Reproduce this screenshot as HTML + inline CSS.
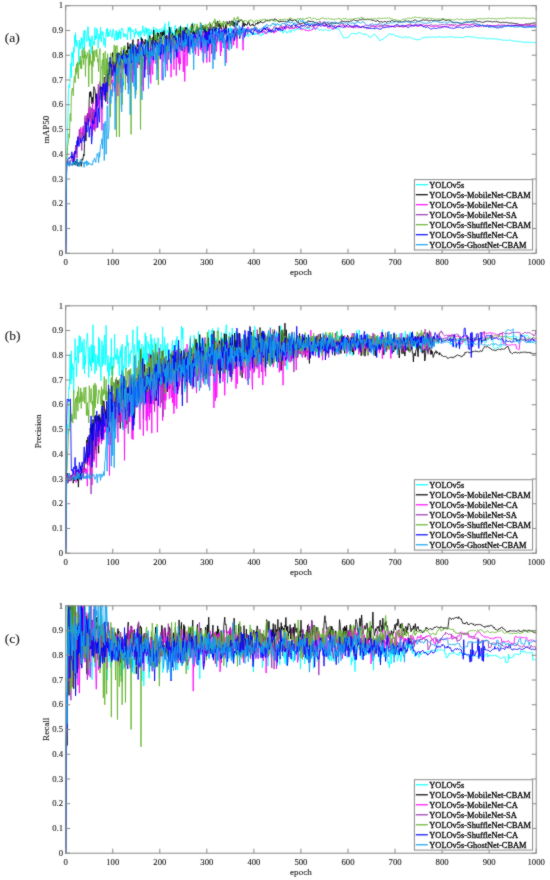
<!DOCTYPE html><html><head><meta charset="utf-8"><style>html,body{margin:0;padding:0;background:#fff;}svg{display:block;}text{font-family:'Liberation Serif','Times New Roman',serif;fill:#1a1a1a;stroke:#1a1a1a;stroke-width:0.12px;}text.lg{stroke-width:0.28px;fill:#000;stroke:#000}</style></head><body>
<svg width="550" height="880" viewBox="0 0 550 880">
<rect width="550" height="880" fill="#fff"/>
<defs><filter id="bl" filterUnits="userSpaceOnUse" x="0" y="0" width="550" height="880" color-interpolation-filters="sRGB"><feConvolveMatrix order="3" kernelMatrix="1 2 1 2 20 2 1 2 1" divisor="32" edgeMode="duplicate"/></filter></defs><g filter="url(#bl)"><rect width="550" height="880" fill="#fff"/>
<g transform="translate(65.70 253.30) scale(0.47050 -0.24760)" fill="none" stroke-width="0.85" stroke-linejoin="round" vector-effect="non-scaling-stroke">
<path vector-effect="non-scaling-stroke" stroke="#00FFFF" d="M0 0 1 298 2 385 3 441 4 496 5 571 6 653 7 681 8 669 9 687 10 741 11 769 12 709 13 813 14 789 15 810 16 756 17 831 18 811 19 881 20 848 21 891 22 833 23 862 24 853 25 850 26 833 27 828 28 759 29 861 30 827 31 850 32 826 33 872 34 844 35 868 36 806 37 848 38 880 39 900 40 827 41 900 42 898 43 883 44 870 45 854 46 881 47 916 48 913 49 859 50 875 51 835 52 865 53 842 54 806 55 876 56 879 57 875 58 840 59 852 60 858 61 841 62 912 63 862 64 880 65 867 66 909 67 905 68 886 69 828 70 857 71 886 72 864 73 866 74 914 75 855 76 854 77 897 78 882 79 895 80 887 81 840 82 869 83 865 84 831 85 872 86 894 87 906 88 876 89 910 90 875 91 894 92 876 93 878 94 892 95 904 96 893 97 883 98 872 99 871 100 898 101 906 102 891 103 877 104 859 105 875 106 881 107 900 108 862 109 896 110 885 111 861 112 892 113 868 114 903 115 883 116 895 117 865 118 906 119 910 120 905 121 906 122 895 123 874 124 888 125 883 126 873 127 876 128 886 129 879 130 878 131 862 132 893 133 912 134 895 135 899 136 914 137 912 138 864 139 908 140 900 141 901 142 894 143 900 144 899 145 890 146 869 147 891 148 884 149 908 150 892 151 896 152 884 153 885 154 894 155 875 156 897 157 889 158 880 159 862 160 899 161 884 162 888 163 892 164 919 165 898 166 892 167 877 168 906 169 910 170 912 171 885 172 909 173 894 174 905 175 843 176 877 177 908 178 873 179 891 180 893 181 883 182 903 183 895 184 887 185 887 186 892 187 915 188 904 189 892 190 863 191 877 192 909 193 898 194 894 195 904 196 859 197 888 198 891 199 905 200 890 201 889 202 876 203 905 204 909 205 894 206 900 207 860 208 890 209 915 210 902 211 928 212 893 213 875 214 897 215 901 216 900 217 892 218 887 219 936 220 903 221 874 222 886 223 906 224 887 225 914 226 877 227 896 228 893 229 871 230 888 231 879 232 911 233 921 234 887 235 883 236 875 237 884 238 858 239 879 240 912 241 897 242 910 243 895 244 921 245 858 246 896 247 914 248 901 249 864 250 900 251 900 252 905 253 891 254 908 255 912 256 894 257 901 258 874 259 927 260 896 261 894 262 877 263 894 264 899 265 910 266 895 267 872 268 883 269 888 270 931 271 885 272 895 273 884 274 886 275 898 276 901 277 892 278 884 279 915 280 890 281 894 282 898 283 894 284 864 285 896 286 888 287 887 288 891 289 908 290 889 291 882 292 905 293 911 294 892 295 900 296 893 297 905 298 857 299 904 300 890 301 913 302 911 303 856 304 871 305 900 306 900 307 881 308 900 309 906 310 900 311 896 312 913 313 893 314 910 315 906 316 894 317 896 318 890 319 905 320 877 321 888 322 888 323 900 324 910 325 888 326 906 327 875 328 901 329 898 330 903 331 867 332 901 333 899 334 903 335 899 336 903 337 892 338 907 339 888 340 886 341 896 342 911 343 908 344 901 345 889 346 893 347 896 348 904 349 911 350 894 351 912 352 903 353 894 354 908 355 893 356 898 357 899 358 905 359 909 360 894 361 909 362 911 363 902 364 894 365 888 366 891 367 888 368 885 369 893 370 896 371 892 372 897 373 904 374 894 375 889 376 896 377 898 378 898 379 902 380 893 381 884 382 881 383 884 384 881 385 880 386 877 387 877 388 874 389 879 390 884 391 883 392 882 393 880 394 884 395 884 396 891 397 886 398 887 399 888 400 886 401 888 402 882 403 891 404 885 405 889 406 884 407 889 408 887 409 888 410 888 411 892 412 890 413 879 414 877 415 879 416 879 417 883 418 887 419 887 420 882 421 888 422 892 423 890 424 897 425 895 426 890 427 889 428 893 429 889 430 896 431 892 432 895 433 896 434 895 435 898 436 892 437 896 438 895 439 893 440 895 441 898 442 900 443 905 444 907 445 909 446 906 447 905 448 905 449 904 450 903 451 904 452 905 453 904 454 902 455 899 456 896 457 899 458 899 459 901 460 897 461 892 462 889 463 894 464 898 465 899 466 897 467 897 468 896 469 896 470 890 471 889 472 890 473 895 474 897 475 901 476 901 477 901 478 891 479 894 480 897 481 902 482 902 483 903 484 902 485 899 486 899 487 899 488 904 489 904 490 903 491 905 492 906 493 905 494 909 495 905 496 905 497 908 498 905 499 907 500 911 501 912 502 908 503 906 504 909 505 909 506 909 507 910 508 911 509 909 510 908 511 908 512 907 513 906 514 908 515 906 516 910 517 913 518 908 519 907 520 908 521 906 522 904 523 903 524 905 525 904 526 907 527 907 528 906 529 909 530 909 531 909 532 908 533 910 534 911 535 910 536 906 537 906 538 904 539 901 540 900 541 901 542 903 543 903 544 904 545 901 546 901 547 901 548 902 549 902 550 903 551 902 552 903 553 903 554 901 555 902 556 901 557 899 558 901 559 900 560 899 561 899 562 900 563 902 564 902 565 903 566 905 567 906 568 907 569 906 570 907 571 907 572 909 573 907 574 906 575 908 576 907 577 907 578 907 579 906 580 908 581 903 582 900 583 897 584 894 585 890 586 886 587 884 588 879 589 877 590 872 591 869 592 870 593 869 594 871 595 872 596 872 597 871 598 871 599 872 600 872 601 872 602 874 603 879 604 881 605 884 606 886 607 888 608 887 609 887 610 888 611 888 612 888 613 888 614 888 615 887 616 885 617 884 618 885 619 887 620 890 621 890 622 892 623 893 624 892 625 891 626 891 627 889 628 888 629 888 630 886 631 885 632 886 633 885 634 885 635 885 636 886 637 885 638 885 639 884 640 882 641 882 642 880 643 878 644 877 645 873 646 872 647 872 648 873 649 876 650 876 651 877 652 879 653 881 654 883 655 883 656 885 657 885 658 882 659 880 660 877 661 875 662 875 663 871 664 867 665 866 666 863 667 862 668 858 669 860 670 861 671 862 672 864 673 864 674 864 675 867 676 868 677 870 678 871 679 873 680 873 681 873 682 876 683 877 684 880 685 880 686 883 687 884 688 886 689 888 690 887 691 884 692 882 693 884 694 884 695 883 696 882 697 883 698 882 699 880 700 881 701 881 702 878 703 877 704 877 705 877 706 876 707 875 708 874 709 874 710 873 711 873 712 874 713 873 714 873 715 871 716 871 717 872 718 872 719 873 720 873 721 873 722 874 723 873 724 874 725 874 726 872 727 873 728 874 729 873 730 873 731 872 732 871 733 871 734 870 735 870 736 868 737 868 738 867 739 866 740 864 741 865 742 866 743 864 744 864 745 863 746 863 747 862 748 862 749 862 750 863 751 863 752 865 753 863 754 865 755 866 756 867 757 869 758 870 759 871 760 870 761 871 762 871 763 871 764 873 765 873 766 873 767 873 768 872 769 873 770 874 771 874 772 872 773 873 774 873 775 872 776 873 777 873 778 873 779 875 780 874 781 873 782 872 783 873 784 873 785 873 786 873 787 873 788 873 789 873 790 873 791 875 792 874 793 874 794 875 795 875 796 874 797 874 798 873 799 873 800 872 801 873 802 873 803 873 804 873 805 873 806 873 807 873 808 872 809 873 810 873 811 873 812 875 813 874 814 875 815 874 816 874 817 874 818 875 819 875 820 875 821 874 822 874 823 873 824 873 825 872 826 872 827 872 828 872 829 872 830 872 831 873 832 872 833 872 834 872 835 872 836 872 837 872 838 872 839 872 840 871 841 871 842 871 843 871 844 871 845 871 846 872 847 873 848 874 849 874 850 875 851 875 852 875 853 875 854 875 855 875 856 875 857 874 858 875 859 876 860 875 861 873 862 873 863 873 864 873 865 873 866 873 867 874 868 874 869 873 870 873 871 872 872 872 873 871 874 870 875 870 876 870 877 870 878 870 879 869 880 869 881 869 882 869 883 869 884 870 885 870 886 870 887 870 888 870 889 870 890 869 891 869 892 868 893 868 894 866 895 866 896 867 897 866 898 867 899 867 900 866 901 867 902 867 903 866 904 867 905 866 906 866 907 866 908 866 909 867 910 867 911 866 912 866 913 866 914 865 915 865 916 866 917 866 918 865 919 865 920 865 921 864 922 863 923 863 924 863 925 863 926 862 927 862 928 862 929 861 930 861 931 860 932 860 933 862 934 862 935 861 936 861 937 860 938 860 939 860 940 861 941 860 942 860 943 861 944 862 945 861 946 861 947 861 948 859 949 859 950 858 951 858 952 857 953 857 954 857 955 857 956 857 957 856 958 856 959 857 960 855 961 855 962 856 963 855 964 855 965 855 966 855 967 855 968 854 969 854 970 854 971 853 972 852 973 852 974 852 975 852 976 852 977 852 978 853 979 854 980 854 981 853 982 852 983 852 984 852 985 852 986 852 987 851 988 852 989 852 990 852 991 851 992 851 993 851 994 850 995 851 996 851 997 851 998 851 999 851 1000 852"/>
<path vector-effect="non-scaling-stroke" stroke="#000000" d="M0 0 1 186 2 368 3 364 4 363 5 359 6 356 7 355 8 355 9 366 10 363 11 363 12 359 13 356 14 355 15 357 16 366 17 365 18 362 19 363 20 356 21 372 22 359 23 365 24 381 25 352 26 354 27 359 28 367 29 355 30 364 31 367 32 370 33 351 34 371 35 382 36 376 37 384 38 400 39 393 40 443 41 485 42 498 43 454 44 501 45 529 46 541 47 566 48 553 49 543 50 621 51 651 52 632 53 654 54 647 55 616 56 603 57 630 58 604 59 638 60 673 61 665 62 664 63 644 64 597 65 645 66 620 67 595 68 622 69 603 70 656 71 664 72 669 73 669 74 648 75 627 76 672 77 638 78 672 79 683 80 681 81 670 82 712 83 690 84 679 85 664 86 684 87 714 88 743 89 727 90 740 91 680 92 771 93 760 94 774 95 761 96 733 97 710 98 753 99 776 100 811 101 745 102 738 103 772 104 732 105 773 106 740 107 735 108 807 109 780 110 785 111 786 112 778 113 788 114 808 115 760 116 769 117 780 118 817 119 793 120 804 121 783 122 787 123 828 124 754 125 827 126 797 127 813 128 815 129 798 130 821 131 797 132 851 133 826 134 834 135 814 136 827 137 846 138 752 139 839 140 765 141 807 142 849 143 863 144 832 145 834 146 799 147 820 148 822 149 831 150 823 151 817 152 844 153 835 154 865 155 838 156 762 157 835 158 810 159 847 160 831 161 871 162 847 163 866 164 848 165 840 166 844 167 852 168 842 169 864 170 851 171 842 172 855 173 859 174 835 175 839 176 844 177 859 178 872 179 879 180 865 181 853 182 841 183 850 184 857 185 872 186 827 187 902 188 861 189 877 190 830 191 880 192 855 193 865 194 854 195 891 196 886 197 889 198 876 199 881 200 861 201 853 202 893 203 852 204 872 205 894 206 879 207 893 208 883 209 900 210 881 211 873 212 845 213 876 214 856 215 881 216 850 217 857 218 874 219 864 220 888 221 914 222 893 223 893 224 879 225 878 226 864 227 888 228 860 229 875 230 876 231 847 232 847 233 814 234 901 235 892 236 907 237 898 238 894 239 897 240 859 241 902 242 896 243 827 244 916 245 880 246 879 247 870 248 896 249 890 250 904 251 902 252 902 253 863 254 913 255 896 256 884 257 912 258 899 259 861 260 883 261 895 262 891 263 821 264 896 265 897 266 894 267 891 268 924 269 927 270 906 271 898 272 884 273 895 274 891 275 885 276 902 277 887 278 908 279 913 280 916 281 881 282 885 283 905 284 908 285 911 286 904 287 916 288 906 289 906 290 902 291 916 292 922 293 914 294 895 295 890 296 917 297 891 298 897 299 882 300 898 301 877 302 914 303 907 304 863 305 905 306 884 307 925 308 927 309 901 310 906 311 909 312 914 313 910 314 913 315 915 316 898 317 897 318 924 319 932 320 926 321 905 322 932 323 938 324 916 325 916 326 929 327 922 328 907 329 922 330 920 331 904 332 919 333 925 334 925 335 924 336 911 337 904 338 903 339 907 340 924 341 888 342 917 343 936 344 933 345 926 346 930 347 928 348 938 349 938 350 919 351 920 352 923 353 939 354 938 355 920 356 939 357 930 358 914 359 933 360 926 361 927 362 924 363 928 364 920 365 921 366 940 367 941 368 933 369 939 370 938 371 940 372 941 373 943 374 942 375 938 376 938 377 916 378 936 379 928 380 917 381 928 382 922 383 926 384 923 385 920 386 923 387 932 388 929 389 936 390 930 391 921 392 919 393 918 394 923 395 924 396 922 397 921 398 927 399 921 400 918 401 918 402 919 403 923 404 928 405 926 406 928 407 925 408 934 409 933 410 928 411 932 412 932 413 935 414 938 415 932 416 934 417 933 418 931 419 931 420 931 421 932 422 935 423 935 424 936 425 940 426 938 427 939 428 939 429 942 430 938 431 939 432 942 433 942 434 943 435 942 436 943 437 942 438 944 439 943 440 941 441 940 442 939 443 946 444 947 445 946 446 945 447 946 448 944 449 942 450 940 451 939 452 938 453 935 454 936 455 933 456 935 457 939 458 937 459 935 460 938 461 937 462 937 463 937 464 936 465 934 466 937 467 937 468 936 469 935 470 933 471 935 472 936 473 941 474 938 475 943 476 943 477 946 478 941 479 941 480 942 481 938 482 939 483 941 484 939 485 941 486 942 487 944 488 943 489 939 490 938 491 939 492 933 493 935 494 935 495 935 496 928 497 927 498 927 499 927 500 929 501 928 502 927 503 930 504 932 505 932 506 931 507 927 508 929 509 929 510 933 511 932 512 933 513 932 514 933 515 939 516 939 517 936 518 937 519 938 520 934 521 937 522 935 523 937 524 937 525 936 526 937 527 936 528 933 529 932 530 932 531 930 532 931 533 929 534 931 535 931 536 931 537 926 538 928 539 924 540 924 541 922 542 926 543 926 544 928 545 929 546 929 547 931 548 928 549 931 550 932 551 933 552 929 553 926 554 924 555 924 556 926 557 926 558 927 559 927 560 926 561 926 562 926 563 928 564 929 565 930 566 933 567 930 568 928 569 930 570 931 571 930 572 928 573 928 574 929 575 931 576 930 577 931 578 929 579 926 580 930 581 929 582 931 583 933 584 933 585 935 586 939 587 938 588 938 589 936 590 936 591 937 592 937 593 936 594 935 595 935 596 937 597 936 598 936 599 935 600 936 601 936 602 936 603 938 604 936 605 938 606 939 607 937 608 938 609 940 610 942 611 942 612 944 613 942 614 942 615 940 616 940 617 940 618 939 619 940 620 939 621 939 622 940 623 942 624 942 625 944 626 942 627 943 628 944 629 944 630 947 631 946 632 947 633 945 634 943 635 943 636 945 637 945 638 944 639 944 640 946 641 946 642 946 643 945 644 944 645 945 646 943 647 944 648 944 649 943 650 942 651 942 652 941 653 940 654 942 655 941 656 939 657 938 658 938 659 937 660 937 661 938 662 939 663 941 664 938 665 937 666 937 667 934 668 933 669 935 670 935 671 935 672 936 673 933 674 932 675 933 676 935 677 937 678 936 679 937 680 935 681 935 682 932 683 933 684 936 685 936 686 936 687 937 688 938 689 936 690 937 691 937 692 939 693 940 694 940 695 940 696 937 697 937 698 937 699 937 700 936 701 937 702 938 703 937 704 937 705 935 706 936 707 936 708 933 709 934 710 934 711 936 712 936 713 934 714 933 715 935 716 935 717 934 718 935 719 937 720 938 721 938 722 939 723 938 724 937 725 937 726 936 727 938 728 940 729 937 730 937 731 935 732 936 733 935 734 936 735 938 736 937 737 937 738 939 739 940 740 941 741 942 742 941 743 943 744 941 745 940 746 937 747 936 748 937 749 937 750 937 751 936 752 936 753 938 754 939 755 939 756 940 757 942 758 942 759 942 760 943 761 942 762 942 763 941 764 941 765 942 766 942 767 942 768 942 769 943 770 940 771 939 772 939 773 939 774 939 775 940 776 941 777 942 778 941 779 940 780 939 781 940 782 940 783 940 784 941 785 941 786 940 787 940 788 939 789 937 790 938 791 940 792 941 793 940 794 939 795 940 796 940 797 941 798 942 799 942 800 944 801 943 802 945 803 945 804 944 805 944 806 942 807 940 808 941 809 940 810 940 811 942 812 942 813 942 814 942 815 942 816 941 817 941 818 940 819 938 820 936 821 934 822 934 823 931 824 932 825 932 826 931 827 932 828 933 829 933 830 932 831 932 832 931 833 932 834 931 835 931 836 931 837 930 838 929 839 929 840 929 841 929 842 930 843 928 844 929 845 930 846 931 847 931 848 932 849 933 850 932 851 934 852 935 853 934 854 933 855 934 856 935 857 933 858 933 859 935 860 935 861 937 862 937 863 936 864 936 865 937 866 937 867 938 868 938 869 938 870 939 871 939 872 938 873 938 874 937 875 934 876 935 877 935 878 936 879 936 880 936 881 934 882 935 883 935 884 933 885 933 886 934 887 932 888 933 889 935 890 935 891 936 892 936 893 935 894 936 895 938 896 938 897 937 898 937 899 937 900 937 901 936 902 936 903 936 904 937 905 935 906 935 907 934 908 934 909 935 910 936 911 936 912 936 913 935 914 935 915 936 916 937 917 934 918 934 919 935 920 934 921 934 922 933 923 932 924 931 925 932 926 932 927 932 928 933 929 933 930 933 931 932 932 933 933 932 934 932 935 932 936 933 937 933 938 933 939 932 940 931 941 930 942 930 943 930 944 931 945 930 946 930 947 930 948 930 949 929 950 929 951 929 952 929 953 929 954 928 955 929 956 927 957 928 958 928 959 928 960 927 961 926 962 925 963 925 964 924 965 924 966 924 967 924 968 922 969 922 970 923 971 923 972 923 973 923 974 923 975 924 976 925 977 926 978 927 979 926 980 926 981 926 982 926 983 927 984 926 985 926 986 926 987 927 988 927 989 927 990 929 991 929 992 930 993 929 994 930 995 929 996 930 997 930 998 931 999 931 1000 931"/>
<path vector-effect="non-scaling-stroke" stroke="#FF00FF" d="M0 0 1 175 2 370 3 364 4 364 5 360 6 360 7 362 8 361 9 361 10 370 11 374 12 374 13 372 14 372 15 373 16 389 17 388 18 406 19 389 20 411 21 409 22 401 23 435 24 434 25 454 26 470 27 470 28 458 29 475 30 502 31 483 32 509 33 501 34 496 35 475 36 477 37 505 38 466 39 482 40 508 41 528 42 523 43 547 44 523 45 552 46 562 47 557 48 535 49 584 50 555 51 567 52 540 53 505 54 558 55 537 56 476 57 609 58 552 59 499 60 581 61 580 62 503 63 601 64 563 65 505 66 586 67 627 68 601 69 645 70 595 71 586 72 632 73 636 74 635 75 632 76 628 77 497 78 638 79 636 80 670 81 642 82 632 83 671 84 683 85 680 86 721 87 673 88 704 89 603 90 695 91 677 92 682 93 682 94 675 95 659 96 685 97 696 98 685 99 700 100 652 101 741 102 737 103 730 104 654 105 721 106 710 107 610 108 699 109 716 110 748 111 635 112 769 113 757 114 790 115 742 116 670 117 727 118 648 119 741 120 764 121 743 122 759 123 780 124 743 125 765 126 772 127 766 128 771 129 769 130 757 131 781 132 752 133 774 134 661 135 731 136 772 137 769 138 771 139 706 140 722 141 763 142 690 143 734 144 753 145 790 146 718 147 814 148 775 149 819 150 776 151 809 152 748 153 752 154 817 155 858 156 808 157 788 158 792 159 814 160 746 161 756 162 772 163 744 164 754 165 656 166 759 167 802 168 803 169 819 170 742 171 818 172 783 173 808 174 746 175 755 176 818 177 796 178 720 179 810 180 692 181 686 182 805 183 792 184 740 185 722 186 832 187 768 188 814 189 817 190 839 191 855 192 843 193 797 194 811 195 742 196 829 197 836 198 826 199 818 200 813 201 882 202 848 203 826 204 815 205 700 206 823 207 772 208 838 209 832 210 862 211 812 212 771 213 852 214 872 215 775 216 738 217 853 218 856 219 817 220 808 221 808 222 818 223 813 224 711 225 807 226 838 227 840 228 854 229 843 230 742 231 864 232 828 233 837 234 844 235 718 236 810 237 819 238 789 239 814 240 767 241 859 242 740 243 789 244 765 245 836 246 819 247 859 248 857 249 815 250 733 251 837 252 865 253 694 254 792 255 807 256 843 257 862 258 757 259 840 260 880 261 858 262 849 263 837 264 860 265 870 266 859 267 841 268 881 269 871 270 865 271 878 272 865 273 843 274 844 275 825 276 803 277 830 278 871 279 841 280 833 281 861 282 797 283 883 284 864 285 845 286 838 287 821 288 863 289 826 290 812 291 867 292 840 293 769 294 852 295 875 296 808 297 849 298 887 299 883 300 770 301 869 302 900 303 840 304 834 305 860 306 772 307 905 308 888 309 865 310 883 311 815 312 876 313 852 314 788 315 784 316 800 317 862 318 885 319 874 320 815 321 843 322 849 323 855 324 886 325 879 326 885 327 889 328 845 329 797 330 895 331 815 332 908 333 885 334 877 335 882 336 875 337 860 338 860 339 846 340 862 341 769 342 860 343 845 344 826 345 862 346 871 347 861 348 870 349 881 350 875 351 888 352 888 353 832 354 867 355 888 356 903 357 841 358 909 359 886 360 904 361 916 362 903 363 896 364 828 365 898 366 905 367 898 368 888 369 884 370 880 371 893 372 898 373 890 374 892 375 886 376 865 377 820 378 889 379 893 380 887 381 896 382 879 383 894 384 906 385 906 386 908 387 914 388 913 389 909 390 906 391 899 392 903 393 893 394 898 395 903 396 906 397 905 398 901 399 903 400 908 401 909 402 912 403 904 404 904 405 906 406 897 407 895 408 889 409 884 410 889 411 895 412 897 413 896 414 893 415 894 416 892 417 897 418 892 419 891 420 899 421 895 422 898 423 897 424 886 425 889 426 891 427 887 428 891 429 897 430 897 431 900 432 897 433 903 434 903 435 904 436 899 437 898 438 903 439 905 440 902 441 895 442 889 443 893 444 891 445 892 446 900 447 896 448 895 449 900 450 901 451 906 452 910 453 907 454 906 455 909 456 909 457 908 458 912 459 913 460 905 461 913 462 917 463 913 464 916 465 913 466 904 467 905 468 908 469 913 470 909 471 912 472 911 473 912 474 911 475 911 476 906 477 909 478 908 479 910 480 908 481 910 482 913 483 912 484 909 485 908 486 909 487 912 488 913 489 913 490 915 491 909 492 908 493 911 494 912 495 913 496 915 497 910 498 912 499 912 500 903 501 907 502 904 503 904 504 906 505 905 506 905 507 905 508 903 509 903 510 898 511 902 512 900 513 898 514 900 515 901 516 898 517 897 518 902 519 902 520 900 521 900 522 902 523 902 524 904 525 904 526 910 527 916 528 915 529 910 530 905 531 903 532 908 533 909 534 912 535 915 536 916 537 917 538 923 539 920 540 921 541 924 542 927 543 927 544 925 545 928 546 930 547 923 548 917 549 917 550 921 551 917 552 918 553 919 554 921 555 918 556 915 557 910 558 910 559 910 560 909 561 910 562 911 563 913 564 911 565 910 566 911 567 908 568 904 569 906 570 906 571 911 572 911 573 909 574 912 575 914 576 914 577 917 578 918 579 919 580 918 581 914 582 915 583 916 584 918 585 918 586 920 587 921 588 922 589 923 590 923 591 920 592 915 593 914 594 913 595 914 596 913 597 916 598 917 599 916 600 915 601 914 602 915 603 916 604 920 605 915 606 915 607 915 608 912 609 912 610 912 611 914 612 913 613 913 614 917 615 916 616 918 617 918 618 921 619 916 620 914 621 911 622 911 623 912 624 914 625 915 626 913 627 913 628 914 629 913 630 915 631 915 632 918 633 917 634 919 635 919 636 921 637 922 638 921 639 920 640 922 641 920 642 922 643 922 644 919 645 921 646 921 647 920 648 921 649 918 650 918 651 920 652 919 653 921 654 919 655 917 656 919 657 914 658 916 659 919 660 918 661 921 662 921 663 924 664 924 665 924 666 920 667 920 668 917 669 918 670 916 671 915 672 917 673 915 674 915 675 916 676 918 677 920 678 919 679 919 680 918 681 919 682 919 683 918 684 918 685 918 686 917 687 916 688 917 689 917 690 916 691 917 692 916 693 915 694 916 695 916 696 914 697 915 698 915 699 915 700 916 701 918 702 919 703 920 704 919 705 918 706 918 707 918 708 916 709 915 710 916 711 917 712 915 713 916 714 917 715 915 716 914 717 914 718 913 719 916 720 915 721 915 722 915 723 917 724 917 725 920 726 919 727 919 728 919 729 920 730 921 731 921 732 921 733 920 734 920 735 919 736 920 737 920 738 918 739 917 740 917 741 918 742 919 743 918 744 921 745 919 746 918 747 917 748 916 749 916 750 917 751 917 752 919 753 920 754 919 755 921 756 922 757 922 758 922 759 922 760 922 761 923 762 921 763 921 764 919 765 920 766 919 767 920 768 921 769 920 770 919 771 920 772 920 773 919 774 918 775 918 776 916 777 916 778 916 779 916 780 915 781 916 782 916 783 916 784 917 785 918 786 916 787 916 788 917 789 919 790 918 791 917 792 917 793 917 794 916 795 916 796 916 797 915 798 915 799 915 800 914 801 917 802 914 803 914 804 915 805 916 806 917 807 916 808 914 809 914 810 913 811 914 812 914 813 915 814 916 815 919 816 919 817 920 818 920 819 920 820 921 821 921 822 919 823 919 824 920 825 921 826 919 827 919 828 918 829 916 830 916 831 915 832 919 833 918 834 918 835 919 836 921 837 921 838 921 839 923 840 924 841 924 842 924 843 922 844 922 845 922 846 923 847 924 848 924 849 926 850 926 851 924 852 923 853 924 854 923 855 923 856 922 857 922 858 922 859 923 860 924 861 925 862 925 863 924 864 923 865 925 866 926 867 924 868 922 869 919 870 919 871 917 872 917 873 917 874 917 875 918 876 918 877 917 878 917 879 915 880 915 881 918 882 919 883 919 884 920 885 922 886 923 887 919 888 919 889 919 890 919 891 918 892 919 893 920 894 922 895 922 896 923 897 922 898 921 899 921 900 919 901 916 902 918 903 918 904 918 905 917 906 917 907 918 908 917 909 918 910 917 911 920 912 918 913 921 914 919 915 920 916 920 917 922 918 922 919 923 920 923 921 922 922 921 923 922 924 921 925 920 926 922 927 923 928 921 929 921 930 921 931 923 932 922 933 921 934 921 935 919 936 920 937 920 938 920 939 921 940 922 941 922 942 920 943 920 944 921 945 920 946 921 947 921 948 922 949 921 950 920 951 920 952 920 953 921 954 920 955 921 956 922 957 922 958 922 959 923 960 922 961 922 962 924 963 923 964 925 965 923 966 922 967 923 968 923 969 922 970 922 971 923 972 922 973 923 974 923 975 923 976 923 977 922 978 924 979 924 980 923 981 922 982 923 983 923 984 922 985 921 986 922 987 922 988 922 989 922 990 920 991 920 992 921 993 920 994 921 995 919 996 919 997 919 998 918 999 919 1000 919"/>
<path vector-effect="non-scaling-stroke" stroke="#9A30B0" d="M0 0 1 177 2 360 3 367 4 363 5 360 6 362 7 375 8 369 9 365 10 370 11 375 12 378 13 392 14 380 15 365 16 399 17 398 18 403 19 373 20 393 21 437 22 401 23 413 24 384 25 441 26 457 27 440 28 470 29 500 30 460 31 454 32 482 33 488 34 415 35 473 36 478 37 514 38 476 39 514 40 521 41 556 42 480 43 507 44 515 45 557 46 517 47 524 48 544 49 559 50 563 51 532 52 593 53 543 54 575 55 587 56 524 57 571 58 533 59 581 60 564 61 565 62 492 63 582 64 625 65 602 66 586 67 613 68 610 69 683 70 680 71 623 72 634 73 694 74 671 75 629 76 664 77 582 78 686 79 684 80 654 81 660 82 619 83 707 84 693 85 636 86 722 87 638 88 673 89 608 90 707 91 690 92 698 93 714 94 719 95 707 96 696 97 705 98 735 99 760 100 764 101 716 102 753 103 752 104 775 105 735 106 732 107 714 108 744 109 800 110 800 111 732 112 751 113 770 114 783 115 739 116 764 117 766 118 747 119 776 120 757 121 763 122 747 123 773 124 781 125 764 126 754 127 769 128 779 129 760 130 774 131 722 132 688 133 783 134 794 135 775 136 781 137 793 138 775 139 759 140 764 141 743 142 782 143 791 144 810 145 834 146 813 147 782 148 779 149 796 150 772 151 782 152 769 153 802 154 808 155 796 156 807 157 783 158 805 159 784 160 787 161 806 162 828 163 823 164 829 165 857 166 800 167 815 168 777 169 801 170 839 171 798 172 809 173 814 174 824 175 721 176 833 177 838 178 808 179 725 180 822 181 828 182 828 183 792 184 802 185 817 186 831 187 828 188 849 189 814 190 803 191 803 192 765 193 814 194 801 195 860 196 801 197 824 198 865 199 826 200 838 201 849 202 819 203 834 204 826 205 829 206 859 207 803 208 840 209 842 210 824 211 845 212 844 213 856 214 809 215 850 216 861 217 850 218 846 219 782 220 886 221 891 222 886 223 824 224 872 225 826 226 831 227 854 228 875 229 825 230 840 231 841 232 853 233 848 234 866 235 859 236 842 237 806 238 840 239 862 240 844 241 868 242 884 243 829 244 823 245 856 246 868 247 879 248 871 249 890 250 897 251 861 252 880 253 813 254 887 255 879 256 906 257 838 258 884 259 858 260 808 261 851 262 895 263 874 264 869 265 891 266 845 267 854 268 883 269 861 270 862 271 850 272 846 273 859 274 872 275 818 276 884 277 889 278 890 279 867 280 865 281 843 282 864 283 896 284 875 285 873 286 890 287 864 288 864 289 857 290 870 291 898 292 874 293 899 294 890 295 877 296 893 297 863 298 877 299 824 300 881 301 832 302 887 303 853 304 858 305 883 306 912 307 914 308 866 309 860 310 806 311 870 312 826 313 902 314 878 315 887 316 847 317 807 318 850 319 842 320 864 321 850 322 882 323 859 324 864 325 872 326 881 327 881 328 901 329 873 330 861 331 867 332 875 333 887 334 883 335 882 336 864 337 890 338 881 339 886 340 887 341 910 342 878 343 845 344 880 345 867 346 823 347 876 348 883 349 871 350 887 351 847 352 894 353 890 354 876 355 896 356 895 357 898 358 904 359 879 360 888 361 893 362 875 363 905 364 866 365 909 366 897 367 892 368 889 369 883 370 894 371 894 372 890 373 886 374 895 375 893 376 893 377 897 378 899 379 901 380 902 381 903 382 899 383 899 384 896 385 897 386 895 387 893 388 893 389 897 390 898 391 898 392 896 393 899 394 908 395 907 396 908 397 903 398 901 399 900 400 907 401 910 402 912 403 910 404 910 405 912 406 911 407 905 408 904 409 904 410 897 411 890 412 891 413 892 414 893 415 895 416 898 417 904 418 899 419 901 420 907 421 912 422 907 423 908 424 909 425 906 426 901 427 900 428 906 429 904 430 904 431 903 432 908 433 908 434 900 435 892 436 893 437 893 438 893 439 900 440 906 441 907 442 910 443 916 444 915 445 912 446 906 447 909 448 914 449 910 450 908 451 905 452 908 453 907 454 912 455 907 456 917 457 922 458 919 459 915 460 910 461 911 462 911 463 910 464 909 465 909 466 908 467 907 468 911 469 916 470 915 471 916 472 914 473 916 474 909 475 910 476 912 477 912 478 911 479 912 480 912 481 918 482 913 483 907 484 909 485 910 486 910 487 909 488 913 489 919 490 918 491 922 492 923 493 925 494 925 495 924 496 928 497 924 498 924 499 926 500 923 501 920 502 917 503 921 504 921 505 919 506 917 507 918 508 918 509 918 510 915 511 914 512 912 513 914 514 914 515 910 516 912 517 911 518 919 519 918 520 919 521 918 522 916 523 916 524 917 525 918 526 924 527 925 528 927 529 921 530 926 531 919 532 920 533 923 534 922 535 919 536 926 537 928 538 928 539 932 540 938 541 934 542 934 543 927 544 923 545 923 546 927 547 928 548 935 549 936 550 929 551 926 552 929 553 931 554 929 555 931 556 932 557 933 558 927 559 927 560 922 561 918 562 921 563 921 564 921 565 923 566 921 567 919 568 918 569 918 570 917 571 916 572 921 573 919 574 919 575 917 576 915 577 916 578 916 579 917 580 916 581 919 582 923 583 923 584 925 585 929 586 928 587 926 588 927 589 929 590 925 591 920 592 918 593 922 594 922 595 923 596 920 597 919 598 915 599 913 600 915 601 915 602 915 603 915 604 914 605 915 606 913 607 914 608 914 609 917 610 912 611 913 612 911 613 912 614 911 615 910 616 911 617 913 618 914 619 917 620 917 621 919 622 917 623 916 624 917 625 914 626 912 627 913 628 911 629 914 630 916 631 914 632 915 633 914 634 914 635 914 636 913 637 913 638 911 639 908 640 908 641 909 642 908 643 909 644 908 645 911 646 910 647 912 648 914 649 918 650 916 651 916 652 919 653 916 654 915 655 913 656 913 657 914 658 914 659 915 660 916 661 914 662 914 663 914 664 916 665 917 666 916 667 915 668 916 669 919 670 919 671 919 672 917 673 922 674 922 675 920 676 920 677 923 678 924 679 924 680 924 681 920 682 919 683 919 684 920 685 920 686 920 687 921 688 919 689 917 690 916 691 918 692 918 693 919 694 918 695 917 696 917 697 916 698 914 699 914 700 914 701 913 702 916 703 917 704 916 705 916 706 917 707 916 708 917 709 916 710 915 711 917 712 915 713 914 714 916 715 916 716 916 717 917 718 916 719 916 720 916 721 917 722 916 723 917 724 920 725 922 726 923 727 923 728 921 729 925 730 923 731 925 732 926 733 927 734 926 735 922 736 919 737 918 738 917 739 919 740 921 741 922 742 925 743 926 744 925 745 925 746 924 747 923 748 925 749 926 750 925 751 926 752 925 753 926 754 924 755 924 756 924 757 921 758 918 759 916 760 915 761 915 762 917 763 918 764 917 765 918 766 921 767 921 768 921 769 920 770 919 771 921 772 919 773 920 774 921 775 920 776 924 777 924 778 921 779 922 780 920 781 921 782 920 783 920 784 921 785 921 786 922 787 921 788 921 789 920 790 919 791 919 792 921 793 922 794 922 795 923 796 921 797 922 798 923 799 926 800 926 801 923 802 924 803 925 804 924 805 923 806 924 807 923 808 925 809 925 810 926 811 923 812 923 813 923 814 924 815 923 816 924 817 922 818 924 819 923 820 924 821 923 822 923 823 923 824 923 825 923 826 921 827 923 828 924 829 924 830 923 831 922 832 920 833 920 834 919 835 920 836 921 837 922 838 922 839 921 840 921 841 922 842 921 843 923 844 924 845 923 846 923 847 923 848 924 849 922 850 923 851 922 852 924 853 924 854 922 855 924 856 922 857 921 858 920 859 921 860 921 861 922 862 923 863 924 864 925 865 926 866 928 867 926 868 927 869 927 870 927 871 926 872 926 873 927 874 924 875 924 876 924 877 924 878 923 879 923 880 922 881 921 882 919 883 918 884 919 885 920 886 919 887 918 888 917 889 918 890 918 891 919 892 918 893 918 894 918 895 919 896 919 897 920 898 918 899 918 900 919 901 918 902 919 903 917 904 916 905 916 906 916 907 918 908 919 909 919 910 918 911 918 912 917 913 917 914 917 915 917 916 917 917 917 918 918 919 920 920 920 921 918 922 917 923 916 924 916 925 918 926 919 927 919 928 920 929 921 930 921 931 920 932 921 933 921 934 919 935 919 936 919 937 920 938 920 939 919 940 920 941 920 942 920 943 920 944 919 945 918 946 918 947 918 948 919 949 918 950 918 951 920 952 921 953 920 954 919 955 920 956 921 957 920 958 920 959 919 960 919 961 919 962 920 963 921 964 921 965 919 966 920 967 919 968 919 969 920 970 920 971 920 972 920 973 919 974 920 975 919 976 920 977 920 978 920 979 920 980 920 981 920 982 922 983 921 984 921 985 920 986 921 987 921 988 921 989 921 990 921 991 920 992 919 993 921 994 922 995 924 996 925 997 925 998 924 999 924 1000 923"/>
<path vector-effect="non-scaling-stroke" stroke="#62B22C" d="M0 0 1 195 2 379 3 390 4 431 5 442 6 454 7 483 8 467 9 548 10 565 11 533 12 647 13 656 14 667 15 660 16 636 17 685 18 706 19 717 20 689 21 748 22 722 23 765 24 733 25 772 26 718 27 704 28 768 29 764 30 778 31 797 32 746 33 779 34 745 35 821 36 789 37 800 38 762 39 831 40 791 41 817 42 714 43 802 44 785 45 793 46 811 47 806 48 790 49 673 50 822 51 759 52 804 53 777 54 767 55 776 56 684 57 838 58 754 59 816 60 776 61 775 62 821 63 814 64 809 65 793 66 824 67 798 68 772 69 784 70 734 71 800 72 809 73 827 74 620 75 739 76 755 77 757 78 782 79 690 80 809 81 754 82 719 83 786 84 816 85 612 86 700 87 787 88 615 89 806 90 764 91 711 92 677 93 760 94 762 95 550 96 808 97 734 98 772 99 791 100 778 101 795 102 811 103 842 104 831 105 734 106 837 107 664 108 470 109 840 110 797 111 692 112 813 113 779 114 470 115 737 116 811 117 798 118 830 119 833 120 600 121 797 122 772 123 784 124 837 125 782 126 839 127 660 128 778 129 761 130 810 131 788 132 809 133 786 134 802 135 823 136 768 137 784 138 776 139 480 140 809 141 804 142 796 143 814 144 803 145 806 146 790 147 797 148 825 149 640 150 781 151 826 152 826 153 791 154 815 155 819 156 840 157 842 158 789 159 500 160 778 161 825 162 676 163 807 164 743 165 786 166 772 167 805 168 815 169 843 170 821 171 792 172 826 173 809 174 818 175 751 176 839 177 830 178 853 179 867 180 864 181 853 182 831 183 870 184 857 185 806 186 849 187 793 188 853 189 881 190 874 191 844 192 887 193 853 194 783 195 860 196 846 197 680 198 867 199 877 200 887 201 878 202 808 203 871 204 875 205 858 206 845 207 857 208 872 209 878 210 860 211 865 212 865 213 841 214 859 215 809 216 842 217 851 218 873 219 864 220 851 221 835 222 888 223 887 224 868 225 784 226 882 227 850 228 879 229 858 230 881 231 867 232 843 233 883 234 878 235 884 236 885 237 901 238 882 239 893 240 891 241 902 242 913 243 879 244 887 245 893 246 897 247 874 248 852 249 912 250 911 251 898 252 882 253 883 254 891 255 900 256 902 257 877 258 900 259 844 260 892 261 906 262 898 263 858 264 900 265 915 266 918 267 919 268 916 269 885 270 905 271 907 272 914 273 919 274 927 275 905 276 890 277 897 278 906 279 927 280 906 281 910 282 913 283 888 284 862 285 894 286 933 287 925 288 901 289 902 290 908 291 907 292 911 293 922 294 909 295 918 296 920 297 926 298 925 299 908 300 920 301 896 302 925 303 925 304 926 305 920 306 934 307 927 308 925 309 915 310 922 311 904 312 929 313 929 314 937 315 938 316 928 317 947 318 937 319 938 320 909 321 919 322 928 323 931 324 935 325 936 326 935 327 941 328 934 329 924 330 930 331 912 332 931 333 925 334 918 335 939 336 927 337 925 338 934 339 936 340 929 341 921 342 916 343 922 344 922 345 926 346 926 347 926 348 919 349 916 350 926 351 924 352 928 353 933 354 923 355 923 356 941 357 944 358 952 359 944 360 938 361 938 362 946 363 949 364 947 365 946 366 956 367 952 368 947 369 940 370 943 371 944 372 946 373 940 374 940 375 941 376 930 377 932 378 932 379 936 380 940 381 942 382 939 383 939 384 939 385 938 386 935 387 935 388 931 389 940 390 942 391 939 392 943 393 942 394 943 395 942 396 938 397 938 398 938 399 932 400 934 401 934 402 932 403 940 404 939 405 940 406 942 407 942 408 938 409 938 410 938 411 938 412 938 413 944 414 944 415 943 416 942 417 941 418 940 419 945 420 945 421 943 422 944 423 947 424 946 425 943 426 940 427 943 428 944 429 943 430 942 431 939 432 940 433 936 434 940 435 942 436 943 437 943 438 945 439 945 440 945 441 943 442 943 443 939 444 937 445 936 446 938 447 938 448 943 449 941 450 936 451 936 452 941 453 943 454 942 455 942 456 946 457 941 458 943 459 945 460 944 461 942 462 946 463 944 464 946 465 946 466 945 467 944 468 943 469 945 470 947 471 944 472 943 473 945 474 947 475 947 476 951 477 951 478 950 479 950 480 949 481 948 482 945 483 944 484 943 485 945 486 944 487 942 488 944 489 942 490 943 491 941 492 946 493 948 494 948 495 946 496 948 497 945 498 946 499 948 500 948 501 944 502 947 503 945 504 949 505 948 506 946 507 944 508 945 509 947 510 949 511 947 512 951 513 949 514 948 515 950 516 952 517 951 518 952 519 954 520 952 521 948 522 946 523 945 524 946 525 948 526 949 527 949 528 950 529 949 530 949 531 948 532 945 533 945 534 942 535 945 536 943 537 946 538 945 539 945 540 944 541 945 542 949 543 950 544 949 545 950 546 951 547 951 548 951 549 948 550 946 551 947 552 948 553 948 554 947 555 946 556 946 557 948 558 949 559 949 560 947 561 947 562 947 563 945 564 946 565 947 566 948 567 945 568 945 569 944 570 946 571 945 572 945 573 946 574 946 575 947 576 945 577 946 578 946 579 948 580 949 581 950 582 946 583 945 584 945 585 945 586 945 587 946 588 947 589 947 590 948 591 948 592 947 593 946 594 949 595 950 596 946 597 946 598 944 599 944 600 945 601 945 602 946 603 945 604 946 605 946 606 946 607 945 608 946 609 945 610 947 611 946 612 946 613 948 614 948 615 948 616 950 617 948 618 948 619 948 620 948 621 949 622 951 623 949 624 948 625 949 626 951 627 952 628 953 629 953 630 953 631 951 632 950 633 951 634 949 635 947 636 944 637 944 638 943 639 943 640 944 641 944 642 943 643 945 644 946 645 945 646 945 647 945 648 946 649 947 650 947 651 946 652 946 653 946 654 947 655 948 656 948 657 948 658 948 659 948 660 947 661 946 662 946 663 948 664 949 665 950 666 949 667 950 668 949 669 948 670 949 671 948 672 948 673 949 674 950 675 949 676 947 677 948 678 950 679 949 680 950 681 949 682 949 683 950 684 951 685 950 686 949 687 951 688 950 689 949 690 948 691 949 692 948 693 947 694 947 695 947 696 946 697 944 698 944 699 944 700 944 701 943 702 944 703 941 704 940 705 942 706 942 707 941 708 942 709 939 710 940 711 940 712 939 713 941 714 943 715 943 716 944 717 945 718 946 719 947 720 946 721 945 722 945 723 947 724 948 725 949 726 948 727 950 728 951 729 950 730 949 731 949 732 949 733 949 734 948 735 948 736 951 737 951 738 952 739 951 740 953 741 953 742 954 743 955 744 954 745 953 746 952 747 953 748 952 749 951 750 952 751 951 752 951 753 952 754 953 755 952 756 951 757 949 758 949 759 949 760 949 761 950 762 951 763 951 764 950 765 950 766 947 767 948 768 950 769 950 770 949 771 948 772 950 773 950 774 950 775 949 776 949 777 949 778 949 779 949 780 948 781 947 782 947 783 945 784 946 785 947 786 946 787 946 788 946 789 946 790 946 791 946 792 947 793 945 794 946 795 946 796 946 797 946 798 946 799 946 800 948 801 948 802 946 803 947 804 945 805 946 806 944 807 945 808 945 809 945 810 944 811 943 812 944 813 945 814 944 815 944 816 945 817 945 818 944 819 943 820 943 821 943 822 944 823 944 824 943 825 942 826 943 827 943 828 944 829 945 830 945 831 946 832 947 833 947 834 946 835 944 836 943 837 943 838 944 839 945 840 946 841 946 842 945 843 944 844 945 845 943 846 944 847 943 848 943 849 944 850 944 851 944 852 944 853 943 854 943 855 943 856 944 857 944 858 944 859 945 860 946 861 946 862 944 863 944 864 945 865 946 866 945 867 945 868 945 869 944 870 945 871 945 872 947 873 946 874 946 875 947 876 946 877 948 878 946 879 948 880 947 881 947 882 947 883 947 884 947 885 947 886 947 887 948 888 947 889 947 890 947 891 948 892 948 893 948 894 948 895 948 896 949 897 948 898 949 899 950 900 949 901 949 902 948 903 948 904 947 905 947 906 947 907 949 908 949 909 947 910 948 911 948 912 947 913 947 914 947 915 947 916 947 917 947 918 947 919 947 920 948 921 948 922 948 923 948 924 949 925 948 926 947 927 947 928 948 929 948 930 948 931 948 932 947 933 948 934 949 935 950 936 950 937 951 938 950 939 951 940 951 941 951 942 951 943 950 944 950 945 950 946 949 947 950 948 950 949 951 950 951 951 950 952 950 953 950 954 950 955 950 956 950 957 950 958 950 959 950 960 950 961 950 962 950 963 949 964 950 965 951 966 950 967 950 968 950 969 949 970 949 971 950 972 950 973 951 974 951 975 950 976 950 977 950 978 949 979 949 980 949 981 949 982 949 983 949 984 949 985 948 986 949 987 949 988 948 989 949 990 950 991 950 992 950 993 949 994 950 995 949 996 948 997 947 998 947 999 947 1000 947"/>
<path vector-effect="non-scaling-stroke" stroke="#0000FF" d="M0 0 1 181 2 365 3 368 4 375 5 382 6 385 7 386 8 381 9 385 10 391 11 390 12 385 13 410 14 397 15 385 16 391 17 360 18 380 19 412 20 408 21 403 22 419 23 424 24 455 25 434 26 471 27 440 28 431 29 436 30 454 31 464 32 445 33 451 34 455 35 454 36 468 37 472 38 474 39 449 40 451 41 478 42 490 43 531 44 513 45 489 46 492 47 496 48 544 49 516 50 469 51 507 52 505 53 515 54 502 55 441 56 463 57 540 58 523 59 532 60 524 61 555 62 549 63 570 64 553 65 600 66 643 67 556 68 508 69 558 70 587 71 544 72 529 73 628 74 674 75 653 76 643 77 590 78 669 79 659 80 686 81 671 82 640 83 640 84 685 85 613 86 685 87 692 88 651 89 694 90 725 91 724 92 722 93 729 94 792 95 778 96 753 97 763 98 731 99 718 100 739 101 737 102 751 103 760 104 757 105 667 106 766 107 766 108 765 109 779 110 804 111 809 112 773 113 772 114 773 115 760 116 769 117 780 118 799 119 789 120 795 121 783 122 804 123 821 124 778 125 772 126 766 127 725 128 805 129 800 130 717 131 791 132 800 133 792 134 805 135 812 136 821 137 811 138 795 139 768 140 827 141 807 142 810 143 835 144 827 145 723 146 802 147 840 148 834 149 820 150 794 151 813 152 826 153 771 154 809 155 802 156 841 157 824 158 805 159 838 160 849 161 856 162 833 163 833 164 808 165 796 166 827 167 822 168 710 169 802 170 839 171 835 172 840 173 839 174 801 175 852 176 813 177 786 178 768 179 806 180 786 181 845 182 846 183 856 184 862 185 832 186 780 187 819 188 849 189 833 190 841 191 861 192 854 193 852 194 844 195 850 196 842 197 834 198 799 199 854 200 851 201 784 202 872 203 803 204 845 205 834 206 844 207 836 208 830 209 807 210 828 211 865 212 795 213 876 214 857 215 839 216 847 217 852 218 854 219 835 220 891 221 878 222 844 223 821 224 769 225 829 226 862 227 848 228 868 229 879 230 873 231 872 232 879 233 861 234 860 235 872 236 793 237 845 238 851 239 853 240 869 241 836 242 877 243 888 244 864 245 839 246 838 247 818 248 819 249 898 250 882 251 838 252 901 253 857 254 885 255 848 256 888 257 846 258 838 259 865 260 878 261 859 262 812 263 866 264 882 265 866 266 832 267 883 268 882 269 826 270 892 271 872 272 875 273 839 274 887 275 874 276 880 277 868 278 867 279 853 280 870 281 869 282 905 283 890 284 876 285 882 286 874 287 864 288 831 289 881 290 876 291 864 292 867 293 871 294 850 295 880 296 866 297 900 298 874 299 858 300 894 301 882 302 818 303 836 304 895 305 844 306 906 307 870 308 848 309 892 310 887 311 884 312 907 313 886 314 858 315 849 316 872 317 840 318 910 319 911 320 902 321 897 322 874 323 873 324 894 325 893 326 911 327 861 328 868 329 863 330 877 331 857 332 900 333 898 334 850 335 896 336 903 337 907 338 889 339 896 340 894 341 903 342 853 343 855 344 880 345 861 346 908 347 891 348 889 349 871 350 873 351 859 352 878 353 870 354 884 355 889 356 900 357 898 358 883 359 859 360 876 361 883 362 886 363 895 364 896 365 894 366 900 367 887 368 889 369 886 370 867 371 885 372 902 373 908 374 899 375 916 376 920 377 896 378 889 379 885 380 872 381 885 382 898 383 906 384 906 385 905 386 893 387 906 388 900 389 901 390 898 391 895 392 896 393 895 394 889 395 894 396 892 397 889 398 882 399 891 400 897 401 898 402 903 403 907 404 900 405 896 406 894 407 894 408 894 409 901 410 897 411 898 412 900 413 892 414 895 415 897 416 894 417 901 418 898 419 902 420 909 421 909 422 905 423 908 424 902 425 910 426 908 427 912 428 912 429 915 430 907 431 896 432 900 433 896 434 897 435 896 436 902 437 898 438 897 439 897 440 895 441 896 442 899 443 896 444 896 445 901 446 907 447 909 448 908 449 910 450 908 451 901 452 900 453 908 454 906 455 907 456 900 457 905 458 903 459 902 460 901 461 898 462 903 463 906 464 907 465 913 466 910 467 919 468 919 469 919 470 923 471 924 472 923 473 922 474 921 475 922 476 919 477 919 478 915 479 917 480 922 481 920 482 922 483 923 484 924 485 923 486 922 487 919 488 918 489 922 490 923 491 920 492 915 493 916 494 916 495 915 496 912 497 914 498 913 499 915 500 921 501 920 502 919 503 918 504 917 505 919 506 920 507 920 508 924 509 924 510 923 511 924 512 920 513 926 514 923 515 925 516 923 517 919 518 922 519 919 520 919 521 924 522 925 523 926 524 923 525 921 526 916 527 919 528 919 529 922 530 921 531 923 532 922 533 922 534 925 535 926 536 928 537 923 538 923 539 923 540 919 541 918 542 917 543 917 544 919 545 920 546 923 547 921 548 920 549 920 550 918 551 917 552 924 553 923 554 923 555 922 556 918 557 919 558 915 559 917 560 914 561 920 562 918 563 917 564 917 565 919 566 919 567 915 568 914 569 914 570 913 571 914 572 915 573 912 574 909 575 911 576 914 577 914 578 916 579 915 580 917 581 914 582 917 583 916 584 915 585 915 586 914 587 914 588 915 589 913 590 911 591 913 592 912 593 916 594 916 595 917 596 919 597 919 598 922 599 923 600 925 601 924 602 923 603 921 604 919 605 917 606 918 607 917 608 918 609 918 610 916 611 915 612 914 613 919 614 923 615 919 616 918 617 919 618 917 619 921 620 920 621 917 622 915 623 914 624 913 625 914 626 913 627 913 628 911 629 915 630 917 631 915 632 914 633 915 634 912 635 910 636 910 637 913 638 911 639 911 640 911 641 910 642 913 643 909 644 910 645 908 646 908 647 908 648 909 649 909 650 906 651 908 652 908 653 909 654 907 655 907 656 906 657 909 658 908 659 910 660 909 661 909 662 910 663 908 664 907 665 907 666 906 667 906 668 904 669 907 670 905 671 907 672 908 673 909 674 912 675 911 676 913 677 914 678 911 679 912 680 912 681 912 682 913 683 915 684 913 685 913 686 914 687 913 688 914 689 914 690 914 691 916 692 918 693 915 694 916 695 916 696 914 697 917 698 919 699 920 700 920 701 922 702 922 703 924 704 925 705 925 706 924 707 920 708 918 709 919 710 918 711 918 712 917 713 918 714 921 715 921 716 921 717 918 718 919 719 920 720 920 721 921 722 919 723 920 724 918 725 915 726 913 727 913 728 911 729 912 730 913 731 915 732 918 733 919 734 918 735 919 736 919 737 920 738 922 739 921 740 920 741 921 742 919 743 920 744 921 745 920 746 919 747 921 748 919 749 919 750 920 751 920 752 919 753 922 754 923 755 923 756 920 757 919 758 919 759 917 760 915 761 915 762 915 763 915 764 914 765 912 766 913 767 913 768 914 769 915 770 912 771 912 772 911 773 910 774 908 775 906 776 905 777 906 778 906 779 907 780 909 781 909 782 909 783 910 784 909 785 908 786 908 787 908 788 908 789 909 790 910 791 910 792 910 793 911 794 910 795 911 796 910 797 911 798 912 799 913 800 912 801 913 802 913 803 915 804 914 805 916 806 915 807 914 808 914 809 916 810 917 811 915 812 913 813 911 814 912 815 911 816 911 817 910 818 910 819 910 820 909 821 911 822 910 823 910 824 908 825 908 826 909 827 910 828 910 829 911 830 912 831 910 832 913 833 913 834 913 835 913 836 914 837 914 838 912 839 912 840 913 841 911 842 909 843 910 844 910 845 910 846 909 847 912 848 914 849 915 850 915 851 915 852 914 853 913 854 913 855 914 856 914 857 912 858 914 859 914 860 914 861 914 862 915 863 916 864 914 865 914 866 915 867 916 868 917 869 920 870 920 871 920 872 920 873 919 874 918 875 917 876 917 877 918 878 918 879 920 880 918 881 919 882 920 883 920 884 919 885 919 886 921 887 920 888 919 889 918 890 918 891 917 892 917 893 918 894 917 895 916 896 917 897 917 898 917 899 917 900 917 901 919 902 918 903 919 904 919 905 920 906 918 907 916 908 916 909 917 910 916 911 914 912 914 913 913 914 912 915 911 916 910 917 911 918 911 919 911 920 910 921 911 922 911 923 913 924 914 925 914 926 913 927 912 928 913 929 913 930 914 931 915 932 916 933 917 934 919 935 918 936 919 937 919 938 919 939 919 940 920 941 919 942 919 943 919 944 919 945 918 946 918 947 918 948 918 949 919 950 918 951 919 952 918 953 918 954 919 955 919 956 919 957 920 958 920 959 920 960 919 961 918 962 918 963 918 964 918 965 918 966 918 967 917 968 918 969 918 970 918 971 917 972 915 973 914 974 914 975 913 976 913 977 913 978 914 979 914 980 914 981 914 982 915 983 917 984 916 985 916 986 916 987 916 988 915 989 915 990 915 991 916 992 918 993 918 994 918 995 917 996 916 997 916 998 917 999 917 1000 916"/>
<path vector-effect="non-scaling-stroke" stroke="#10A0F0" d="M0 0 1 194 2 368 3 355 4 356 5 365 6 361 7 368 8 351 9 372 10 375 11 355 12 359 13 357 14 359 15 368 16 360 17 356 18 366 19 373 20 363 21 365 22 355 23 369 24 381 25 372 26 366 27 351 28 360 29 350 30 368 31 379 32 378 33 370 34 370 35 362 36 367 37 368 38 367 39 347 40 365 41 370 42 362 43 369 44 374 45 353 46 371 47 365 48 358 49 367 50 361 51 363 52 359 53 361 54 357 55 361 56 358 57 356 58 374 59 370 60 373 61 384 62 378 63 376 64 367 65 387 66 392 67 403 68 394 69 391 70 366 71 408 72 388 73 407 74 436 75 440 76 444 77 463 78 422 79 460 80 508 81 524 82 375 83 525 84 533 85 507 86 400 87 476 88 596 89 595 90 462 91 485 92 500 93 628 94 625 95 657 96 605 97 661 98 635 99 634 100 690 101 686 102 678 103 690 104 728 105 500 106 691 107 724 108 746 109 723 110 719 111 748 112 684 113 788 114 772 115 801 116 737 117 735 118 600 119 571 120 707 121 653 122 693 123 678 124 802 125 770 126 789 127 780 128 764 129 768 130 787 131 771 132 765 133 643 134 745 135 825 136 813 137 560 138 780 139 834 140 847 141 779 142 801 143 797 144 736 145 674 146 844 147 661 148 625 149 797 150 660 151 790 152 807 153 770 154 808 155 775 156 769 157 826 158 853 159 802 160 814 161 816 162 620 163 751 164 816 165 828 166 847 167 832 168 802 169 817 170 818 171 831 172 861 173 807 174 819 175 765 176 665 177 813 178 771 179 819 180 760 181 813 182 798 183 822 184 795 185 812 186 796 187 845 188 841 189 832 190 779 191 801 192 825 193 847 194 700 195 841 196 811 197 797 198 851 199 836 200 811 201 830 202 866 203 856 204 845 205 841 206 760 207 698 208 712 209 774 210 788 211 866 212 712 213 814 214 764 215 815 216 840 217 864 218 814 219 844 220 852 221 807 222 787 223 800 224 811 225 765 226 869 227 858 228 836 229 823 230 839 231 784 232 797 233 858 234 857 235 825 236 849 237 843 238 829 239 812 240 856 241 854 242 874 243 840 244 850 245 840 246 819 247 822 248 833 249 860 250 832 251 852 252 838 253 857 254 886 255 825 256 864 257 842 258 867 259 877 260 904 261 886 262 902 263 893 264 803 265 873 266 879 267 886 268 861 269 886 270 809 271 858 272 741 273 871 274 848 275 833 276 845 277 841 278 866 279 855 280 833 281 904 282 842 283 824 284 872 285 865 286 875 287 903 288 929 289 891 290 855 291 868 292 775 293 857 294 871 295 860 296 838 297 862 298 835 299 788 300 861 301 857 302 858 303 850 304 847 305 882 306 863 307 867 308 895 309 899 310 847 311 871 312 839 313 745 314 863 315 895 316 860 317 782 318 862 319 858 320 859 321 862 322 879 323 887 324 885 325 885 326 855 327 853 328 887 329 864 330 894 331 884 332 854 333 886 334 894 335 829 336 871 337 864 338 823 339 757 340 851 341 884 342 877 343 885 344 896 345 893 346 883 347 819 348 874 349 883 350 880 351 892 352 825 353 907 354 883 355 889 356 867 357 883 358 878 359 879 360 917 361 925 362 940 363 913 364 907 365 880 366 902 367 905 368 882 369 920 370 876 371 912 372 879 373 898 374 899 375 897 376 893 377 903 378 859 379 910 380 904 381 906 382 907 383 901 384 900 385 901 386 897 387 882 388 907 389 902 390 900 391 898 392 899 393 904 394 907 395 895 396 905 397 907 398 906 399 906 400 910 401 913 402 905 403 915 404 913 405 908 406 904 407 901 408 904 409 895 410 892 411 899 412 907 413 903 414 905 415 907 416 907 417 906 418 911 419 910 420 912 421 916 422 912 423 910 424 920 425 916 426 921 427 925 428 925 429 923 430 922 431 919 432 920 433 919 434 918 435 917 436 921 437 921 438 921 439 929 440 928 441 930 442 926 443 922 444 925 445 928 446 917 447 921 448 925 449 925 450 928 451 924 452 926 453 922 454 922 455 922 456 923 457 919 458 922 459 924 460 929 461 927 462 929 463 927 464 930 465 928 466 924 467 923 468 930 469 935 470 935 471 936 472 937 473 932 474 939 475 935 476 932 477 932 478 929 479 931 480 934 481 933 482 934 483 932 484 927 485 924 486 931 487 931 488 926 489 923 490 922 491 925 492 927 493 932 494 939 495 940 496 941 497 945 498 942 499 941 500 935 501 938 502 935 503 936 504 943 505 938 506 936 507 933 508 930 509 932 510 928 511 929 512 930 513 934 514 928 515 925 516 929 517 924 518 925 519 929 520 925 521 923 522 927 523 924 524 927 525 931 526 931 527 931 528 931 529 929 530 932 531 934 532 934 533 934 534 930 535 928 536 923 537 922 538 925 539 926 540 925 541 925 542 924 543 928 544 925 545 929 546 930 547 927 548 929 549 931 550 930 551 935 552 933 553 932 554 932 555 934 556 933 557 935 558 934 559 935 560 934 561 934 562 932 563 932 564 928 565 925 566 925 567 928 568 925 569 927 570 933 571 934 572 935 573 935 574 930 575 929 576 930 577 927 578 928 579 927 580 929 581 929 582 930 583 931 584 931 585 934 586 932 587 930 588 930 589 931 590 928 591 930 592 930 593 931 594 930 595 930 596 930 597 930 598 928 599 929 600 931 601 931 602 932 603 930 604 931 605 930 606 930 607 928 608 929 609 931 610 931 611 928 612 931 613 930 614 926 615 930 616 929 617 930 618 931 619 934 620 937 621 934 622 935 623 932 624 932 625 932 626 931 627 929 628 930 629 932 630 933 631 937 632 936 633 934 634 934 635 930 636 929 637 927 638 925 639 923 640 921 641 922 642 919 643 918 644 918 645 918 646 921 647 922 648 926 649 927 650 925 651 925 652 928 653 926 654 924 655 921 656 921 657 923 658 926 659 925 660 923 661 924 662 924 663 925 664 926 665 928 666 927 667 927 668 927 669 927 670 928 671 925 672 922 673 919 674 919 675 921 676 922 677 925 678 926 679 925 680 925 681 926 682 927 683 929 684 927 685 926 686 927 687 929 688 928 689 930 690 933 691 932 692 931 693 931 694 929 695 931 696 932 697 934 698 933 699 933 700 933 701 935 702 934 703 936 704 936 705 935 706 933 707 932 708 932 709 933 710 932 711 931 712 933 713 933 714 932 715 933 716 934 717 933 718 933 719 936 720 935 721 932 722 933 723 935 724 937 725 938 726 935 727 933 728 934 729 934 730 934 731 932 732 931 733 930 734 932 735 935 736 932 737 932 738 931 739 932 740 933 741 933 742 933 743 932 744 931 745 931 746 932 747 935 748 936 749 936 750 938 751 938 752 938 753 938 754 936 755 934 756 933 757 932 758 933 759 931 760 931 761 928 762 930 763 929 764 928 765 929 766 929 767 928 768 931 769 930 770 930 771 930 772 931 773 932 774 931 775 930 776 932 777 932 778 934 779 934 780 936 781 936 782 936 783 938 784 938 785 938 786 938 787 939 788 938 789 938 790 938 791 937 792 936 793 932 794 931 795 933 796 933 797 932 798 932 799 933 800 933 801 933 802 933 803 935 804 935 805 935 806 933 807 931 808 931 809 930 810 929 811 929 812 930 813 934 814 933 815 933 816 935 817 934 818 935 819 933 820 934 821 933 822 934 823 935 824 934 825 932 826 931 827 931 828 931 829 932 830 931 831 933 832 933 833 933 834 932 835 931 836 928 837 927 838 927 839 929 840 930 841 928 842 929 843 928 844 930 845 933 846 933 847 932 848 934 849 934 850 934 851 934 852 933 853 934 854 935 855 935 856 934 857 934 858 934 859 935 860 935 861 933 862 933 863 933 864 933 865 934 866 936 867 933 868 932 869 932 870 930 871 927 872 927 873 926 874 926 875 926 876 925 877 925 878 925 879 926 880 923 881 924 882 922 883 920 884 920 885 921 886 921 887 921 888 921 889 920 890 920 891 922 892 919 893 919 894 918 895 917 896 917 897 917 898 914 899 912 900 912 901 912 902 914 903 913 904 915 905 914 906 913 907 914 908 914 909 914 910 912 911 912 912 912 913 913 914 913 915 915 916 915 917 915 918 916 919 917 920 918 921 917 922 917 923 916 924 916 925 917 926 916 927 917 928 916 929 917 930 917 931 918 932 919 933 919 934 918 935 918 936 917 937 917 938 916 939 917 940 917 941 917 942 918 943 918 944 917 945 917 946 917 947 916 948 917 949 916 950 916 951 915 952 916 953 915 954 914 955 914 956 914 957 914 958 914 959 913 960 914 961 913 962 915 963 915 964 916 965 915 966 916 967 916 968 915 969 914 970 914 971 913 972 914 973 913 974 914 975 914 976 912 977 914 978 915 979 914 980 914 981 913 982 914 983 913 984 912 985 913 986 914 987 914 988 913 989 912 990 913 991 912 992 912 993 912 994 913 995 913 996 912 997 912 998 912 999 913 1000 914"/>
</g>
<rect x="65.70" y="5.70" width="470.50" height="247.60" fill="none" stroke="#8a8a8a" stroke-width="1.0"/>
<path d="M65.70 253.30v-4.50M65.70 5.70v4.50M65.70 253.30h4.50M536.20 253.30h-4.50M112.75 253.30v-4.50M112.75 5.70v4.50M65.70 228.54h4.50M536.20 228.54h-4.50M159.80 253.30v-4.50M159.80 5.70v4.50M65.70 203.78h4.50M536.20 203.78h-4.50M206.85 253.30v-4.50M206.85 5.70v4.50M65.70 179.02h4.50M536.20 179.02h-4.50M253.90 253.30v-4.50M253.90 5.70v4.50M65.70 154.26h4.50M536.20 154.26h-4.50M300.95 253.30v-4.50M300.95 5.70v4.50M65.70 129.50h4.50M536.20 129.50h-4.50M348.00 253.30v-4.50M348.00 5.70v4.50M65.70 104.74h4.50M536.20 104.74h-4.50M395.05 253.30v-4.50M395.05 5.70v4.50M65.70 79.98h4.50M536.20 79.98h-4.50M442.10 253.30v-4.50M442.10 5.70v4.50M65.70 55.22h4.50M536.20 55.22h-4.50M489.15 253.30v-4.50M489.15 5.70v4.50M65.70 30.46h4.50M536.20 30.46h-4.50M536.20 253.30v-4.50M536.20 5.70v4.50M65.70 5.70h4.50M536.20 5.70h-4.50" stroke="#8a8a8a" stroke-width="1.0" fill="none"/>
<text x="65.70" y="264.60" font-size="8.7" text-anchor="middle">0</text>
<text x="63.10" y="256.00" font-size="8.7" text-anchor="end">0</text>
<text x="112.75" y="264.60" font-size="8.7" text-anchor="middle">100</text>
<text x="63.10" y="231.24" font-size="8.7" text-anchor="end">0.1</text>
<text x="159.80" y="264.60" font-size="8.7" text-anchor="middle">200</text>
<text x="63.10" y="206.48" font-size="8.7" text-anchor="end">0.2</text>
<text x="206.85" y="264.60" font-size="8.7" text-anchor="middle">300</text>
<text x="63.10" y="181.72" font-size="8.7" text-anchor="end">0.3</text>
<text x="253.90" y="264.60" font-size="8.7" text-anchor="middle">400</text>
<text x="63.10" y="156.96" font-size="8.7" text-anchor="end">0.4</text>
<text x="300.95" y="264.60" font-size="8.7" text-anchor="middle">500</text>
<text x="63.10" y="132.20" font-size="8.7" text-anchor="end">0.5</text>
<text x="348.00" y="264.60" font-size="8.7" text-anchor="middle">600</text>
<text x="63.10" y="107.44" font-size="8.7" text-anchor="end">0.6</text>
<text x="395.05" y="264.60" font-size="8.7" text-anchor="middle">700</text>
<text x="63.10" y="82.68" font-size="8.7" text-anchor="end">0.7</text>
<text x="442.10" y="264.60" font-size="8.7" text-anchor="middle">800</text>
<text x="63.10" y="57.92" font-size="8.7" text-anchor="end">0.8</text>
<text x="489.15" y="264.60" font-size="8.7" text-anchor="middle">900</text>
<text x="63.10" y="33.16" font-size="8.7" text-anchor="end">0.9</text>
<text x="536.20" y="264.60" font-size="8.7" text-anchor="middle">1000</text>
<text x="63.10" y="8.40" font-size="8.7" text-anchor="end">1</text>
<text x="300.95" y="274.80" font-size="9.1" text-anchor="middle">epoch</text>
<text transform="translate(49.20 129.60) rotate(-90)" font-size="9.1" text-anchor="middle">mAP50</text>
<text x="4.80" y="42.30" font-size="13.5">(a)</text>
<rect x="414.40" y="179.60" width="118.20" height="70.40" fill="#fff" stroke="#8a8a8a" stroke-width="1.0"/>
<path d="M415.80 184.70h12.00" stroke="#00FFFF" stroke-width="1.2"/>
<text class="lg" x="429.30" y="187.60" font-size="8.4">YOLOv5s</text>
<path d="M415.80 194.70h12.00" stroke="#000000" stroke-width="1.2"/>
<text class="lg" x="429.30" y="197.60" font-size="8.4">YOLOv5s-MobileNet-CBAM</text>
<path d="M415.80 204.70h12.00" stroke="#FF00FF" stroke-width="1.2"/>
<text class="lg" x="429.30" y="207.60" font-size="8.4">YOLOv5s-MobileNet-CA</text>
<path d="M415.80 214.70h12.00" stroke="#9A30B0" stroke-width="1.2"/>
<text class="lg" x="429.30" y="217.60" font-size="8.4">YOLOv5s-MobileNet-SA</text>
<path d="M415.80 224.70h12.00" stroke="#62B22C" stroke-width="1.2"/>
<text class="lg" x="429.30" y="227.60" font-size="8.4">YOLOv5s-ShuffleNet-CBAM</text>
<path d="M415.80 234.70h12.00" stroke="#0000FF" stroke-width="1.2"/>
<text class="lg" x="429.30" y="237.60" font-size="8.4">YOLOv5s-ShuffleNet-CA</text>
<path d="M415.80 244.70h12.00" stroke="#10A0F0" stroke-width="1.2"/>
<text class="lg" x="429.30" y="247.60" font-size="8.4">YOLOv5s-GhostNet-CBAM</text>
<g transform="translate(65.70 553.20) scale(0.47050 -0.24740)" fill="none" stroke-width="0.85" stroke-linejoin="round" vector-effect="non-scaling-stroke">
<path vector-effect="non-scaling-stroke" stroke="#00FFFF" d="M0 0 1 164 2 395 3 493 4 522 5 481 6 643 7 672 8 663 9 805 10 783 11 683 12 818 13 702 14 766 15 742 16 751 17 644 18 768 19 777 20 867 21 780 22 793 23 712 24 776 25 838 26 807 27 768 28 857 29 880 30 809 31 875 32 872 33 813 34 819 35 854 36 834 37 744 38 779 39 865 40 725 41 799 42 761 43 820 44 842 45 867 46 890 47 860 48 773 49 710 50 833 51 768 52 777 53 755 54 840 55 736 56 844 57 771 58 923 59 771 60 812 61 839 62 725 63 751 64 805 65 738 66 773 67 771 68 799 69 765 70 874 71 755 72 866 73 753 74 756 75 697 76 798 77 859 78 755 79 795 80 841 81 765 82 874 83 882 84 760 85 848 86 921 87 786 88 774 89 734 90 799 91 686 92 768 93 716 94 769 95 793 96 743 97 868 98 721 99 754 100 719 101 793 102 747 103 772 104 885 105 784 106 798 107 805 108 783 109 828 110 826 111 765 112 798 113 774 114 718 115 809 116 821 117 792 118 836 119 655 120 845 121 771 122 643 123 759 124 747 125 776 126 823 127 837 128 743 129 767 130 882 131 860 132 836 133 851 134 753 135 803 136 807 137 767 138 816 139 819 140 810 141 824 142 851 143 903 144 713 145 809 146 843 147 818 148 805 149 793 150 715 151 807 152 917 153 815 154 860 155 822 156 715 157 860 158 790 159 764 160 759 161 738 162 846 163 785 164 803 165 762 166 837 167 720 168 798 169 891 170 782 171 878 172 755 173 810 174 760 175 856 176 829 177 845 178 831 179 796 180 744 181 885 182 798 183 868 184 822 185 843 186 733 187 726 188 868 189 867 190 793 191 727 192 851 193 792 194 799 195 765 196 871 197 867 198 811 199 754 200 759 201 812 202 845 203 761 204 777 205 783 206 915 207 774 208 810 209 817 210 873 211 847 212 774 213 842 214 767 215 741 216 842 217 849 218 772 219 676 220 814 221 823 222 720 223 723 224 811 225 796 226 844 227 860 228 766 229 840 230 811 231 747 232 785 233 840 234 862 235 836 236 870 237 876 238 744 239 840 240 838 241 794 242 812 243 776 244 808 245 798 246 918 247 889 248 865 249 911 250 804 251 823 252 811 253 651 254 797 255 825 256 823 257 804 258 669 259 819 260 758 261 764 262 829 263 819 264 829 265 880 266 782 267 822 268 824 269 743 270 847 271 818 272 837 273 881 274 865 275 862 276 797 277 823 278 807 279 825 280 840 281 823 282 898 283 830 284 799 285 829 286 847 287 834 288 793 289 869 290 840 291 833 292 864 293 801 294 851 295 770 296 741 297 797 298 802 299 844 300 813 301 860 302 893 303 785 304 903 305 804 306 849 307 809 308 882 309 853 310 901 311 820 312 908 313 831 314 849 315 824 316 818 317 803 318 870 319 783 320 865 321 763 322 827 323 869 324 912 325 842 326 858 327 821 328 831 329 780 330 801 331 894 332 829 333 814 334 871 335 798 336 864 337 821 338 846 339 831 340 894 341 920 342 924 343 831 344 860 345 831 346 848 347 806 348 884 349 892 350 854 351 831 352 848 353 867 354 910 355 859 356 738 357 803 358 825 359 858 360 831 361 763 362 897 363 814 364 815 365 804 366 824 367 872 368 804 369 837 370 870 371 818 372 833 373 823 374 798 375 843 376 796 377 788 378 793 379 806 380 762 381 790 382 868 383 829 384 817 385 862 386 836 387 803 388 842 389 855 390 870 391 759 392 748 393 899 394 788 395 855 396 782 397 873 398 879 399 862 400 862 401 848 402 917 403 870 404 819 405 825 406 870 407 841 408 784 409 814 410 848 411 877 412 846 413 847 414 794 415 804 416 829 417 774 418 802 419 829 420 776 421 812 422 882 423 886 424 879 425 815 426 764 427 765 428 832 429 824 430 782 431 815 432 851 433 895 434 780 435 914 436 857 437 863 438 869 439 847 440 847 441 794 442 848 443 844 444 838 445 862 446 868 447 881 448 852 449 889 450 853 451 866 452 854 453 838 454 775 455 822 456 785 457 919 458 885 459 847 460 849 461 872 462 839 463 895 464 814 465 839 466 837 467 868 468 819 469 842 470 742 471 800 472 857 473 876 474 838 475 820 476 863 477 831 478 852 479 873 480 818 481 855 482 799 483 776 484 843 485 824 486 815 487 830 488 842 489 824 490 825 491 802 492 812 493 854 494 847 495 817 496 840 497 870 498 870 499 862 500 839 501 795 502 822 503 860 504 842 505 831 506 815 507 847 508 820 509 819 510 845 511 852 512 851 513 871 514 846 515 883 516 835 517 839 518 845 519 833 520 829 521 819 522 839 523 844 524 837 525 841 526 860 527 867 528 845 529 856 530 861 531 855 532 846 533 838 534 828 535 800 536 848 537 842 538 859 539 865 540 838 541 830 542 851 543 847 544 806 545 844 546 806 547 840 548 844 549 845 550 855 551 838 552 875 553 833 554 867 555 887 556 858 557 840 558 838 559 863 560 857 561 870 562 887 563 876 564 884 565 885 566 828 567 862 568 841 569 870 570 843 571 870 572 820 573 823 574 839 575 861 576 869 577 898 578 840 579 841 580 879 581 872 582 850 583 820 584 879 585 840 586 905 587 842 588 854 589 865 590 844 591 830 592 872 593 840 594 830 595 823 596 851 597 796 598 844 599 848 600 871 601 870 602 858 603 845 604 867 605 851 606 843 607 855 608 860 609 798 610 869 611 862 612 871 613 852 614 861 615 864 616 852 617 844 618 900 619 860 620 854 621 835 622 859 623 838 624 903 625 863 626 880 627 880 628 870 629 824 630 827 631 827 632 865 633 807 634 875 635 861 636 866 637 850 638 837 639 835 640 846 641 856 642 857 643 852 644 852 645 840 646 827 647 843 648 867 649 833 650 858 651 870 652 860 653 871 654 847 655 875 656 825 657 866 658 854 659 834 660 797 661 839 662 836 663 863 664 842 665 844 666 842 667 877 668 864 669 849 670 833 671 833 672 850 673 905 674 860 675 857 676 854 677 868 678 833 679 844 680 815 681 834 682 847 683 861 684 861 685 867 686 864 687 847 688 849 689 874 690 875 691 886 692 875 693 844 694 868 695 827 696 867 697 835 698 841 699 824 700 835 701 834 702 840 703 844 704 857 705 844 706 857 707 830 708 858 709 886 710 888 711 866 712 854 713 834 714 874 715 878 716 890 717 878 718 863 719 852 720 867 721 830 722 896 723 857 724 871 725 872 726 873 727 842 728 831 729 824 730 827 731 860 732 895 733 862 734 857 735 856 736 879 737 842 738 883 739 857 740 856 741 851 742 835 743 857 744 828 745 850 746 838 747 836 748 880 749 855 750 857 751 863 752 874 753 851 754 827 755 828 756 852 757 844 758 866 759 879 760 858 761 845 762 843 763 838 764 846 765 823 766 820 767 825 768 849 769 850 770 846 771 873 772 849 773 867 774 851 775 851 776 839 777 857 778 849 779 871 780 863 781 875 782 862 783 838 784 854 785 850 786 852 787 849 788 848 789 848 790 854 791 854 792 854 793 856 794 868 795 863 796 875 797 877 798 859 799 859 800 859 801 859 802 868 803 867 804 867 805 866 806 867 807 866 808 868 809 868 810 870 811 871 812 872 813 871 814 872 815 876 816 876 817 866 818 843 819 845 820 845 821 844 822 846 823 845 824 845 825 839 826 839 827 840 828 841 829 838 830 837 831 839 832 840 833 840 834 840 835 838 836 837 837 836 838 836 839 837 840 853 841 853 842 854 843 866 844 867 845 866 846 867 847 866 848 852 849 852 850 854 851 843 852 841 853 843 854 845 855 845 856 843 857 840 858 840 859 842 860 844 861 846 862 844 863 845 864 843 865 842 866 859 867 856 868 855 869 856 870 856 871 858 872 860 873 863 874 866 875 867 876 865 877 869 878 869 879 869 880 857 881 858 882 855 883 854 884 871 885 872 886 871 887 870 888 869 889 854 890 853 891 853 892 852 893 853 894 853 895 865 896 864 897 863 898 863 899 864 900 866 901 877 902 875 903 874 904 874 905 872 906 871 907 870 908 871 909 831 910 829 911 828 912 828 913 827 914 828 915 830 916 830 917 831 918 831 919 831 920 833 921 834 922 835 923 835 924 833 925 832 926 873 927 873 928 875 929 876 930 876 931 876 932 876 933 875 934 876 935 876 936 877 937 876 938 877 939 877 940 876 941 875 942 876 943 874 944 875 945 875 946 874 947 876 948 874 949 875 950 876 951 875 952 877 953 877 954 879 955 879 956 875 957 875 958 876 959 857 960 858 961 861 962 859 963 846 964 861 965 862 966 882 967 883 968 881 969 882 970 880 971 880 972 878 973 880 974 879 975 879 976 879 977 880 978 878 979 877 980 881 981 881 982 880 983 879 984 853 985 855 986 853 987 854 988 853 989 855 990 854 991 856 992 855 993 856 994 858 995 858 996 858 997 857 998 857 999 858 1000 855"/>
<path vector-effect="non-scaling-stroke" stroke="#000000" d="M0 0 1 138 2 309 3 324 4 314 5 308 6 290 7 313 8 293 9 302 10 300 11 301 12 295 13 315 14 301 15 314 16 283 17 296 18 306 19 293 20 316 21 320 22 312 23 327 24 323 25 293 26 324 27 267 28 310 29 299 30 317 31 324 32 301 33 307 34 326 35 323 36 326 37 321 38 324 39 331 40 352 41 380 42 371 43 380 44 415 45 458 46 358 47 470 48 455 49 410 50 409 51 358 52 505 53 491 54 520 55 462 56 517 57 419 58 541 59 518 60 379 61 521 62 522 63 528 64 558 65 518 66 504 67 504 68 555 69 524 70 404 71 561 72 460 73 549 74 477 75 536 76 580 77 578 78 620 79 475 80 509 81 616 82 601 83 562 84 548 85 558 86 546 87 556 88 576 89 566 90 574 91 483 92 572 93 566 94 599 95 603 96 588 97 622 98 531 99 595 100 572 101 580 102 623 103 593 104 543 105 589 106 614 107 703 108 637 109 626 110 590 111 699 112 644 113 671 114 614 115 571 116 504 117 581 118 647 119 681 120 620 121 658 122 658 123 613 124 638 125 642 126 679 127 613 128 697 129 594 130 521 131 602 132 617 133 605 134 620 135 679 136 561 137 634 138 702 139 619 140 671 141 606 142 640 143 648 144 701 145 708 146 546 147 570 148 653 149 705 150 638 151 592 152 710 153 645 154 709 155 715 156 660 157 673 158 674 159 823 160 768 161 608 162 683 163 657 164 615 165 717 166 725 167 641 168 764 169 655 170 644 171 645 172 697 173 747 174 738 175 606 176 697 177 676 178 750 179 728 180 664 181 802 182 727 183 671 184 706 185 729 186 672 187 804 188 753 189 764 190 747 191 617 192 750 193 755 194 659 195 809 196 693 197 708 198 676 199 717 200 784 201 693 202 739 203 789 204 746 205 669 206 752 207 816 208 757 209 704 210 648 211 777 212 698 213 753 214 795 215 675 216 652 217 778 218 761 219 748 220 739 221 665 222 771 223 772 224 805 225 794 226 786 227 803 228 749 229 746 230 700 231 706 232 778 233 731 234 778 235 753 236 721 237 701 238 755 239 785 240 726 241 758 242 772 243 764 244 790 245 790 246 818 247 794 248 738 249 792 250 716 251 775 252 755 253 764 254 811 255 758 256 779 257 799 258 746 259 736 260 772 261 735 262 742 263 734 264 753 265 787 266 831 267 776 268 729 269 804 270 679 271 763 272 807 273 773 274 760 275 772 276 832 277 865 278 789 279 851 280 782 281 725 282 768 283 813 284 818 285 884 286 711 287 773 288 782 289 729 290 817 291 815 292 818 293 749 294 778 295 818 296 791 297 847 298 703 299 748 300 740 301 726 302 795 303 871 304 820 305 717 306 814 307 764 308 760 309 824 310 746 311 790 312 809 313 810 314 716 315 899 316 843 317 816 318 825 319 773 320 810 321 782 322 783 323 844 324 813 325 767 326 743 327 859 328 708 329 739 330 801 331 799 332 738 333 783 334 762 335 730 336 761 337 888 338 858 339 791 340 820 341 886 342 835 343 790 344 816 345 842 346 844 347 808 348 831 349 784 350 829 351 848 352 830 353 818 354 883 355 819 356 834 357 827 358 786 359 890 360 845 361 746 362 860 363 816 364 835 365 826 366 888 367 803 368 849 369 890 370 792 371 821 372 755 373 839 374 842 375 709 376 842 377 800 378 854 379 790 380 812 381 782 382 802 383 854 384 847 385 812 386 868 387 875 388 795 389 794 390 788 391 821 392 816 393 790 394 857 395 893 396 816 397 835 398 798 399 874 400 840 401 842 402 847 403 872 404 822 405 853 406 794 407 775 408 858 409 762 410 810 411 821 412 801 413 912 414 808 415 843 416 872 417 892 418 825 419 809 420 859 421 891 422 796 423 804 424 775 425 784 426 810 427 772 428 823 429 777 430 817 431 816 432 824 433 761 434 815 435 806 436 869 437 813 438 829 439 860 440 882 441 821 442 841 443 859 444 785 445 866 446 803 447 859 448 848 449 797 450 829 451 790 452 771 453 839 454 919 455 842 456 855 457 781 458 739 459 842 460 902 461 852 462 837 463 890 464 847 465 822 466 930 467 844 468 837 469 903 470 821 471 868 472 805 473 857 474 795 475 877 476 878 477 863 478 844 479 863 480 843 481 855 482 815 483 856 484 829 485 868 486 828 487 855 488 810 489 808 490 817 491 815 492 836 493 791 494 808 495 821 496 839 497 888 498 849 499 846 500 857 501 819 502 825 503 863 504 828 505 835 506 871 507 853 508 825 509 792 510 802 511 872 512 841 513 844 514 811 515 832 516 844 517 847 518 767 519 861 520 835 521 842 522 869 523 854 524 826 525 855 526 818 527 830 528 834 529 860 530 869 531 839 532 839 533 834 534 879 535 825 536 825 537 864 538 831 539 838 540 843 541 887 542 842 543 828 544 817 545 826 546 822 547 827 548 880 549 837 550 853 551 823 552 825 553 846 554 826 555 834 556 808 557 843 558 811 559 810 560 827 561 837 562 842 563 840 564 833 565 830 566 838 567 832 568 828 569 845 570 838 571 824 572 799 573 834 574 818 575 857 576 856 577 837 578 838 579 844 580 824 581 813 582 843 583 875 584 820 585 807 586 836 587 881 588 858 589 856 590 828 591 877 592 826 593 808 594 863 595 848 596 850 597 836 598 850 599 881 600 874 601 859 602 854 603 864 604 833 605 824 606 816 607 870 608 872 609 818 610 813 611 868 612 803 613 889 614 845 615 830 616 851 617 845 618 867 619 859 620 856 621 867 622 833 623 848 624 840 625 831 626 849 627 846 628 798 629 838 630 845 631 841 632 834 633 834 634 828 635 828 636 796 637 809 638 852 639 854 640 828 641 851 642 861 643 851 644 827 645 836 646 825 647 818 648 827 649 831 650 833 651 867 652 854 653 838 654 838 655 816 656 827 657 829 658 797 659 846 660 874 661 846 662 852 663 858 664 851 665 841 666 835 667 833 668 866 669 828 670 850 671 861 672 838 673 827 674 848 675 848 676 801 677 831 678 843 679 843 680 851 681 839 682 816 683 841 684 837 685 867 686 848 687 828 688 825 689 826 690 863 691 847 692 845 693 857 694 844 695 855 696 832 697 813 698 821 699 863 700 842 701 823 702 829 703 841 704 837 705 839 706 845 707 845 708 812 709 789 710 825 711 842 712 832 713 835 714 814 715 806 716 826 717 839 718 822 719 806 720 821 721 797 722 826 723 837 724 821 725 821 726 825 727 853 728 817 729 818 730 827 731 832 732 816 733 821 734 823 735 831 736 824 737 809 738 810 739 773 740 802 741 808 742 800 743 797 744 817 745 823 746 828 747 843 748 812 749 794 750 833 751 842 752 839 753 826 754 828 755 837 756 812 757 824 758 826 759 808 760 816 761 815 762 827 763 777 764 784 765 808 766 828 767 838 768 836 769 817 770 811 771 825 772 823 773 828 774 832 775 810 776 803 777 822 778 805 779 816 780 806 781 791 782 796 783 802 784 811 785 811 786 811 787 819 788 808 789 808 790 814 791 810 792 808 793 806 794 801 795 811 796 806 797 805 798 803 799 798 800 798 801 798 802 797 803 795 804 795 805 795 806 797 807 796 808 794 809 794 810 792 811 788 812 788 813 788 814 788 815 789 816 791 817 791 818 792 819 791 820 792 821 792 822 793 823 789 824 790 825 791 826 794 827 795 828 794 829 798 830 798 831 799 832 802 833 801 834 800 835 800 836 798 837 799 838 797 839 797 840 796 841 793 842 793 843 797 844 799 845 799 846 803 847 802 848 803 849 813 850 811 851 813 852 812 853 812 854 814 855 812 856 813 857 810 858 810 859 810 860 812 861 811 862 813 863 812 864 812 865 816 866 815 867 815 868 815 869 816 870 818 871 817 872 817 873 814 874 817 875 816 876 816 877 814 878 813 879 814 880 816 881 819 882 818 883 816 884 814 885 817 886 822 887 825 888 828 889 831 890 835 891 835 892 835 893 833 894 834 895 833 896 834 897 835 898 834 899 832 900 829 901 829 902 828 903 828 904 827 905 823 906 823 907 821 908 821 909 821 910 822 911 822 912 819 913 819 914 819 915 819 916 822 917 822 918 824 919 823 920 825 921 826 922 824 923 822 924 822 925 826 926 826 927 825 928 825 929 825 930 824 931 826 932 825 933 825 934 828 935 829 936 832 937 833 938 833 939 836 940 837 941 831 942 825 943 821 944 817 945 811 946 812 947 810 948 808 949 806 950 807 951 809 952 811 953 810 954 811 955 810 956 813 957 812 958 811 959 810 960 809 961 810 962 811 963 811 964 810 965 808 966 811 967 814 968 812 969 811 970 813 971 812 972 813 973 813 974 813 975 812 976 813 977 813 978 812 979 813 980 810 981 810 982 811 983 811 984 811 985 810 986 812 987 813 988 809 989 807 990 809 991 808 992 808 993 806 994 805 995 806 996 806 997 807 998 807 999 807 1000 807"/>
<path vector-effect="non-scaling-stroke" stroke="#FF00FF" d="M0 0 1 154 2 319 3 295 4 311 5 301 6 295 7 305 8 296 9 296 10 311 11 291 12 315 13 318 14 316 15 303 16 327 17 333 18 309 19 326 20 335 21 311 22 286 23 306 24 305 25 324 26 308 27 316 28 334 29 320 30 334 31 328 32 331 33 343 34 327 35 304 36 343 37 309 38 344 39 329 40 328 41 331 42 344 43 321 44 341 45 322 46 271 47 381 48 371 49 401 50 355 51 408 52 317 53 389 54 418 55 412 56 276 57 441 58 393 59 418 60 370 61 513 62 458 63 418 64 451 65 346 66 404 67 473 68 535 69 434 70 533 71 523 72 448 73 520 74 478 75 474 76 441 77 480 78 455 79 490 80 494 81 458 82 500 83 486 84 521 85 490 86 529 87 470 88 467 89 584 90 548 91 562 92 504 93 314 94 489 95 465 96 437 97 558 98 518 99 571 100 569 101 544 102 555 103 617 104 559 105 504 106 556 107 557 108 616 109 544 110 532 111 448 112 586 113 545 114 573 115 595 116 639 117 531 118 530 119 562 120 582 121 549 122 574 123 644 124 589 125 375 126 603 127 539 128 505 129 576 130 673 131 609 132 572 133 546 134 567 135 566 136 530 137 626 138 593 139 648 140 575 141 462 142 615 143 459 144 659 145 565 146 612 147 637 148 665 149 609 150 601 151 640 152 703 153 590 154 755 155 627 156 611 157 543 158 500 159 712 160 601 161 653 162 608 163 620 164 769 165 475 166 589 167 674 168 642 169 671 170 683 171 536 172 675 173 495 174 650 175 553 176 687 177 663 178 539 179 641 180 728 181 567 182 637 183 485 184 705 185 619 186 602 187 665 188 691 189 592 190 708 191 731 192 624 193 681 194 614 195 489 196 624 197 625 198 713 199 684 200 687 201 589 202 704 203 693 204 745 205 713 206 536 207 660 208 735 209 618 210 681 211 581 212 677 213 617 214 669 215 742 216 755 217 665 218 662 219 708 220 627 221 623 222 718 223 706 224 642 225 629 226 719 227 607 228 678 229 655 230 564 231 703 232 595 233 705 234 728 235 735 236 584 237 683 238 691 239 696 240 659 241 732 242 738 243 711 244 736 245 698 246 732 247 726 248 711 249 732 250 755 251 720 252 695 253 720 254 685 255 707 256 699 257 754 258 845 259 729 260 773 261 705 262 794 263 742 264 812 265 689 266 726 267 691 268 697 269 721 270 677 271 703 272 743 273 770 274 714 275 816 276 774 277 710 278 647 279 746 280 803 281 795 282 698 283 710 284 824 285 750 286 717 287 748 288 783 289 741 290 778 291 779 292 760 293 687 294 733 295 729 296 772 297 730 298 745 299 812 300 760 301 777 302 765 303 747 304 673 305 694 306 791 307 742 308 717 309 758 310 775 311 776 312 779 313 777 314 710 315 587 316 688 317 804 318 616 319 713 320 765 321 629 322 691 323 789 324 856 325 824 326 727 327 717 328 783 329 794 330 759 331 826 332 828 333 831 334 693 335 718 336 755 337 732 338 638 339 709 340 833 341 741 342 788 343 854 344 726 345 818 346 808 347 805 348 722 349 810 350 803 351 750 352 693 353 764 354 772 355 764 356 822 357 765 358 750 359 746 360 761 361 826 362 665 363 807 364 695 365 684 366 794 367 825 368 802 369 826 370 767 371 751 372 794 373 779 374 798 375 828 376 827 377 727 378 810 379 866 380 776 381 755 382 705 383 759 384 788 385 817 386 698 387 841 388 680 389 751 390 706 391 833 392 738 393 774 394 862 395 802 396 691 397 662 398 798 399 814 400 729 401 771 402 769 403 802 404 795 405 752 406 803 407 746 408 768 409 758 410 799 411 708 412 846 413 808 414 776 415 822 416 733 417 837 418 766 419 680 420 813 421 863 422 842 423 780 424 760 425 715 426 876 427 815 428 775 429 765 430 790 431 783 432 811 433 784 434 812 435 804 436 850 437 773 438 815 439 763 440 851 441 752 442 760 443 778 444 794 445 855 446 855 447 875 448 856 449 858 450 875 451 792 452 820 453 837 454 731 455 798 456 738 457 840 458 852 459 848 460 799 461 792 462 679 463 825 464 855 465 812 466 757 467 793 468 778 469 843 470 820 471 843 472 785 473 812 474 816 475 809 476 828 477 771 478 812 479 847 480 776 481 841 482 786 483 797 484 789 485 846 486 842 487 803 488 840 489 823 490 740 491 829 492 790 493 829 494 815 495 832 496 848 497 822 498 830 499 804 500 814 501 805 502 832 503 791 504 807 505 820 506 802 507 818 508 846 509 810 510 810 511 797 512 837 513 815 514 793 515 782 516 824 517 826 518 852 519 833 520 826 521 902 522 845 523 820 524 819 525 805 526 822 527 826 528 859 529 827 530 825 531 832 532 837 533 831 534 834 535 863 536 832 537 840 538 789 539 826 540 832 541 858 542 840 543 823 544 819 545 852 546 780 547 844 548 816 549 816 550 832 551 839 552 825 553 839 554 881 555 828 556 873 557 814 558 807 559 864 560 842 561 843 562 865 563 863 564 842 565 852 566 875 567 855 568 816 569 830 570 842 571 855 572 860 573 831 574 845 575 839 576 845 577 858 578 858 579 803 580 855 581 864 582 835 583 873 584 827 585 852 586 868 587 840 588 864 589 824 590 863 591 847 592 834 593 880 594 858 595 861 596 828 597 831 598 808 599 866 600 855 601 871 602 837 603 862 604 839 605 853 606 848 607 862 608 876 609 889 610 847 611 870 612 854 613 817 614 837 615 880 616 851 617 847 618 839 619 857 620 837 621 855 622 855 623 804 624 837 625 861 626 857 627 819 628 866 629 822 630 815 631 852 632 844 633 800 634 824 635 849 636 877 637 855 638 841 639 823 640 855 641 842 642 855 643 864 644 834 645 843 646 842 647 866 648 820 649 853 650 815 651 878 652 849 653 830 654 837 655 841 656 886 657 859 658 845 659 858 660 838 661 836 662 838 663 820 664 821 665 855 666 848 667 810 668 834 669 876 670 866 671 894 672 883 673 786 674 857 675 848 676 858 677 818 678 851 679 870 680 868 681 817 682 865 683 859 684 872 685 884 686 855 687 867 688 859 689 848 690 825 691 787 692 813 693 845 694 841 695 845 696 847 697 839 698 839 699 842 700 840 701 855 702 868 703 851 704 825 705 861 706 870 707 850 708 835 709 844 710 847 711 868 712 858 713 889 714 852 715 851 716 863 717 835 718 865 719 862 720 840 721 813 722 846 723 839 724 856 725 857 726 862 727 853 728 836 729 854 730 855 731 865 732 823 733 858 734 855 735 873 736 865 737 864 738 848 739 869 740 876 741 873 742 859 743 861 744 863 745 866 746 842 747 853 748 855 749 861 750 880 751 845 752 841 753 873 754 862 755 850 756 863 757 887 758 873 759 823 760 856 761 862 762 834 763 840 764 825 765 822 766 827 767 852 768 839 769 832 770 833 771 859 772 880 773 875 774 893 775 868 776 849 777 861 778 875 779 862 780 855 781 872 782 867 783 866 784 865 785 871 786 868 787 864 788 853 789 858 790 878 791 870 792 869 793 876 794 872 795 877 796 871 797 869 798 868 799 869 800 869 801 868 802 868 803 867 804 868 805 871 806 868 807 869 808 869 809 872 810 869 811 868 812 865 813 881 814 881 815 881 816 882 817 875 818 874 819 880 820 881 821 885 822 881 823 882 824 881 825 881 826 879 827 878 828 876 829 876 830 875 831 877 832 878 833 877 834 877 835 876 836 873 837 873 838 844 839 848 840 845 841 845 842 847 843 849 844 850 845 879 846 880 847 880 848 878 849 878 850 874 851 875 852 876 853 873 854 869 855 852 856 855 857 854 858 856 859 856 860 856 861 858 862 859 863 859 864 860 865 859 866 862 867 860 868 862 869 862 870 860 871 859 872 861 873 864 874 862 875 863 876 863 877 864 878 863 879 862 880 863 881 862 882 862 883 862 884 861 885 866 886 868 887 893 888 891 889 893 890 890 891 890 892 891 893 889 894 889 895 888 896 887 897 887 898 890 899 890 900 890 901 890 902 893 903 890 904 888 905 889 906 889 907 890 908 891 909 888 910 887 911 886 912 887 913 886 914 885 915 884 916 884 917 884 918 883 919 883 920 884 921 883 922 883 923 885 924 885 925 886 926 887 927 890 928 891 929 868 930 847 931 849 932 847 933 849 934 848 935 847 936 846 937 842 938 841 939 843 940 844 941 842 942 840 943 841 944 841 945 842 946 841 947 842 948 843 949 844 950 843 951 842 952 842 953 842 954 843 955 842 956 843 957 843 958 827 959 827 960 825 961 825 962 823 963 822 964 824 965 846 966 865 967 865 968 866 969 866 970 866 971 865 972 866 973 864 974 863 975 865 976 864 977 862 978 860 979 860 980 863 981 861 982 863 983 865 984 864 985 865 986 863 987 864 988 864 989 863 990 863 991 864 992 864 993 863 994 863 995 863 996 865 997 865 998 866 999 867 1000 868"/>
<path vector-effect="non-scaling-stroke" stroke="#9A30B0" d="M0 0 1 170 2 310 3 306 4 283 5 301 6 285 7 302 8 323 9 300 10 315 11 299 12 308 13 313 14 308 15 319 16 321 17 317 18 322 19 317 20 314 21 315 22 337 23 331 24 332 25 328 26 336 27 318 28 323 29 327 30 324 31 331 32 338 33 341 34 327 35 355 36 326 37 351 38 302 39 351 40 387 41 381 42 398 43 361 44 386 45 395 46 446 47 438 48 393 49 406 50 476 51 448 52 377 53 360 54 239 55 483 56 412 57 450 58 380 59 454 60 494 61 505 62 463 63 416 64 440 65 402 66 493 67 506 68 452 69 519 70 481 71 462 72 485 73 500 74 478 75 513 76 453 77 567 78 481 79 592 80 496 81 548 82 533 83 507 84 546 85 582 86 542 87 561 88 530 89 610 90 483 91 579 92 600 93 540 94 623 95 543 96 549 97 463 98 562 99 585 100 511 101 644 102 570 103 492 104 687 105 591 106 507 107 570 108 608 109 640 110 617 111 530 112 620 113 527 114 610 115 531 116 629 117 673 118 622 119 640 120 600 121 507 122 591 123 691 124 570 125 566 126 623 127 550 128 537 129 640 130 618 131 659 132 595 133 483 134 670 135 741 136 583 137 592 138 567 139 702 140 718 141 587 142 546 143 629 144 704 145 669 146 573 147 689 148 624 149 687 150 589 151 656 152 611 153 633 154 666 155 682 156 701 157 611 158 722 159 712 160 719 161 646 162 735 163 654 164 692 165 542 166 687 167 714 168 687 169 650 170 682 171 686 172 661 173 664 174 646 175 673 176 663 177 807 178 585 179 680 180 676 181 668 182 696 183 662 184 696 185 746 186 664 187 701 188 670 189 572 190 706 191 815 192 708 193 651 194 643 195 776 196 748 197 683 198 729 199 830 200 720 201 740 202 730 203 607 204 816 205 764 206 744 207 551 208 685 209 756 210 791 211 730 212 759 213 738 214 698 215 721 216 734 217 729 218 697 219 731 220 720 221 783 222 786 223 731 224 781 225 709 226 734 227 789 228 655 229 820 230 771 231 718 232 759 233 739 234 727 235 686 236 822 237 811 238 722 239 710 240 756 241 751 242 674 243 700 244 793 245 754 246 753 247 641 248 739 249 748 250 710 251 708 252 713 253 745 254 827 255 676 256 746 257 710 258 608 259 696 260 749 261 819 262 738 263 755 264 711 265 745 266 735 267 736 268 767 269 665 270 663 271 808 272 736 273 780 274 747 275 722 276 728 277 716 278 732 279 773 280 696 281 834 282 803 283 770 284 825 285 791 286 794 287 669 288 734 289 803 290 778 291 784 292 696 293 791 294 760 295 837 296 872 297 793 298 751 299 770 300 784 301 794 302 719 303 769 304 837 305 773 306 782 307 811 308 798 309 777 310 755 311 775 312 771 313 860 314 784 315 728 316 779 317 737 318 767 319 858 320 735 321 770 322 765 323 809 324 790 325 753 326 780 327 760 328 797 329 854 330 809 331 836 332 850 333 805 334 796 335 817 336 738 337 725 338 814 339 809 340 780 341 829 342 796 343 778 344 824 345 829 346 763 347 747 348 763 349 714 350 799 351 839 352 832 353 700 354 785 355 724 356 794 357 814 358 782 359 805 360 747 361 833 362 781 363 794 364 796 365 778 366 873 367 848 368 815 369 797 370 794 371 718 372 759 373 855 374 813 375 866 376 808 377 855 378 800 379 816 380 808 381 871 382 812 383 869 384 799 385 802 386 857 387 816 388 768 389 765 390 747 391 822 392 824 393 767 394 783 395 842 396 847 397 755 398 807 399 802 400 817 401 736 402 741 403 802 404 761 405 755 406 820 407 904 408 822 409 830 410 780 411 832 412 818 413 785 414 830 415 831 416 806 417 851 418 806 419 810 420 774 421 854 422 880 423 840 424 734 425 824 426 780 427 815 428 829 429 815 430 793 431 824 432 877 433 785 434 813 435 909 436 788 437 833 438 791 439 849 440 772 441 805 442 854 443 802 444 904 445 824 446 840 447 823 448 847 449 804 450 790 451 813 452 807 453 822 454 819 455 866 456 843 457 834 458 844 459 809 460 829 461 838 462 862 463 821 464 828 465 797 466 799 467 874 468 880 469 805 470 834 471 851 472 812 473 870 474 775 475 818 476 818 477 820 478 863 479 803 480 777 481 895 482 846 483 819 484 792 485 732 486 804 487 859 488 844 489 824 490 837 491 837 492 880 493 852 494 814 495 820 496 807 497 807 498 841 499 848 500 866 501 836 502 820 503 837 504 858 505 855 506 863 507 820 508 836 509 875 510 860 511 855 512 854 513 823 514 823 515 843 516 840 517 829 518 835 519 829 520 807 521 807 522 850 523 862 524 854 525 849 526 857 527 828 528 820 529 840 530 828 531 796 532 849 533 825 534 849 535 833 536 856 537 885 538 858 539 822 540 844 541 846 542 850 543 866 544 832 545 840 546 856 547 840 548 859 549 851 550 878 551 884 552 863 553 798 554 847 555 839 556 851 557 861 558 860 559 791 560 867 561 838 562 857 563 836 564 831 565 828 566 835 567 822 568 845 569 851 570 842 571 849 572 839 573 890 574 869 575 866 576 851 577 839 578 850 579 855 580 855 581 808 582 848 583 865 584 874 585 847 586 858 587 849 588 846 589 862 590 851 591 849 592 833 593 836 594 834 595 826 596 834 597 836 598 853 599 870 600 823 601 878 602 866 603 867 604 861 605 848 606 874 607 848 608 828 609 861 610 842 611 824 612 835 613 860 614 870 615 867 616 852 617 841 618 845 619 836 620 863 621 853 622 862 623 845 624 865 625 877 626 881 627 857 628 834 629 832 630 861 631 869 632 869 633 843 634 833 635 882 636 835 637 841 638 865 639 835 640 829 641 815 642 808 643 800 644 839 645 844 646 849 647 868 648 865 649 871 650 839 651 845 652 867 653 890 654 883 655 805 656 828 657 833 658 868 659 845 660 829 661 830 662 859 663 864 664 865 665 840 666 829 667 849 668 835 669 842 670 850 671 832 672 841 673 889 674 854 675 848 676 849 677 863 678 853 679 865 680 868 681 866 682 871 683 850 684 862 685 854 686 841 687 864 688 854 689 864 690 859 691 855 692 883 693 853 694 849 695 837 696 852 697 827 698 839 699 849 700 870 701 862 702 861 703 850 704 841 705 841 706 856 707 873 708 833 709 872 710 839 711 868 712 838 713 857 714 819 715 825 716 854 717 862 718 853 719 870 720 872 721 843 722 848 723 849 724 868 725 852 726 885 727 836 728 852 729 846 730 851 731 865 732 830 733 849 734 861 735 869 736 849 737 873 738 852 739 863 740 864 741 864 742 852 743 851 744 847 745 853 746 851 747 865 748 878 749 863 750 850 751 888 752 861 753 859 754 867 755 865 756 859 757 869 758 820 759 869 760 848 761 878 762 894 763 886 764 906 765 859 766 845 767 874 768 892 769 862 770 804 771 850 772 853 773 900 774 876 775 893 776 893 777 867 778 875 779 837 780 847 781 860 782 837 783 844 784 857 785 869 786 866 787 865 788 862 789 868 790 876 791 884 792 886 793 887 794 874 795 893 796 891 797 897 798 899 799 895 800 890 801 893 802 884 803 882 804 880 805 879 806 879 807 880 808 881 809 882 810 882 811 881 812 878 813 878 814 877 815 879 816 878 817 879 818 880 819 878 820 880 821 877 822 879 823 879 824 879 825 878 826 879 827 878 828 883 829 884 830 886 831 886 832 885 833 885 834 881 835 883 836 874 837 874 838 875 839 876 840 860 841 858 842 855 843 856 844 857 845 858 846 858 847 859 848 861 849 860 850 859 851 860 852 872 853 870 854 871 855 869 856 866 857 866 858 864 859 865 860 864 861 863 862 864 863 866 864 865 865 864 866 868 867 870 868 867 869 871 870 871 871 868 872 868 873 872 874 875 875 874 876 874 877 873 878 886 879 888 880 890 881 892 882 891 883 890 884 889 885 889 886 888 887 889 888 893 889 896 890 895 891 864 892 862 893 858 894 866 895 868 896 872 897 873 898 871 899 869 900 871 901 873 902 873 903 873 904 872 905 883 906 883 907 871 908 872 909 871 910 872 911 870 912 870 913 872 914 872 915 871 916 873 917 875 918 873 919 873 920 877 921 877 922 888 923 889 924 889 925 889 926 888 927 887 928 891 929 892 930 892 931 892 932 891 933 888 934 886 935 887 936 887 937 888 938 888 939 889 940 887 941 886 942 886 943 888 944 890 945 890 946 887 947 890 948 893 949 891 950 893 951 892 952 891 953 893 954 892 955 893 956 892 957 892 958 890 959 893 960 894 961 894 962 891 963 891 964 892 965 893 966 890 967 877 968 877 969 884 970 886 971 887 972 887 973 888 974 889 975 892 976 892 977 892 978 892 979 889 980 890 981 892 982 891 983 892 984 891 985 891 986 891 987 891 988 889 989 888 990 886 991 884 992 885 993 886 994 879 995 879 996 879 997 882 998 882 999 898 1000 900"/>
<path vector-effect="non-scaling-stroke" stroke="#62B22C" d="M0 0 1 147 2 327 3 340 4 401 5 427 6 495 7 493 8 509 9 548 10 613 11 546 12 532 13 563 14 552 15 526 16 570 17 659 18 543 19 559 20 612 21 625 22 541 23 633 24 610 25 653 26 574 27 673 28 660 29 606 30 629 31 613 32 668 33 585 34 652 35 646 36 620 37 612 38 634 39 670 40 615 41 605 42 661 43 672 44 557 45 595 46 609 47 556 48 580 49 527 50 677 51 655 52 609 53 623 54 666 55 627 56 601 57 615 58 548 59 680 60 555 61 594 62 688 63 588 64 681 65 672 66 633 67 629 68 603 69 624 70 660 71 660 72 651 73 644 74 618 75 602 76 673 77 557 78 627 79 663 80 638 81 661 82 714 83 643 84 659 85 618 86 703 87 619 88 653 89 504 90 576 91 670 92 638 93 664 94 637 95 647 96 697 97 710 98 638 99 757 100 656 101 674 102 692 103 607 104 689 105 632 106 651 107 674 108 711 109 652 110 641 111 682 112 621 113 594 114 662 115 705 116 666 117 622 118 593 119 653 120 692 121 662 122 726 123 623 124 704 125 694 126 681 127 586 128 748 129 644 130 672 131 692 132 735 133 721 134 722 135 741 136 646 137 720 138 746 139 722 140 677 141 685 142 712 143 693 144 714 145 704 146 690 147 800 148 671 149 663 150 728 151 748 152 733 153 713 154 676 155 779 156 693 157 668 158 606 159 713 160 828 161 784 162 691 163 786 164 767 165 762 166 700 167 706 168 732 169 680 170 687 171 654 172 741 173 753 174 772 175 654 176 788 177 690 178 767 179 769 180 666 181 788 182 691 183 734 184 723 185 821 186 772 187 775 188 714 189 709 190 773 191 846 192 765 193 770 194 791 195 809 196 813 197 762 198 758 199 738 200 682 201 727 202 759 203 818 204 801 205 761 206 793 207 784 208 822 209 724 210 740 211 645 212 654 213 768 214 794 215 742 216 737 217 698 218 781 219 766 220 742 221 675 222 750 223 793 224 741 225 764 226 816 227 768 228 727 229 750 230 792 231 726 232 757 233 780 234 781 235 805 236 803 237 751 238 781 239 732 240 797 241 782 242 800 243 827 244 742 245 737 246 795 247 784 248 786 249 798 250 802 251 742 252 706 253 746 254 738 255 817 256 789 257 787 258 813 259 765 260 783 261 789 262 711 263 836 264 772 265 854 266 716 267 796 268 734 269 771 270 828 271 810 272 838 273 810 274 868 275 782 276 786 277 830 278 735 279 810 280 719 281 831 282 794 283 792 284 779 285 827 286 831 287 848 288 831 289 787 290 796 291 780 292 794 293 749 294 753 295 846 296 828 297 762 298 786 299 809 300 828 301 894 302 875 303 803 304 783 305 783 306 774 307 757 308 779 309 803 310 794 311 777 312 846 313 773 314 776 315 824 316 795 317 803 318 853 319 738 320 729 321 813 322 898 323 892 324 898 325 853 326 722 327 800 328 847 329 816 330 873 331 823 332 825 333 859 334 805 335 799 336 850 337 844 338 848 339 786 340 730 341 768 342 844 343 813 344 762 345 798 346 789 347 877 348 769 349 823 350 821 351 828 352 832 353 843 354 842 355 820 356 828 357 799 358 835 359 824 360 811 361 797 362 763 363 809 364 792 365 845 366 843 367 803 368 828 369 786 370 840 371 824 372 859 373 833 374 810 375 808 376 830 377 816 378 818 379 882 380 750 381 884 382 797 383 822 384 846 385 867 386 778 387 875 388 854 389 846 390 800 391 919 392 831 393 875 394 848 395 841 396 842 397 805 398 865 399 902 400 815 401 850 402 825 403 862 404 761 405 822 406 834 407 826 408 886 409 814 410 818 411 847 412 845 413 905 414 845 415 829 416 840 417 866 418 835 419 862 420 783 421 798 422 754 423 807 424 887 425 827 426 873 427 840 428 865 429 884 430 771 431 840 432 888 433 757 434 842 435 877 436 826 437 842 438 761 439 813 440 905 441 765 442 860 443 835 444 773 445 828 446 816 447 816 448 806 449 852 450 843 451 828 452 848 453 861 454 790 455 813 456 895 457 853 458 821 459 837 460 804 461 760 462 904 463 858 464 867 465 876 466 875 467 877 468 868 469 826 470 835 471 860 472 850 473 878 474 886 475 814 476 843 477 802 478 812 479 822 480 867 481 803 482 862 483 862 484 844 485 841 486 847 487 852 488 851 489 790 490 872 491 820 492 838 493 879 494 878 495 850 496 818 497 856 498 871 499 818 500 878 501 836 502 802 503 845 504 863 505 861 506 827 507 830 508 855 509 892 510 845 511 839 512 832 513 863 514 817 515 837 516 838 517 864 518 841 519 871 520 859 521 878 522 856 523 863 524 855 525 878 526 830 527 890 528 843 529 850 530 822 531 814 532 821 533 839 534 814 535 851 536 859 537 862 538 872 539 831 540 871 541 856 542 837 543 834 544 848 545 797 546 861 547 860 548 841 549 838 550 829 551 844 552 882 553 894 554 842 555 867 556 848 557 840 558 848 559 837 560 890 561 849 562 893 563 842 564 840 565 839 566 849 567 892 568 867 569 849 570 843 571 831 572 854 573 828 574 869 575 885 576 895 577 846 578 843 579 862 580 858 581 839 582 858 583 875 584 872 585 858 586 854 587 859 588 885 589 851 590 821 591 832 592 836 593 863 594 827 595 843 596 861 597 859 598 846 599 874 600 875 601 842 602 844 603 819 604 864 605 860 606 828 607 870 608 878 609 836 610 872 611 834 612 847 613 847 614 849 615 866 616 878 617 863 618 871 619 853 620 859 621 866 622 862 623 832 624 824 625 860 626 815 627 838 628 843 629 863 630 864 631 814 632 801 633 846 634 851 635 873 636 878 637 857 638 866 639 846 640 841 641 862 642 799 643 859 644 855 645 882 646 872 647 878 648 838 649 863 650 873 651 873 652 863 653 857 654 842 655 862 656 865 657 884 658 877 659 865 660 850 661 878 662 824 663 882 664 846 665 830 666 856 667 866 668 854 669 843 670 838 671 832 672 836 673 863 674 854 675 858 676 866 677 822 678 866 679 853 680 892 681 841 682 868 683 847 684 823 685 842 686 848 687 847 688 821 689 858 690 883 691 846 692 858 693 855 694 840 695 827 696 840 697 886 698 888 699 857 700 858 701 870 702 885 703 883 704 862 705 861 706 858 707 870 708 865 709 843 710 840 711 849 712 867 713 846 714 848 715 868 716 871 717 868 718 873 719 842 720 865 721 837 722 855 723 871 724 842 725 845 726 850 727 871 728 866 729 866 730 844 731 810 732 856 733 865 734 866 735 865 736 880 737 877 738 878 739 860 740 836 741 869 742 867 743 846 744 878 745 862 746 879 747 895 748 887 749 886 750 879 751 876 752 875 753 869 754 889 755 888 756 902 757 872 758 881 759 883 760 892 761 872 762 877 763 831 764 842 765 834 766 873 767 889 768 877 769 893 770 887 771 861 772 849 773 835 774 846 775 855 776 863 777 873 778 864 779 855 780 856 781 862 782 878 783 876 784 867 785 859 786 857 787 857 788 859 789 865 790 853 791 865 792 866 793 864 794 869 795 865 796 865 797 864 798 863 799 862 800 864 801 863 802 862 803 863 804 862 805 859 806 862 807 862 808 862 809 860 810 859 811 864 812 864 813 865 814 865 815 865 816 868 817 869 818 870 819 871 820 872 821 876 822 876 823 872 824 869 825 866 826 865 827 864 828 864 829 861 830 862 831 864 832 867 833 866 834 868 835 866 836 867 837 867 838 867 839 867 840 866 841 864 842 864 843 862 844 861 845 861 846 859 847 860 848 863 849 863 850 866 851 865 852 866 853 867 854 869 855 866 856 867 857 871 858 868 859 868 860 867 861 866 862 866 863 865 864 865 865 866 866 864 867 867 868 866 869 866 870 867 871 867 872 866 873 867 874 865 875 865 876 866 877 863 878 864 879 862 880 864 881 861 882 863 883 861 884 859 885 859 886 861 887 861 888 864 889 865 890 864 891 865 892 865 893 865 894 865 895 866 896 867 897 867 898 868 899 867 900 870 901 871 902 869 903 870 904 871 905 875 906 875 907 875 908 875 909 878 910 878 911 879 912 880 913 881 914 881 915 880 916 881 917 880 918 881 919 879 920 879 921 879 922 876 923 877 924 876 925 875 926 876 927 876 928 876 929 875 930 875 931 875 932 876 933 877 934 876 935 875 936 874 937 875 938 872 939 870 940 872 941 870 942 867 943 868 944 868 945 866 946 866 947 866 948 865 949 865 950 867 951 867 952 867 953 867 954 866 955 865 956 865 957 863 958 862 959 862 960 862 961 862 962 862 963 862 964 865 965 865 966 865 967 863 968 863 969 864 970 863 971 862 972 863 973 863 974 862 975 863 976 866 977 865 978 864 979 864 980 867 981 866 982 866 983 866 984 868 985 869 986 868 987 868 988 869 989 868 990 868 991 870 992 871 993 872 994 872 995 871 996 870 997 869 998 869 999 870 1000 870"/>
<path vector-effect="non-scaling-stroke" stroke="#0000FF" d="M0 0 1 502 2 544 3 621 4 619 5 623 6 618 7 613 8 617 9 621 10 624 11 481 12 335 13 332 14 339 15 328 16 316 17 348 18 339 19 344 20 387 21 334 22 322 23 353 24 340 25 334 26 329 27 339 28 326 29 367 30 355 31 336 32 353 33 295 34 359 35 369 36 351 37 358 38 368 39 428 40 430 41 366 42 395 43 404 44 413 45 439 46 367 47 394 48 404 49 386 50 478 51 398 52 421 53 515 54 555 55 504 56 348 57 526 58 465 59 456 60 484 61 554 62 534 63 503 64 432 65 466 66 575 67 493 68 497 69 470 70 555 71 496 72 520 73 520 74 520 75 538 76 461 77 587 78 595 79 462 80 509 81 565 82 529 83 514 84 528 85 574 86 544 87 615 88 493 89 516 90 514 91 681 92 634 93 491 94 556 95 651 96 642 97 530 98 677 99 633 100 553 101 566 102 595 103 590 104 613 105 596 106 519 107 583 108 567 109 663 110 634 111 667 112 647 113 578 114 558 115 626 116 622 117 570 118 722 119 663 120 680 121 642 122 620 123 648 124 715 125 598 126 585 127 579 128 543 129 592 130 576 131 669 132 646 133 670 134 634 135 552 136 614 137 672 138 707 139 686 140 632 141 659 142 623 143 497 144 694 145 517 146 718 147 591 148 674 149 624 150 647 151 638 152 693 153 638 154 607 155 654 156 722 157 623 158 646 159 710 160 708 161 682 162 734 163 767 164 787 165 648 166 671 167 652 168 681 169 717 170 606 171 672 172 667 173 661 174 691 175 721 176 713 177 673 178 752 179 646 180 624 181 604 182 671 183 700 184 679 185 710 186 712 187 736 188 725 189 750 190 738 191 700 192 763 193 617 194 763 195 771 196 729 197 596 198 711 199 725 200 695 201 725 202 723 203 713 204 766 205 750 206 713 207 732 208 696 209 687 210 702 211 756 212 767 213 690 214 764 215 700 216 666 217 709 218 720 219 822 220 717 221 708 222 721 223 750 224 699 225 719 226 786 227 797 228 749 229 799 230 740 231 750 232 841 233 749 234 814 235 743 236 673 237 720 238 644 239 819 240 861 241 756 242 737 243 753 244 717 245 808 246 758 247 729 248 595 249 756 250 717 251 820 252 792 253 712 254 712 255 784 256 733 257 794 258 692 259 740 260 811 261 802 262 805 263 739 264 687 265 793 266 678 267 735 268 765 269 748 270 779 271 768 272 671 273 789 274 747 275 757 276 788 277 782 278 849 279 823 280 763 281 797 282 767 283 788 284 811 285 848 286 800 287 834 288 737 289 779 290 829 291 871 292 833 293 806 294 789 295 717 296 777 297 782 298 771 299 729 300 764 301 725 302 807 303 812 304 776 305 776 306 763 307 833 308 764 309 787 310 801 311 886 312 763 313 778 314 846 315 741 316 796 317 805 318 815 319 773 320 818 321 828 322 781 323 784 324 782 325 740 326 793 327 730 328 687 329 748 330 802 331 857 332 865 333 789 334 813 335 759 336 835 337 817 338 853 339 819 340 799 341 743 342 865 343 754 344 766 345 796 346 829 347 738 348 794 349 853 350 872 351 712 352 840 353 837 354 845 355 880 356 797 357 805 358 785 359 804 360 819 361 775 362 849 363 753 364 910 365 842 366 805 367 805 368 824 369 775 370 887 371 847 372 763 373 741 374 799 375 791 376 778 377 835 378 846 379 882 380 785 381 901 382 873 383 873 384 823 385 835 386 786 387 842 388 898 389 826 390 777 391 876 392 915 393 802 394 878 395 823 396 831 397 747 398 802 399 823 400 791 401 818 402 793 403 827 404 833 405 822 406 866 407 823 408 838 409 886 410 859 411 829 412 850 413 818 414 785 415 763 416 833 417 872 418 899 419 818 420 790 421 897 422 873 423 881 424 825 425 750 426 796 427 840 428 832 429 778 430 876 431 844 432 809 433 863 434 873 435 862 436 848 437 787 438 883 439 768 440 843 441 836 442 832 443 896 444 851 445 824 446 799 447 805 448 775 449 847 450 779 451 793 452 812 453 889 454 878 455 807 456 810 457 824 458 819 459 853 460 826 461 778 462 817 463 815 464 801 465 820 466 799 467 872 468 780 469 816 470 834 471 840 472 837 473 865 474 828 475 818 476 865 477 840 478 800 479 868 480 887 481 840 482 845 483 809 484 789 485 862 486 822 487 832 488 842 489 846 490 852 491 917 492 851 493 826 494 822 495 871 496 860 497 826 498 845 499 846 500 831 501 852 502 843 503 885 504 852 505 859 506 868 507 883 508 820 509 820 510 843 511 837 512 857 513 851 514 846 515 833 516 883 517 852 518 839 519 817 520 788 521 811 522 843 523 854 524 804 525 825 526 799 527 808 528 834 529 858 530 876 531 829 532 846 533 849 534 844 535 830 536 837 537 825 538 792 539 838 540 865 541 821 542 851 543 856 544 872 545 832 546 826 547 863 548 846 549 817 550 826 551 844 552 781 553 824 554 867 555 815 556 870 557 836 558 808 559 848 560 843 561 836 562 823 563 826 564 854 565 861 566 818 567 803 568 844 569 863 570 836 571 824 572 815 573 850 574 846 575 854 576 842 577 848 578 851 579 857 580 818 581 850 582 822 583 852 584 831 585 844 586 825 587 871 588 838 589 876 590 859 591 827 592 871 593 843 594 849 595 865 596 844 597 873 598 852 599 869 600 864 601 848 602 843 603 823 604 821 605 860 606 843 607 832 608 872 609 855 610 858 611 845 612 872 613 851 614 860 615 845 616 820 617 856 618 842 619 889 620 883 621 849 622 830 623 853 624 859 625 825 626 814 627 837 628 861 629 883 630 859 631 836 632 846 633 851 634 889 635 897 636 866 637 881 638 873 639 836 640 864 641 884 642 829 643 848 644 867 645 847 646 816 647 813 648 814 649 865 650 827 651 834 652 844 653 833 654 820 655 830 656 842 657 830 658 833 659 838 660 831 661 791 662 834 663 848 664 831 665 842 666 825 667 845 668 824 669 823 670 862 671 839 672 876 673 893 674 879 675 882 676 877 677 855 678 834 679 839 680 844 681 849 682 850 683 853 684 840 685 894 686 872 687 854 688 859 689 845 690 845 691 842 692 851 693 860 694 807 695 866 696 856 697 863 698 891 699 855 700 856 701 855 702 862 703 857 704 847 705 848 706 861 707 850 708 851 709 842 710 844 711 845 712 849 713 867 714 852 715 855 716 845 717 855 718 872 719 860 720 867 721 833 722 821 723 850 724 846 725 870 726 851 727 846 728 869 729 875 730 872 731 875 732 859 733 874 734 846 735 891 736 824 737 895 738 849 739 868 740 839 741 863 742 870 743 876 744 853 745 872 746 841 747 830 748 847 749 876 750 840 751 854 752 850 753 866 754 873 755 849 756 877 757 851 758 868 759 860 760 880 761 866 762 845 763 861 764 864 765 863 766 861 767 853 768 859 769 889 770 885 771 885 772 868 773 854 774 870 775 848 776 849 777 830 778 827 779 852 780 864 781 869 782 876 783 865 784 877 785 892 786 887 787 883 788 880 789 874 790 880 791 872 792 856 793 859 794 862 795 870 796 867 797 865 798 867 799 852 800 855 801 855 802 858 803 857 804 859 805 857 806 858 807 860 808 860 809 861 810 862 811 862 812 863 813 862 814 861 815 858 816 866 817 868 818 869 819 855 820 865 821 866 822 867 823 835 824 833 825 883 826 884 827 868 828 869 829 868 830 831 831 847 832 845 833 846 834 845 835 845 836 863 837 826 838 867 839 863 840 866 841 869 842 872 843 875 844 877 845 874 846 875 847 909 848 910 849 910 850 880 851 878 852 878 853 881 854 867 855 875 856 826 857 824 858 823 859 834 860 867 861 890 862 791 863 893 864 892 865 834 866 856 867 855 868 856 869 866 870 865 871 865 872 863 873 886 874 886 875 888 876 886 877 872 878 828 879 868 880 870 881 866 882 865 883 893 884 848 885 859 886 858 887 859 888 861 889 862 890 860 891 861 892 861 893 876 894 880 895 880 896 879 897 879 898 880 899 879 900 880 901 879 902 878 903 880 904 881 905 862 906 863 907 866 908 865 909 867 910 868 911 868 912 869 913 868 914 869 915 871 916 870 917 869 918 866 919 865 920 865 921 864 922 867 923 866 924 864 925 865 926 866 927 867 928 867 929 866 930 855 931 855 932 854 933 853 934 853 935 854 936 862 937 857 938 858 939 856 940 856 941 856 942 857 943 857 944 858 945 857 946 853 947 854 948 853 949 854 950 854 951 854 952 866 953 866 954 867 955 868 956 867 957 868 958 858 959 860 960 861 961 861 962 860 963 861 964 860 965 861 966 865 967 867 968 880 969 878 970 878 971 877 972 876 973 878 974 876 975 872 976 873 977 859 978 859 979 860 980 858 981 856 982 857 983 857 984 858 985 858 986 857 987 857 988 857 989 863 990 865 991 867 992 867 993 868 994 858 995 860 996 858 997 858 998 857 999 858 1000 856"/>
<path vector-effect="non-scaling-stroke" stroke="#10A0F0" d="M0 0 1 161 2 286 3 293 4 290 5 301 6 307 7 324 8 312 9 299 10 294 11 301 12 302 13 306 14 302 15 312 16 314 17 319 18 296 19 303 20 311 21 300 22 296 23 306 24 328 25 302 26 305 27 323 28 298 29 319 30 311 31 304 32 307 33 308 34 323 35 319 36 323 37 301 38 303 39 311 40 303 41 303 42 311 43 301 44 313 45 300 46 326 47 310 48 308 49 305 50 319 51 299 52 306 53 307 54 312 55 307 56 314 57 321 58 319 59 314 60 317 61 302 62 298 63 300 64 309 65 315 66 321 67 284 68 314 69 310 70 312 71 320 72 315 73 309 74 294 75 321 76 310 77 307 78 312 79 319 80 314 81 330 82 314 83 369 84 374 85 419 86 435 87 510 88 331 89 508 90 494 91 439 92 529 93 512 94 644 95 554 96 545 97 352 98 531 99 571 100 394 101 509 102 608 103 346 104 501 105 543 106 464 107 509 108 589 109 582 110 655 111 667 112 673 113 608 114 639 115 649 116 568 117 644 118 710 119 690 120 739 121 614 122 498 123 509 124 591 125 666 126 593 127 701 128 632 129 535 130 595 131 646 132 607 133 647 134 640 135 640 136 614 137 718 138 725 139 550 140 641 141 571 142 556 143 724 144 565 145 594 146 680 147 796 148 624 149 616 150 592 151 699 152 658 153 594 154 612 155 622 156 696 157 740 158 581 159 642 160 708 161 773 162 607 163 703 164 706 165 667 166 633 167 599 168 674 169 662 170 671 171 732 172 713 173 677 174 716 175 682 176 700 177 713 178 672 179 701 180 662 181 678 182 733 183 696 184 708 185 618 186 674 187 813 188 727 189 678 190 642 191 630 192 734 193 659 194 691 195 743 196 781 197 712 198 709 199 802 200 725 201 728 202 678 203 708 204 684 205 757 206 782 207 767 208 736 209 742 210 719 211 714 212 747 213 668 214 788 215 689 216 709 217 735 218 773 219 714 220 708 221 681 222 734 223 764 224 684 225 711 226 756 227 787 228 695 229 727 230 734 231 737 232 646 233 734 234 772 235 749 236 739 237 745 238 693 239 732 240 760 241 750 242 778 243 769 244 714 245 763 246 702 247 753 248 730 249 784 250 744 251 720 252 784 253 664 254 706 255 709 256 760 257 746 258 743 259 788 260 698 261 751 262 809 263 760 264 817 265 869 266 695 267 684 268 764 269 712 270 740 271 769 272 754 273 755 274 765 275 827 276 750 277 671 278 725 279 819 280 766 281 769 282 750 283 820 284 656 285 669 286 685 287 720 288 811 289 789 290 709 291 743 292 751 293 771 294 802 295 787 296 681 297 833 298 793 299 813 300 797 301 683 302 799 303 830 304 795 305 804 306 658 307 808 308 793 309 832 310 803 311 801 312 803 313 845 314 725 315 758 316 820 317 691 318 806 319 817 320 760 321 825 322 780 323 784 324 812 325 787 326 831 327 841 328 784 329 823 330 797 331 798 332 748 333 787 334 728 335 759 336 775 337 812 338 803 339 844 340 815 341 819 342 824 343 827 344 687 345 777 346 764 347 795 348 776 349 787 350 840 351 767 352 831 353 790 354 840 355 810 356 748 357 798 358 775 359 818 360 795 361 811 362 820 363 832 364 797 365 824 366 831 367 755 368 801 369 831 370 833 371 811 372 828 373 796 374 811 375 756 376 863 377 774 378 884 379 790 380 795 381 811 382 788 383 776 384 811 385 758 386 795 387 803 388 683 389 790 390 823 391 772 392 782 393 836 394 883 395 813 396 794 397 841 398 841 399 860 400 878 401 801 402 875 403 786 404 799 405 827 406 859 407 862 408 816 409 752 410 814 411 768 412 805 413 802 414 767 415 876 416 819 417 813 418 866 419 865 420 834 421 800 422 820 423 857 424 855 425 858 426 830 427 767 428 855 429 826 430 888 431 901 432 843 433 829 434 814 435 754 436 888 437 839 438 794 439 789 440 856 441 823 442 867 443 783 444 887 445 823 446 831 447 839 448 896 449 881 450 750 451 828 452 845 453 856 454 847 455 793 456 776 457 791 458 805 459 833 460 842 461 821 462 825 463 853 464 812 465 850 466 809 467 793 468 816 469 814 470 837 471 844 472 849 473 851 474 780 475 890 476 883 477 856 478 797 479 816 480 841 481 889 482 844 483 867 484 860 485 870 486 894 487 826 488 844 489 815 490 794 491 813 492 841 493 871 494 855 495 875 496 828 497 833 498 861 499 840 500 858 501 839 502 818 503 840 504 830 505 836 506 860 507 836 508 830 509 847 510 832 511 838 512 844 513 864 514 832 515 828 516 840 517 837 518 873 519 864 520 825 521 813 522 815 523 843 524 816 525 861 526 830 527 818 528 819 529 872 530 840 531 845 532 815 533 839 534 844 535 859 536 836 537 841 538 846 539 853 540 851 541 857 542 812 543 811 544 867 545 838 546 852 547 890 548 824 549 842 550 858 551 857 552 861 553 871 554 827 555 829 556 818 557 859 558 835 559 881 560 849 561 859 562 856 563 867 564 877 565 832 566 843 567 866 568 868 569 835 570 838 571 846 572 849 573 851 574 833 575 806 576 827 577 812 578 832 579 837 580 842 581 804 582 816 583 829 584 839 585 849 586 850 587 839 588 854 589 851 590 819 591 836 592 869 593 820 594 872 595 834 596 852 597 865 598 862 599 832 600 814 601 824 602 850 603 829 604 804 605 816 606 824 607 842 608 863 609 858 610 867 611 842 612 831 613 854 614 887 615 869 616 837 617 836 618 849 619 824 620 826 621 858 622 841 623 855 624 862 625 880 626 867 627 850 628 863 629 858 630 847 631 829 632 863 633 859 634 858 635 858 636 849 637 845 638 855 639 851 640 887 641 881 642 885 643 863 644 861 645 848 646 827 647 861 648 844 649 808 650 851 651 848 652 872 653 826 654 800 655 833 656 832 657 818 658 855 659 839 660 839 661 842 662 876 663 824 664 852 665 866 666 873 667 865 668 861 669 840 670 865 671 857 672 845 673 869 674 874 675 865 676 856 677 864 678 808 679 848 680 829 681 836 682 874 683 849 684 863 685 844 686 843 687 898 688 872 689 839 690 866 691 875 692 883 693 848 694 864 695 820 696 819 697 828 698 850 699 838 700 864 701 857 702 868 703 845 704 850 705 803 706 855 707 865 708 867 709 827 710 847 711 826 712 848 713 857 714 873 715 863 716 864 717 845 718 840 719 837 720 840 721 848 722 859 723 852 724 867 725 859 726 832 727 840 728 865 729 870 730 884 731 872 732 871 733 869 734 855 735 843 736 873 737 832 738 841 739 857 740 857 741 860 742 845 743 844 744 845 745 855 746 849 747 859 748 854 749 861 750 863 751 864 752 841 753 847 754 840 755 836 756 813 757 834 758 855 759 869 760 848 761 846 762 873 763 845 764 840 765 851 766 879 767 862 768 850 769 868 770 863 771 830 772 836 773 864 774 863 775 867 776 875 777 848 778 827 779 834 780 843 781 856 782 842 783 834 784 853 785 863 786 865 787 866 788 874 789 864 790 856 791 856 792 847 793 849 794 858 795 852 796 850 797 851 798 848 799 848 800 849 801 849 802 851 803 850 804 852 805 854 806 853 807 854 808 853 809 853 810 855 811 853 812 853 813 853 814 854 815 850 816 849 817 852 818 851 819 850 820 848 821 850 822 851 823 851 824 854 825 853 826 859 827 859 828 858 829 860 830 859 831 861 832 860 833 860 834 860 835 860 836 859 837 863 838 864 839 860 840 861 841 864 842 864 843 865 844 863 845 863 846 868 847 868 848 868 849 867 850 863 851 861 852 860 853 858 854 858 855 857 856 856 857 854 858 854 859 854 860 854 861 853 862 851 863 850 864 848 865 849 866 848 867 846 868 848 869 848 870 844 871 842 872 844 873 845 874 846 875 847 876 845 877 847 878 845 879 843 880 844 881 846 882 846 883 845 884 845 885 844 886 841 887 841 888 841 889 844 890 845 891 841 892 843 893 842 894 840 895 841 896 841 897 839 898 842 899 843 900 842 901 840 902 842 903 844 904 846 905 846 906 844 907 845 908 846 909 846 910 845 911 844 912 843 913 848 914 846 915 846 916 843 917 842 918 842 919 841 920 840 921 842 922 841 923 841 924 843 925 843 926 842 927 842 928 842 929 843 930 843 931 842 932 843 933 841 934 839 935 840 936 899 937 901 938 903 939 902 940 903 941 903 942 903 943 901 944 902 945 901 946 899 947 900 948 901 949 904 950 904 951 907 952 854 953 854 954 854 955 855 956 856 957 855 958 855 959 854 960 857 961 858 962 859 963 857 964 858 965 857 966 857 967 857 968 857 969 859 970 861 971 862 972 863 973 862 974 859 975 856 976 855 977 854 978 853 979 853 980 850 981 851 982 852 983 853 984 852 985 852 986 854 987 853 988 851 989 854 990 853 991 851 992 852 993 852 994 852 995 852 996 851 997 850 998 848 999 847 1000 847"/>
</g>
<rect x="65.70" y="305.80" width="470.50" height="247.40" fill="none" stroke="#8a8a8a" stroke-width="1.0"/>
<path d="M65.70 553.20v-4.50M65.70 305.80v4.50M65.70 553.20h4.50M536.20 553.20h-4.50M112.75 553.20v-4.50M112.75 305.80v4.50M65.70 528.46h4.50M536.20 528.46h-4.50M159.80 553.20v-4.50M159.80 305.80v4.50M65.70 503.72h4.50M536.20 503.72h-4.50M206.85 553.20v-4.50M206.85 305.80v4.50M65.70 478.98h4.50M536.20 478.98h-4.50M253.90 553.20v-4.50M253.90 305.80v4.50M65.70 454.24h4.50M536.20 454.24h-4.50M300.95 553.20v-4.50M300.95 305.80v4.50M65.70 429.50h4.50M536.20 429.50h-4.50M348.00 553.20v-4.50M348.00 305.80v4.50M65.70 404.76h4.50M536.20 404.76h-4.50M395.05 553.20v-4.50M395.05 305.80v4.50M65.70 380.02h4.50M536.20 380.02h-4.50M442.10 553.20v-4.50M442.10 305.80v4.50M65.70 355.28h4.50M536.20 355.28h-4.50M489.15 553.20v-4.50M489.15 305.80v4.50M65.70 330.54h4.50M536.20 330.54h-4.50M536.20 553.20v-4.50M536.20 305.80v4.50M65.70 305.80h4.50M536.20 305.80h-4.50" stroke="#8a8a8a" stroke-width="1.0" fill="none"/>
<text x="65.70" y="564.50" font-size="8.7" text-anchor="middle">0</text>
<text x="63.10" y="555.90" font-size="8.7" text-anchor="end">0</text>
<text x="112.75" y="564.50" font-size="8.7" text-anchor="middle">100</text>
<text x="63.10" y="531.16" font-size="8.7" text-anchor="end">0.1</text>
<text x="159.80" y="564.50" font-size="8.7" text-anchor="middle">200</text>
<text x="63.10" y="506.42" font-size="8.7" text-anchor="end">0.2</text>
<text x="206.85" y="564.50" font-size="8.7" text-anchor="middle">300</text>
<text x="63.10" y="481.68" font-size="8.7" text-anchor="end">0.3</text>
<text x="253.90" y="564.50" font-size="8.7" text-anchor="middle">400</text>
<text x="63.10" y="456.94" font-size="8.7" text-anchor="end">0.4</text>
<text x="300.95" y="564.50" font-size="8.7" text-anchor="middle">500</text>
<text x="63.10" y="432.20" font-size="8.7" text-anchor="end">0.5</text>
<text x="348.00" y="564.50" font-size="8.7" text-anchor="middle">600</text>
<text x="63.10" y="407.46" font-size="8.7" text-anchor="end">0.6</text>
<text x="395.05" y="564.50" font-size="8.7" text-anchor="middle">700</text>
<text x="63.10" y="382.72" font-size="8.7" text-anchor="end">0.7</text>
<text x="442.10" y="564.50" font-size="8.7" text-anchor="middle">800</text>
<text x="63.10" y="357.98" font-size="8.7" text-anchor="end">0.8</text>
<text x="489.15" y="564.50" font-size="8.7" text-anchor="middle">900</text>
<text x="63.10" y="333.24" font-size="8.7" text-anchor="end">0.9</text>
<text x="536.20" y="564.50" font-size="8.7" text-anchor="middle">1000</text>
<text x="63.10" y="308.50" font-size="8.7" text-anchor="end">1</text>
<text x="300.95" y="574.70" font-size="9.1" text-anchor="middle">epoch</text>
<text transform="translate(40.90 431.40) rotate(-90)" font-size="9.1" text-anchor="middle">Precision</text>
<text x="4.80" y="339.50" font-size="13.5">(b)</text>
<rect x="414.40" y="479.70" width="118.20" height="70.40" fill="#fff" stroke="#8a8a8a" stroke-width="1.0"/>
<path d="M415.80 484.80h12.00" stroke="#00FFFF" stroke-width="1.2"/>
<text class="lg" x="429.30" y="487.70" font-size="8.4">YOLOv5s</text>
<path d="M415.80 494.80h12.00" stroke="#000000" stroke-width="1.2"/>
<text class="lg" x="429.30" y="497.70" font-size="8.4">YOLOv5s-MobileNet-CBAM</text>
<path d="M415.80 504.80h12.00" stroke="#FF00FF" stroke-width="1.2"/>
<text class="lg" x="429.30" y="507.70" font-size="8.4">YOLOv5s-MobileNet-CA</text>
<path d="M415.80 514.80h12.00" stroke="#9A30B0" stroke-width="1.2"/>
<text class="lg" x="429.30" y="517.70" font-size="8.4">YOLOv5s-MobileNet-SA</text>
<path d="M415.80 524.80h12.00" stroke="#62B22C" stroke-width="1.2"/>
<text class="lg" x="429.30" y="527.70" font-size="8.4">YOLOv5s-ShuffleNet-CBAM</text>
<path d="M415.80 534.80h12.00" stroke="#0000FF" stroke-width="1.2"/>
<text class="lg" x="429.30" y="537.70" font-size="8.4">YOLOv5s-ShuffleNet-CA</text>
<path d="M415.80 544.80h12.00" stroke="#10A0F0" stroke-width="1.2"/>
<text class="lg" x="429.30" y="547.70" font-size="8.4">YOLOv5s-GhostNet-CBAM</text>
<g transform="translate(65.70 853.20) scale(0.47050 -0.24740)" fill="none" stroke-width="0.85" stroke-linejoin="round" vector-effect="non-scaling-stroke">
<path vector-effect="non-scaling-stroke" stroke="#00FFFF" d="M0 0 1 441 2 488 3 1000 4 638 5 709 6 949 7 1000 8 837 9 1000 10 936 11 859 12 992 13 961 14 803 15 1000 16 941 17 865 18 967 19 781 20 972 21 841 22 730 23 706 24 708 25 1000 26 766 27 1000 28 796 29 881 30 872 31 905 32 784 33 814 34 1000 35 836 36 771 37 866 38 848 39 963 40 884 41 775 42 820 43 845 44 857 45 881 46 841 47 936 48 866 49 843 50 752 51 721 52 821 53 823 54 757 55 772 56 702 57 770 58 884 59 853 60 819 61 890 62 752 63 812 64 822 65 868 66 865 67 865 68 847 69 781 70 849 71 791 72 760 73 785 74 803 75 775 76 796 77 961 78 926 79 854 80 920 81 880 82 859 83 849 84 844 85 810 86 782 87 782 88 699 89 766 90 854 91 825 92 774 93 828 94 797 95 751 96 772 97 765 98 773 99 806 100 862 101 869 102 813 103 830 104 783 105 787 106 873 107 835 108 839 109 831 110 813 111 799 112 790 113 867 114 821 115 792 116 883 117 717 118 726 119 770 120 689 121 800 122 767 123 745 124 745 125 796 126 886 127 841 128 827 129 779 130 786 131 814 132 833 133 832 134 812 135 771 136 821 137 806 138 784 139 794 140 825 141 770 142 781 143 750 144 795 145 725 146 749 147 804 148 826 149 832 150 844 151 795 152 784 153 799 154 819 155 769 156 806 157 821 158 824 159 824 160 849 161 768 162 697 163 763 164 820 165 851 166 676 167 768 168 768 169 808 170 850 171 814 172 793 173 775 174 764 175 788 176 814 177 707 178 773 179 809 180 812 181 830 182 806 183 759 184 762 185 818 186 854 187 816 188 766 189 792 190 761 191 828 192 791 193 838 194 840 195 904 196 837 197 828 198 858 199 707 200 836 201 872 202 858 203 831 204 866 205 783 206 730 207 741 208 764 209 789 210 784 211 860 212 865 213 802 214 779 215 806 216 839 217 851 218 854 219 807 220 791 221 823 222 832 223 862 224 782 225 792 226 825 227 805 228 804 229 790 230 785 231 824 232 847 233 787 234 799 235 839 236 834 237 825 238 741 239 818 240 838 241 848 242 793 243 859 244 798 245 863 246 821 247 759 248 803 249 765 250 766 251 836 252 837 253 809 254 847 255 852 256 815 257 757 258 830 259 786 260 741 261 829 262 825 263 814 264 797 265 846 266 816 267 790 268 879 269 921 270 862 271 810 272 803 273 844 274 859 275 899 276 828 277 856 278 831 279 804 280 777 281 813 282 783 283 826 284 854 285 705 286 846 287 825 288 882 289 813 290 815 291 830 292 857 293 805 294 837 295 819 296 862 297 848 298 852 299 813 300 837 301 832 302 872 303 849 304 791 305 820 306 842 307 816 308 850 309 840 310 823 311 839 312 800 313 802 314 824 315 797 316 831 317 846 318 854 319 828 320 800 321 815 322 847 323 823 324 817 325 825 326 838 327 854 328 819 329 842 330 823 331 801 332 877 333 901 334 837 335 856 336 821 337 823 338 818 339 830 340 811 341 795 342 781 343 797 344 810 345 850 346 881 347 878 348 859 349 883 350 842 351 798 352 787 353 785 354 799 355 784 356 771 357 815 358 788 359 812 360 806 361 842 362 798 363 828 364 803 365 792 366 797 367 809 368 878 369 835 370 820 371 818 372 797 373 834 374 814 375 836 376 845 377 853 378 868 379 880 380 835 381 865 382 825 383 864 384 863 385 868 386 861 387 813 388 859 389 804 390 792 391 843 392 798 393 838 394 819 395 865 396 818 397 812 398 793 399 732 400 810 401 843 402 844 403 860 404 866 405 851 406 824 407 828 408 819 409 800 410 785 411 808 412 829 413 844 414 881 415 865 416 822 417 816 418 749 419 768 420 788 421 820 422 846 423 858 424 810 425 816 426 813 427 826 428 804 429 816 430 756 431 814 432 850 433 850 434 845 435 809 436 830 437 793 438 818 439 810 440 835 441 856 442 843 443 818 444 876 445 785 446 816 447 853 448 831 449 835 450 757 451 822 452 816 453 822 454 840 455 762 456 854 457 839 458 843 459 867 460 825 461 820 462 838 463 790 464 820 465 811 466 767 467 834 468 794 469 760 470 800 471 776 472 871 473 793 474 804 475 852 476 824 477 823 478 855 479 823 480 781 481 780 482 855 483 808 484 771 485 784 486 797 487 826 488 840 489 825 490 838 491 872 492 867 493 833 494 820 495 780 496 828 497 796 498 807 499 744 500 821 501 827 502 807 503 801 504 826 505 805 506 853 507 825 508 765 509 810 510 824 511 831 512 856 513 849 514 817 515 805 516 792 517 802 518 801 519 805 520 847 521 795 522 799 523 788 524 840 525 877 526 825 527 747 528 828 529 832 530 800 531 802 532 858 533 834 534 811 535 776 536 860 537 835 538 864 539 840 540 827 541 877 542 871 543 825 544 852 545 820 546 835 547 877 548 842 549 859 550 826 551 836 552 809 553 833 554 837 555 827 556 833 557 859 558 811 559 829 560 799 561 778 562 784 563 785 564 807 565 777 566 784 567 818 568 809 569 783 570 776 571 776 572 823 573 816 574 863 575 842 576 850 577 866 578 832 579 879 580 858 581 843 582 834 583 856 584 899 585 838 586 806 587 842 588 819 589 818 590 808 591 842 592 848 593 852 594 811 595 811 596 801 597 798 598 791 599 849 600 791 601 806 602 816 603 817 604 824 605 817 606 809 607 760 608 788 609 775 610 781 611 799 612 826 613 796 614 779 615 734 616 792 617 792 618 812 619 817 620 818 621 831 622 856 623 856 624 857 625 864 626 844 627 803 628 786 629 810 630 847 631 836 632 861 633 856 634 840 635 821 636 835 637 801 638 826 639 818 640 816 641 809 642 811 643 823 644 824 645 801 646 850 647 818 648 826 649 821 650 852 651 841 652 862 653 846 654 740 655 807 656 790 657 814 658 804 659 822 660 838 661 819 662 824 663 827 664 824 665 827 666 831 667 774 668 797 669 821 670 821 671 792 672 831 673 843 674 808 675 844 676 822 677 807 678 823 679 797 680 781 681 801 682 810 683 806 684 793 685 767 686 775 687 771 688 749 689 772 690 808 691 815 692 765 693 820 694 802 695 803 696 818 697 808 698 794 699 799 700 796 701 825 702 824 703 831 704 796 705 776 706 788 707 787 708 819 709 824 710 799 711 801 712 774 713 785 714 822 715 807 716 827 717 825 718 799 719 817 720 832 721 824 722 820 723 835 724 851 725 845 726 827 727 847 728 828 729 849 730 835 731 837 732 831 733 828 734 832 735 838 736 826 737 807 738 822 739 817 740 809 741 803 742 794 743 798 744 801 745 810 746 804 747 808 748 806 749 808 750 800 751 791 752 796 753 807 754 807 755 802 756 805 757 806 758 808 759 809 760 809 761 813 762 810 763 811 764 808 765 809 766 806 767 804 768 814 769 817 770 818 771 818 772 815 773 813 774 815 775 814 776 817 777 821 778 823 779 822 780 819 781 821 782 818 783 820 784 821 785 821 786 816 787 817 788 815 789 819 790 818 791 825 792 823 793 823 794 822 795 822 796 820 797 824 798 822 799 823 800 822 801 821 802 818 803 818 804 820 805 824 806 805 807 806 808 806 809 789 810 792 811 790 812 793 813 799 814 798 815 809 816 809 817 806 818 808 819 806 820 808 821 810 822 809 823 807 824 813 825 810 826 811 827 810 828 807 829 806 830 804 831 804 832 805 833 801 834 800 835 799 836 800 837 814 838 813 839 809 840 808 841 808 842 807 843 797 844 806 845 805 846 805 847 808 848 805 849 805 850 805 851 806 852 804 853 803 854 800 855 801 856 796 857 793 858 791 859 790 860 795 861 796 862 798 863 801 864 800 865 797 866 795 867 799 868 800 869 802 870 800 871 798 872 797 873 795 874 794 875 794 876 797 877 799 878 797 879 799 880 795 881 797 882 796 883 796 884 795 885 795 886 797 887 796 888 794 889 797 890 796 891 798 892 802 893 803 894 804 895 807 896 809 897 792 898 801 899 797 900 798 901 797 902 800 903 800 904 798 905 799 906 798 907 798 908 797 909 799 910 800 911 799 912 800 913 800 914 801 915 798 916 795 917 796 918 798 919 796 920 794 921 789 922 790 923 789 924 788 925 786 926 788 927 788 928 790 929 794 930 792 931 792 932 794 933 794 934 791 935 771 936 773 937 772 938 773 939 770 940 771 941 805 942 801 943 787 944 792 945 791 946 791 947 789 948 792 949 792 950 793 951 794 952 794 953 804 954 806 955 805 956 805 957 804 958 803 959 805 960 805 961 805 962 803 963 802 964 803 965 803 966 804 967 819 968 817 969 815 970 815 971 815 972 812 973 813 974 814 975 818 976 816 977 815 978 811 979 810 980 809 981 810 982 810 983 809 984 810 985 810 986 809 987 809 988 810 989 811 990 811 991 811 992 811 993 780 994 782 995 782 996 783 997 781 998 782 999 781 1000 780"/>
<path vector-effect="non-scaling-stroke" stroke="#000000" d="M0 0 1 393 2 585 3 436 4 857 5 906 6 965 7 638 8 956 9 687 10 1000 11 945 12 949 13 1000 14 767 15 1000 16 1000 17 665 18 837 19 1000 20 1000 21 868 22 805 23 901 24 778 25 866 26 922 27 764 28 946 29 790 30 807 31 805 32 1000 33 868 34 864 35 829 36 861 37 839 38 830 39 894 40 1000 41 802 42 799 43 885 44 959 45 725 46 870 47 768 48 964 49 774 50 781 51 886 52 854 53 896 54 853 55 816 56 943 57 829 58 853 59 867 60 821 61 898 62 933 63 845 64 915 65 907 66 954 67 906 68 845 69 783 70 871 71 920 72 828 73 826 74 897 75 842 76 802 77 924 78 812 79 855 80 828 81 777 82 790 83 807 84 935 85 852 86 864 87 871 88 848 89 932 90 924 91 894 92 900 93 875 94 860 95 864 96 841 97 819 98 795 99 864 100 861 101 866 102 851 103 831 104 831 105 892 106 869 107 877 108 873 109 852 110 896 111 908 112 888 113 898 114 833 115 862 116 841 117 769 118 834 119 859 120 875 121 861 122 865 123 817 124 839 125 847 126 781 127 773 128 859 129 881 130 864 131 856 132 916 133 934 134 871 135 860 136 888 137 847 138 861 139 919 140 845 141 902 142 856 143 865 144 848 145 892 146 904 147 886 148 851 149 877 150 725 151 846 152 851 153 911 154 928 155 932 156 884 157 843 158 910 159 919 160 855 161 912 162 857 163 847 164 839 165 821 166 882 167 888 168 836 169 829 170 853 171 889 172 870 173 866 174 826 175 872 176 856 177 845 178 827 179 822 180 759 181 848 182 844 183 876 184 855 185 833 186 819 187 796 188 856 189 865 190 839 191 914 192 864 193 795 194 882 195 831 196 847 197 799 198 844 199 766 200 858 201 874 202 797 203 864 204 921 205 918 206 859 207 836 208 854 209 889 210 894 211 912 212 893 213 850 214 849 215 835 216 804 217 877 218 854 219 896 220 915 221 826 222 864 223 881 224 850 225 818 226 842 227 850 228 876 229 891 230 851 231 849 232 864 233 912 234 889 235 868 236 850 237 806 238 826 239 859 240 872 241 943 242 868 243 889 244 868 245 884 246 933 247 838 248 765 249 869 250 861 251 924 252 873 253 917 254 777 255 858 256 843 257 857 258 809 259 863 260 891 261 906 262 861 263 895 264 912 265 909 266 804 267 839 268 876 269 878 270 942 271 862 272 864 273 876 274 845 275 854 276 840 277 843 278 890 279 897 280 925 281 848 282 833 283 816 284 849 285 839 286 897 287 910 288 907 289 851 290 819 291 830 292 845 293 855 294 854 295 859 296 868 297 914 298 909 299 846 300 868 301 923 302 882 303 888 304 954 305 875 306 810 307 873 308 867 309 874 310 881 311 876 312 891 313 922 314 806 315 825 316 887 317 858 318 873 319 873 320 896 321 831 322 850 323 919 324 883 325 906 326 843 327 873 328 891 329 873 330 900 331 854 332 850 333 856 334 804 335 825 336 919 337 935 338 954 339 923 340 925 341 925 342 873 343 831 344 831 345 861 346 866 347 830 348 881 349 905 350 902 351 869 352 820 353 816 354 855 355 894 356 932 357 903 358 950 359 884 360 866 361 847 362 852 363 875 364 847 365 857 366 830 367 891 368 927 369 927 370 836 371 895 372 916 373 858 374 847 375 860 376 840 377 843 378 820 379 920 380 815 381 852 382 877 383 854 384 906 385 868 386 864 387 876 388 854 389 814 390 818 391 838 392 842 393 810 394 878 395 900 396 869 397 857 398 885 399 896 400 902 401 876 402 861 403 858 404 895 405 890 406 902 407 919 408 906 409 883 410 837 411 838 412 890 413 855 414 832 415 862 416 854 417 839 418 863 419 886 420 860 421 875 422 874 423 841 424 875 425 841 426 875 427 944 428 938 429 925 430 892 431 899 432 938 433 896 434 906 435 901 436 900 437 886 438 877 439 905 440 841 441 928 442 879 443 886 444 871 445 924 446 918 447 877 448 904 449 891 450 866 451 945 452 868 453 892 454 895 455 913 456 865 457 873 458 932 459 897 460 917 461 910 462 905 463 910 464 893 465 898 466 922 467 914 468 953 469 901 470 916 471 895 472 917 473 866 474 895 475 896 476 891 477 924 478 866 479 908 480 852 481 908 482 905 483 889 484 914 485 864 486 873 487 928 488 909 489 899 490 892 491 910 492 909 493 910 494 883 495 850 496 880 497 873 498 899 499 873 500 942 501 899 502 891 503 893 504 902 505 875 506 872 507 884 508 881 509 840 510 845 511 879 512 900 513 874 514 921 515 886 516 865 517 918 518 892 519 888 520 877 521 893 522 916 523 941 524 923 525 881 526 900 527 895 528 922 529 876 530 898 531 845 532 885 533 901 534 914 535 906 536 889 537 895 538 886 539 862 540 851 541 869 542 863 543 871 544 857 545 872 546 874 547 854 548 879 549 926 550 943 551 960 552 933 553 936 554 908 555 912 556 888 557 886 558 874 559 894 560 902 561 884 562 904 563 878 564 918 565 903 566 916 567 874 568 906 569 890 570 875 571 867 572 844 573 858 574 899 575 857 576 862 577 863 578 825 579 863 580 795 581 896 582 944 583 930 584 902 585 892 586 888 587 834 588 846 589 880 590 911 591 874 592 897 593 918 594 885 595 912 596 869 597 921 598 888 599 843 600 877 601 899 602 882 603 821 604 912 605 924 606 887 607 899 608 883 609 852 610 892 611 857 612 871 613 879 614 912 615 900 616 924 617 945 618 934 619 932 620 901 621 899 622 878 623 908 624 911 625 950 626 947 627 900 628 935 629 963 630 928 631 901 632 886 633 901 634 904 635 918 636 920 637 906 638 905 639 926 640 930 641 929 642 877 643 853 644 869 645 861 646 912 647 906 648 866 649 895 650 918 651 908 652 934 653 975 654 908 655 903 656 880 657 889 658 894 659 908 660 898 661 900 662 916 663 910 664 911 665 917 666 899 667 896 668 942 669 941 670 917 671 920 672 896 673 892 674 950 675 914 676 908 677 902 678 916 679 931 680 921 681 937 682 915 683 917 684 919 685 896 686 859 687 886 688 885 689 890 690 878 691 884 692 900 693 892 694 883 695 878 696 896 697 890 698 909 699 914 700 925 701 903 702 922 703 929 704 921 705 920 706 947 707 940 708 925 709 915 710 913 711 909 712 927 713 910 714 924 715 929 716 921 717 897 718 899 719 908 720 883 721 888 722 910 723 917 724 899 725 891 726 915 727 903 728 928 729 927 730 928 731 923 732 921 733 907 734 895 735 899 736 909 737 905 738 905 739 919 740 906 741 916 742 916 743 928 744 907 745 897 746 906 747 915 748 910 749 916 750 907 751 903 752 898 753 903 754 900 755 899 756 900 757 897 758 891 759 892 760 895 761 893 762 900 763 900 764 901 765 908 766 913 767 908 768 911 769 908 770 907 771 904 772 905 773 907 774 906 775 907 776 909 777 905 778 903 779 902 780 904 781 908 782 911 783 910 784 913 785 914 786 912 787 915 788 916 789 914 790 914 791 913 792 912 793 914 794 911 795 911 796 911 797 915 798 916 799 912 800 911 801 911 802 910 803 908 804 913 805 910 806 908 807 910 808 913 809 908 810 906 811 907 812 906 813 921 814 936 815 951 816 952 817 950 818 949 819 948 820 944 821 948 822 949 823 948 824 947 825 948 826 951 827 951 828 951 829 951 830 954 831 953 832 951 833 951 834 948 835 956 836 953 837 951 838 950 839 946 840 946 841 947 842 940 843 934 844 929 845 930 846 929 847 926 848 930 849 927 850 928 851 933 852 933 853 934 854 928 855 924 856 926 857 923 858 926 859 927 860 928 861 930 862 929 863 929 864 927 865 925 866 928 867 923 868 923 869 922 870 920 871 923 872 922 873 926 874 924 875 924 876 923 877 924 878 924 879 924 880 925 881 924 882 924 883 921 884 922 885 921 886 918 887 917 888 916 889 915 890 916 891 912 892 913 893 915 894 919 895 917 896 917 897 916 898 920 899 917 900 916 901 917 902 921 903 921 904 921 905 921 906 919 907 919 908 916 909 911 910 910 911 913 912 908 913 904 914 904 915 904 916 903 917 901 918 901 919 903 920 907 921 907 922 906 923 909 924 909 925 910 926 913 927 915 928 912 929 909 930 906 931 907 932 906 933 905 934 901 935 899 936 898 937 896 938 895 939 897 940 895 941 896 942 894 943 900 944 898 945 899 946 900 947 898 948 898 949 898 950 898 951 898 952 899 953 900 954 897 955 899 956 898 957 896 958 898 959 898 960 898 961 900 962 901 963 902 964 899 965 898 966 894 967 896 968 897 969 898 970 896 971 899 972 901 973 902 974 901 975 901 976 899 977 902 978 901 979 897 980 896 981 896 982 900 983 899 984 903 985 901 986 900 987 900 988 899 989 899 990 898 991 899 992 895 993 895 994 893 995 893 996 891 997 891 998 892 999 891 1000 889"/>
<path vector-effect="non-scaling-stroke" stroke="#FF00FF" d="M0 0 1 434 2 490 3 606 4 603 5 985 6 951 7 1000 8 863 9 682 10 825 11 765 12 879 13 861 14 833 15 902 16 823 17 933 18 846 19 747 20 956 21 811 22 859 23 799 24 854 25 789 26 679 27 1000 28 881 29 647 30 750 31 932 32 875 33 797 34 867 35 821 36 857 37 832 38 1000 39 860 40 941 41 772 42 814 43 973 44 857 45 847 46 837 47 905 48 719 49 850 50 821 51 800 52 711 53 756 54 791 55 882 56 873 57 938 58 871 59 987 60 805 61 848 62 1000 63 952 64 722 65 663 66 730 67 905 68 865 69 903 70 741 71 870 72 855 73 859 74 918 75 888 76 861 77 798 78 817 79 787 80 853 81 931 82 880 83 843 84 855 85 800 86 886 87 866 88 747 89 857 90 839 91 835 92 837 93 852 94 867 95 843 96 825 97 780 98 831 99 816 100 847 101 861 102 827 103 821 104 834 105 829 106 803 107 855 108 885 109 835 110 772 111 784 112 811 113 846 114 756 115 835 116 815 117 816 118 837 119 872 120 870 121 800 122 815 123 856 124 817 125 814 126 843 127 818 128 816 129 781 130 771 131 821 132 809 133 844 134 793 135 901 136 809 137 820 138 825 139 858 140 902 141 916 142 883 143 841 144 873 145 863 146 847 147 829 148 866 149 808 150 837 151 892 152 828 153 794 154 824 155 788 156 755 157 754 158 748 159 757 160 770 161 786 162 767 163 801 164 844 165 810 166 736 167 808 168 823 169 833 170 837 171 823 172 856 173 803 174 819 175 825 176 767 177 776 178 837 179 817 180 873 181 865 182 827 183 860 184 839 185 807 186 783 187 814 188 737 189 798 190 799 191 888 192 822 193 865 194 881 195 851 196 842 197 818 198 807 199 810 200 773 201 816 202 842 203 858 204 855 205 816 206 796 207 834 208 876 209 908 210 866 211 850 212 871 213 827 214 824 215 837 216 892 217 875 218 794 219 839 220 838 221 796 222 894 223 855 224 810 225 826 226 855 227 858 228 799 229 784 230 795 231 842 232 790 233 809 234 770 235 803 236 823 237 889 238 875 239 878 240 867 241 798 242 873 243 858 244 834 245 783 246 856 247 905 248 791 249 815 250 771 251 774 252 778 253 790 254 826 255 839 256 863 257 857 258 875 259 830 260 839 261 835 262 855 263 817 264 806 265 797 266 835 267 838 268 840 269 850 270 822 271 655 272 820 273 754 274 797 275 811 276 823 277 878 278 844 279 838 280 878 281 808 282 847 283 853 284 811 285 866 286 838 287 818 288 846 289 852 290 820 291 841 292 814 293 800 294 754 295 850 296 813 297 810 298 848 299 804 300 816 301 846 302 869 303 827 304 806 305 843 306 843 307 899 308 890 309 883 310 832 311 837 312 818 313 818 314 861 315 861 316 817 317 893 318 885 319 843 320 837 321 883 322 850 323 844 324 885 325 855 326 891 327 786 328 733 329 748 330 844 331 811 332 857 333 853 334 801 335 882 336 899 337 902 338 816 339 788 340 801 341 844 342 873 343 880 344 895 345 897 346 889 347 899 348 894 349 908 350 898 351 908 352 884 353 859 354 863 355 841 356 812 357 822 358 863 359 881 360 857 361 894 362 888 363 864 364 868 365 873 366 884 367 843 368 835 369 823 370 876 371 830 372 838 373 826 374 809 375 829 376 848 377 823 378 771 379 845 380 807 381 790 382 856 383 848 384 863 385 848 386 868 387 840 388 882 389 832 390 842 391 842 392 805 393 811 394 826 395 840 396 832 397 806 398 779 399 800 400 799 401 845 402 866 403 819 404 786 405 803 406 860 407 809 408 793 409 786 410 797 411 857 412 895 413 852 414 855 415 886 416 826 417 811 418 822 419 812 420 778 421 817 422 817 423 838 424 853 425 840 426 728 427 823 428 835 429 797 430 814 431 852 432 903 433 894 434 876 435 902 436 873 437 869 438 847 439 876 440 828 441 874 442 822 443 826 444 854 445 859 446 843 447 849 448 745 449 851 450 888 451 863 452 887 453 883 454 866 455 886 456 901 457 855 458 854 459 881 460 860 461 856 462 864 463 842 464 890 465 874 466 874 467 814 468 856 469 876 470 874 471 842 472 842 473 806 474 838 475 824 476 804 477 823 478 813 479 828 480 864 481 872 482 868 483 868 484 856 485 860 486 854 487 820 488 832 489 842 490 860 491 833 492 806 493 771 494 793 495 853 496 816 497 848 498 818 499 869 500 875 501 873 502 876 503 839 504 851 505 793 506 819 507 853 508 814 509 826 510 817 511 809 512 829 513 870 514 809 515 831 516 830 517 860 518 843 519 834 520 842 521 879 522 841 523 877 524 874 525 814 526 826 527 856 528 810 529 856 530 911 531 891 532 862 533 875 534 874 535 899 536 840 537 888 538 895 539 860 540 847 541 834 542 869 543 855 544 834 545 840 546 820 547 845 548 902 549 876 550 796 551 828 552 862 553 860 554 899 555 853 556 806 557 832 558 858 559 838 560 834 561 813 562 853 563 873 564 858 565 860 566 885 567 868 568 884 569 878 570 880 571 860 572 883 573 853 574 891 575 860 576 852 577 864 578 834 579 838 580 874 581 890 582 901 583 827 584 800 585 841 586 842 587 861 588 786 589 813 590 863 591 882 592 835 593 827 594 837 595 829 596 837 597 856 598 863 599 853 600 795 601 868 602 870 603 849 604 895 605 893 606 829 607 903 608 861 609 875 610 870 611 899 612 884 613 856 614 886 615 881 616 908 617 871 618 861 619 862 620 861 621 892 622 871 623 846 624 875 625 848 626 854 627 847 628 854 629 853 630 886 631 918 632 870 633 821 634 853 635 883 636 844 637 828 638 864 639 864 640 849 641 871 642 825 643 863 644 861 645 847 646 845 647 832 648 858 649 765 650 827 651 845 652 860 653 868 654 837 655 867 656 866 657 846 658 825 659 857 660 866 661 857 662 864 663 853 664 871 665 822 666 829 667 866 668 879 669 872 670 858 671 841 672 851 673 890 674 902 675 874 676 862 677 849 678 823 679 846 680 855 681 841 682 834 683 841 684 846 685 872 686 855 687 897 688 848 689 845 690 859 691 859 692 859 693 859 694 869 695 829 696 838 697 822 698 850 699 868 700 860 701 876 702 893 703 839 704 878 705 892 706 896 707 903 708 878 709 890 710 869 711 832 712 882 713 862 714 881 715 903 716 907 717 879 718 845 719 851 720 868 721 857 722 869 723 856 724 865 725 856 726 846 727 871 728 856 729 861 730 857 731 857 732 871 733 879 734 882 735 850 736 861 737 862 738 876 739 875 740 866 741 846 742 860 743 858 744 860 745 860 746 861 747 869 748 876 749 873 750 871 751 875 752 872 753 870 754 871 755 882 756 876 757 873 758 871 759 871 760 866 761 870 762 871 763 873 764 870 765 877 766 875 767 879 768 875 769 875 770 878 771 881 772 877 773 877 774 878 775 877 776 876 777 868 778 868 779 865 780 863 781 865 782 853 783 853 784 851 785 844 786 844 787 864 788 866 789 863 790 866 791 847 792 850 793 852 794 852 795 850 796 854 797 867 798 864 799 866 800 862 801 866 802 863 803 866 804 867 805 866 806 862 807 864 808 865 809 864 810 868 811 870 812 871 813 869 814 868 815 866 816 868 817 870 818 869 819 873 820 879 821 877 822 877 823 880 824 873 825 870 826 870 827 873 828 874 829 870 830 865 831 866 832 877 833 878 834 878 835 877 836 877 837 883 838 886 839 893 840 893 841 895 842 893 843 889 844 887 845 888 846 889 847 891 848 890 849 886 850 887 851 888 852 891 853 890 854 887 855 884 856 874 857 872 858 871 859 872 860 875 861 873 862 872 863 871 864 868 865 868 866 871 867 868 868 867 869 871 870 883 871 884 872 888 873 889 874 888 875 890 876 892 877 894 878 896 879 893 880 893 881 890 882 887 883 883 884 882 885 882 886 878 887 878 888 877 889 875 890 875 891 872 892 876 893 874 894 872 895 872 896 875 897 874 898 874 899 873 900 871 901 868 902 869 903 869 904 866 905 866 906 869 907 870 908 868 909 866 910 865 911 866 912 869 913 874 914 871 915 871 916 871 917 873 918 873 919 873 920 873 921 872 922 873 923 871 924 871 925 870 926 867 927 851 928 853 929 853 930 857 931 858 932 856 933 853 934 853 935 855 936 854 937 855 938 857 939 857 940 858 941 859 942 858 943 854 944 851 945 850 946 849 947 849 948 845 949 846 950 846 951 848 952 850 953 848 954 872 955 874 956 877 957 874 958 875 959 872 960 871 961 873 962 872 963 873 964 873 965 874 966 874 967 873 968 873 969 873 970 870 971 871 972 872 973 872 974 872 975 870 976 870 977 870 978 870 979 873 980 872 981 863 982 861 983 859 984 859 985 860 986 859 987 862 988 862 989 861 990 861 991 861 992 863 993 861 994 859 995 856 996 857 997 856 998 853 999 854 1000 858"/>
<path vector-effect="non-scaling-stroke" stroke="#9A30B0" d="M0 0 1 446 2 428 3 595 4 632 5 963 6 709 7 936 8 939 9 805 10 838 11 618 12 874 13 782 14 909 15 672 16 823 17 907 18 757 19 967 20 716 21 971 22 727 23 733 24 922 25 729 26 835 27 1000 28 745 29 966 30 826 31 766 32 762 33 880 34 749 35 814 36 1000 37 907 38 809 39 785 40 918 41 791 42 924 43 907 44 811 45 832 46 701 47 854 48 971 49 810 50 861 51 801 52 1000 53 854 54 1000 55 796 56 871 57 904 58 801 59 833 60 801 61 783 62 772 63 901 64 887 65 816 66 818 67 851 68 897 69 833 70 873 71 833 72 784 73 785 74 843 75 824 76 903 77 813 78 802 79 839 80 810 81 904 82 905 83 922 84 898 85 927 86 878 87 856 88 887 89 879 90 935 91 925 92 879 93 851 94 874 95 850 96 787 97 804 98 914 99 840 100 895 101 806 102 816 103 878 104 855 105 830 106 828 107 844 108 820 109 883 110 840 111 853 112 801 113 796 114 830 115 840 116 802 117 893 118 832 119 810 120 814 121 855 122 852 123 778 124 821 125 832 126 752 127 771 128 819 129 890 130 827 131 789 132 832 133 921 134 893 135 834 136 763 137 748 138 764 139 799 140 803 141 817 142 800 143 796 144 900 145 876 146 782 147 837 148 856 149 837 150 810 151 850 152 865 153 857 154 916 155 936 156 888 157 817 158 835 159 824 160 868 161 836 162 811 163 846 164 846 165 839 166 797 167 867 168 890 169 824 170 851 171 834 172 831 173 840 174 889 175 837 176 845 177 854 178 819 179 758 180 809 181 778 182 769 183 755 184 735 185 828 186 842 187 840 188 844 189 827 190 879 191 821 192 797 193 833 194 875 195 793 196 804 197 856 198 796 199 824 200 857 201 845 202 892 203 795 204 887 205 809 206 828 207 811 208 811 209 826 210 842 211 791 212 783 213 841 214 851 215 860 216 883 217 874 218 928 219 906 220 831 221 833 222 900 223 908 224 848 225 832 226 870 227 865 228 815 229 843 230 823 231 840 232 883 233 862 234 834 235 781 236 800 237 796 238 833 239 768 240 813 241 811 242 846 243 860 244 849 245 859 246 833 247 817 248 809 249 787 250 784 251 817 252 828 253 787 254 834 255 874 256 896 257 770 258 781 259 760 260 771 261 780 262 778 263 804 264 884 265 788 266 856 267 812 268 842 269 896 270 820 271 888 272 825 273 860 274 836 275 861 276 853 277 785 278 766 279 820 280 818 281 844 282 820 283 891 284 933 285 904 286 810 287 901 288 838 289 866 290 819 291 813 292 827 293 828 294 829 295 871 296 827 297 815 298 811 299 845 300 807 301 805 302 858 303 827 304 844 305 817 306 808 307 859 308 841 309 830 310 810 311 812 312 820 313 867 314 872 315 851 316 844 317 797 318 766 319 821 320 822 321 877 322 868 323 845 324 852 325 829 326 873 327 865 328 874 329 833 330 869 331 770 332 842 333 850 334 872 335 844 336 837 337 806 338 807 339 825 340 822 341 803 342 822 343 838 344 861 345 871 346 831 347 884 348 842 349 897 350 915 351 860 352 818 353 799 354 902 355 846 356 794 357 844 358 855 359 853 360 827 361 848 362 837 363 859 364 852 365 873 366 873 367 871 368 871 369 851 370 839 371 849 372 840 373 835 374 872 375 865 376 843 377 796 378 859 379 863 380 810 381 855 382 848 383 811 384 796 385 855 386 886 387 866 388 843 389 839 390 829 391 825 392 822 393 786 394 804 395 809 396 849 397 824 398 843 399 819 400 824 401 807 402 824 403 834 404 849 405 809 406 834 407 831 408 819 409 812 410 843 411 835 412 874 413 905 414 879 415 822 416 890 417 842 418 836 419 876 420 849 421 880 422 864 423 811 424 828 425 839 426 842 427 839 428 853 429 872 430 853 431 796 432 817 433 850 434 847 435 861 436 855 437 787 438 749 439 860 440 869 441 826 442 818 443 744 444 846 445 833 446 779 447 823 448 890 449 896 450 875 451 858 452 855 453 896 454 820 455 837 456 822 457 874 458 825 459 814 460 817 461 797 462 864 463 845 464 817 465 824 466 820 467 849 468 836 469 869 470 829 471 836 472 856 473 801 474 839 475 793 476 817 477 819 478 844 479 842 480 873 481 912 482 895 483 879 484 881 485 884 486 867 487 851 488 858 489 845 490 877 491 825 492 848 493 835 494 857 495 842 496 833 497 840 498 841 499 855 500 820 501 876 502 881 503 867 504 905 505 885 506 851 507 841 508 851 509 825 510 823 511 807 512 845 513 811 514 842 515 864 516 927 517 893 518 845 519 876 520 864 521 860 522 897 523 939 524 873 525 841 526 798 527 828 528 845 529 869 530 866 531 845 532 843 533 829 534 814 535 843 536 843 537 779 538 720 539 790 540 814 541 868 542 850 543 837 544 871 545 839 546 851 547 842 548 804 549 813 550 817 551 807 552 867 553 795 554 836 555 840 556 875 557 890 558 914 559 868 560 878 561 859 562 855 563 875 564 871 565 848 566 833 567 814 568 805 569 786 570 813 571 845 572 830 573 849 574 817 575 824 576 822 577 841 578 830 579 840 580 818 581 849 582 863 583 815 584 843 585 850 586 842 587 874 588 825 589 818 590 811 591 839 592 866 593 849 594 840 595 821 596 864 597 871 598 871 599 890 600 901 601 894 602 862 603 855 604 835 605 833 606 836 607 863 608 856 609 863 610 850 611 825 612 812 613 797 614 839 615 844 616 862 617 844 618 881 619 889 620 872 621 853 622 866 623 843 624 848 625 840 626 845 627 867 628 871 629 829 630 823 631 830 632 861 633 851 634 875 635 859 636 867 637 829 638 871 639 823 640 871 641 881 642 875 643 857 644 834 645 809 646 847 647 849 648 849 649 873 650 824 651 801 652 821 653 847 654 849 655 849 656 799 657 852 658 834 659 845 660 858 661 845 662 890 663 898 664 848 665 859 666 877 667 815 668 868 669 859 670 851 671 874 672 849 673 852 674 876 675 867 676 851 677 848 678 862 679 863 680 899 681 883 682 840 683 869 684 856 685 854 686 878 687 849 688 829 689 854 690 837 691 824 692 824 693 833 694 822 695 853 696 837 697 837 698 821 699 834 700 859 701 858 702 817 703 847 704 835 705 854 706 850 707 845 708 809 709 849 710 842 711 821 712 831 713 823 714 823 715 814 716 818 717 841 718 821 719 847 720 853 721 861 722 858 723 864 724 861 725 853 726 839 727 853 728 845 729 844 730 855 731 856 732 868 733 868 734 846 735 845 736 850 737 852 738 844 739 857 740 845 741 835 742 848 743 859 744 852 745 856 746 859 747 861 748 860 749 857 750 857 751 856 752 855 753 865 754 862 755 868 756 867 757 862 758 863 759 870 760 870 761 872 762 869 763 867 764 860 765 863 766 862 767 866 768 862 769 859 770 822 771 824 772 823 773 836 774 836 775 836 776 860 777 863 778 859 779 864 780 864 781 865 782 866 783 870 784 871 785 869 786 868 787 872 788 856 789 855 790 857 791 856 792 854 793 853 794 861 795 858 796 862 797 860 798 870 799 868 800 871 801 877 802 878 803 881 804 882 805 884 806 882 807 893 808 889 809 889 810 890 811 888 812 888 813 885 814 883 815 883 816 887 817 885 818 884 819 885 820 886 821 864 822 865 823 869 824 868 825 868 826 870 827 873 828 872 829 870 830 871 831 871 832 855 833 857 834 862 835 861 836 858 837 862 838 863 839 864 840 865 841 884 842 888 843 888 844 890 845 884 846 882 847 888 848 887 849 884 850 882 851 882 852 884 853 888 854 887 855 888 856 889 857 881 858 879 859 876 860 875 861 878 862 877 863 875 864 878 865 876 866 877 867 873 868 872 869 870 870 869 871 867 872 869 873 868 874 871 875 869 876 869 877 868 878 865 879 849 880 847 881 851 882 852 883 857 884 858 885 862 886 860 887 859 888 859 889 859 890 857 891 859 892 856 893 860 894 858 895 860 896 860 897 859 898 858 899 829 900 831 901 832 902 830 903 831 904 832 905 848 906 848 907 848 908 848 909 850 910 851 911 850 912 849 913 847 914 849 915 848 916 848 917 849 918 850 919 849 920 847 921 849 922 848 923 849 924 849 925 841 926 844 927 842 928 841 929 841 930 837 931 835 932 834 933 833 934 834 935 837 936 836 937 836 938 835 939 831 940 831 941 831 942 828 943 830 944 833 945 844 946 843 947 844 948 847 949 845 950 845 951 846 952 842 953 840 954 839 955 839 956 839 957 839 958 841 959 842 960 843 961 845 962 839 963 838 964 838 965 837 966 837 967 834 968 834 969 833 970 835 971 834 972 834 973 837 974 840 975 836 976 834 977 833 978 834 979 833 980 833 981 833 982 832 983 835 984 833 985 832 986 832 987 831 988 829 989 840 990 837 991 836 992 834 993 835 994 833 995 833 996 835 997 836 998 835 999 824 1000 825"/>
<path vector-effect="non-scaling-stroke" stroke="#62B22C" d="M0 0 1 415 2 482 3 571 4 876 5 1000 6 806 7 851 8 1000 9 749 10 656 11 1000 12 997 13 670 14 782 15 1000 16 1000 17 888 18 976 19 1000 20 758 21 651 22 917 23 891 24 974 25 951 26 965 27 907 28 920 29 815 30 792 31 790 32 861 33 909 34 930 35 824 36 851 37 900 38 815 39 844 40 850 41 789 42 810 43 879 44 833 45 900 46 832 47 818 48 744 49 843 50 975 51 867 52 871 53 855 54 867 55 862 56 856 57 844 58 818 59 790 60 831 61 841 62 771 63 980 64 926 65 923 66 934 67 880 68 857 69 810 70 755 71 882 72 839 73 728 74 1000 75 909 76 927 77 881 78 927 79 849 80 628 81 777 82 790 83 600 84 838 85 809 86 791 87 643 88 889 89 886 90 834 91 848 92 836 93 843 94 860 95 861 96 933 97 550 98 847 99 876 100 871 101 863 102 831 103 912 104 891 105 811 106 700 107 864 108 837 109 773 110 540 111 818 112 809 113 776 114 673 115 821 116 808 117 823 118 694 119 836 120 600 121 787 122 785 123 831 124 804 125 825 126 833 127 609 128 807 129 818 130 772 131 864 132 864 133 826 134 824 135 811 136 789 137 762 138 783 139 500 140 888 141 817 142 860 143 872 144 896 145 879 146 844 147 846 148 828 149 825 150 793 151 754 152 795 153 865 154 845 155 849 156 871 157 836 158 889 159 910 160 430 161 817 162 817 163 878 164 841 165 853 166 829 167 868 168 847 169 817 170 872 171 904 172 915 173 831 174 825 175 833 176 787 177 841 178 777 179 795 180 847 181 862 182 896 183 875 184 930 185 910 186 827 187 752 188 807 189 851 190 890 191 751 192 812 193 898 194 926 195 856 196 850 197 855 198 836 199 675 200 761 201 828 202 842 203 840 204 866 205 800 206 840 207 840 208 817 209 800 210 809 211 797 212 794 213 850 214 808 215 815 216 798 217 855 218 881 219 839 220 858 221 817 222 836 223 860 224 861 225 934 226 873 227 853 228 859 229 795 230 867 231 834 232 840 233 933 234 855 235 819 236 802 237 846 238 890 239 879 240 845 241 881 242 869 243 829 244 919 245 827 246 863 247 784 248 776 249 816 250 804 251 820 252 863 253 847 254 821 255 823 256 725 257 796 258 771 259 812 260 871 261 917 262 816 263 909 264 860 265 860 266 879 267 916 268 888 269 909 270 917 271 877 272 863 273 863 274 835 275 804 276 865 277 855 278 832 279 914 280 882 281 822 282 867 283 885 284 892 285 849 286 867 287 870 288 843 289 905 290 892 291 863 292 828 293 864 294 885 295 868 296 844 297 849 298 902 299 780 300 873 301 876 302 886 303 859 304 824 305 877 306 892 307 870 308 810 309 817 310 810 311 851 312 839 313 803 314 845 315 835 316 863 317 885 318 862 319 846 320 878 321 841 322 828 323 847 324 867 325 850 326 873 327 873 328 858 329 896 330 787 331 804 332 855 333 838 334 891 335 890 336 758 337 811 338 815 339 837 340 873 341 855 342 890 343 849 344 842 345 816 346 831 347 868 348 882 349 841 350 829 351 868 352 882 353 852 354 815 355 894 356 900 357 902 358 874 359 863 360 883 361 891 362 922 363 896 364 882 365 755 366 874 367 813 368 812 369 873 370 937 371 892 372 842 373 867 374 854 375 786 376 839 377 862 378 869 379 854 380 880 381 858 382 886 383 807 384 850 385 829 386 863 387 869 388 832 389 867 390 835 391 875 392 923 393 854 394 837 395 907 396 877 397 886 398 798 399 836 400 845 401 862 402 881 403 860 404 887 405 858 406 857 407 856 408 863 409 905 410 839 411 854 412 897 413 846 414 857 415 878 416 889 417 844 418 865 419 870 420 893 421 902 422 869 423 830 424 862 425 879 426 922 427 939 428 921 429 834 430 809 431 844 432 801 433 865 434 873 435 830 436 835 437 843 438 856 439 873 440 870 441 859 442 840 443 852 444 862 445 824 446 868 447 851 448 879 449 870 450 874 451 899 452 878 453 854 454 841 455 813 456 843 457 838 458 902 459 871 460 861 461 866 462 877 463 902 464 890 465 823 466 905 467 830 468 859 469 891 470 879 471 883 472 862 473 875 474 877 475 822 476 830 477 856 478 852 479 834 480 852 481 888 482 888 483 865 484 874 485 851 486 813 487 836 488 848 489 873 490 869 491 856 492 816 493 893 494 943 495 911 496 902 497 857 498 847 499 861 500 789 501 890 502 826 503 783 504 799 505 862 506 864 507 880 508 849 509 842 510 859 511 895 512 898 513 890 514 858 515 870 516 829 517 884 518 890 519 822 520 850 521 871 522 902 523 794 524 860 525 818 526 907 527 916 528 892 529 855 530 917 531 909 532 880 533 883 534 861 535 861 536 911 537 911 538 887 539 896 540 879 541 871 542 877 543 886 544 859 545 873 546 910 547 831 548 889 549 882 550 845 551 851 552 882 553 856 554 893 555 880 556 901 557 886 558 901 559 894 560 905 561 919 562 885 563 851 564 874 565 898 566 903 567 890 568 870 569 853 570 900 571 894 572 873 573 839 574 859 575 877 576 892 577 858 578 853 579 890 580 899 581 848 582 900 583 862 584 880 585 902 586 843 587 893 588 856 589 872 590 839 591 884 592 897 593 813 594 893 595 898 596 898 597 877 598 862 599 872 600 862 601 871 602 853 603 826 604 877 605 866 606 883 607 920 608 917 609 900 610 873 611 897 612 923 613 911 614 871 615 863 616 827 617 829 618 856 619 863 620 856 621 866 622 881 623 863 624 823 625 847 626 919 627 894 628 875 629 893 630 903 631 910 632 900 633 838 634 871 635 870 636 846 637 843 638 831 639 852 640 895 641 892 642 866 643 910 644 893 645 912 646 901 647 938 648 903 649 899 650 913 651 865 652 860 653 851 654 879 655 858 656 840 657 870 658 854 659 809 660 882 661 874 662 839 663 861 664 875 665 874 666 855 667 886 668 872 669 906 670 863 671 848 672 873 673 892 674 851 675 863 676 885 677 867 678 924 679 945 680 961 681 935 682 899 683 910 684 911 685 895 686 899 687 873 688 882 689 887 690 877 691 840 692 863 693 823 694 882 695 883 696 867 697 875 698 867 699 873 700 835 701 849 702 870 703 895 704 900 705 883 706 885 707 889 708 871 709 896 710 905 711 883 712 874 713 890 714 918 715 926 716 867 717 877 718 886 719 886 720 886 721 896 722 910 723 878 724 878 725 884 726 896 727 886 728 893 729 878 730 862 731 852 732 857 733 860 734 859 735 875 736 878 737 882 738 885 739 892 740 898 741 906 742 883 743 880 744 889 745 886 746 892 747 894 748 897 749 895 750 893 751 900 752 896 753 894 754 894 755 890 756 891 757 893 758 895 759 897 760 896 761 901 762 902 763 899 764 900 765 904 766 904 767 898 768 899 769 902 770 896 771 893 772 892 773 890 774 885 775 881 776 881 777 883 778 887 779 888 780 889 781 890 782 887 783 887 784 883 785 884 786 887 787 883 788 888 789 896 790 897 791 902 792 901 793 904 794 909 795 907 796 905 797 906 798 897 799 899 800 901 801 902 802 902 803 902 804 907 805 907 806 911 807 910 808 907 809 908 810 906 811 908 812 908 813 909 814 908 815 905 816 908 817 906 818 904 819 904 820 905 821 904 822 904 823 907 824 904 825 896 826 899 827 896 828 893 829 889 830 892 831 889 832 889 833 886 834 888 835 887 836 892 837 890 838 889 839 889 840 890 841 888 842 890 843 890 844 888 845 886 846 884 847 886 848 887 849 887 850 890 851 889 852 887 853 886 854 890 855 895 856 896 857 897 858 899 859 897 860 900 861 900 862 900 863 900 864 899 865 899 866 901 867 901 868 899 869 899 870 900 871 900 872 899 873 897 874 896 875 897 876 903 877 901 878 901 879 901 880 900 881 902 882 904 883 902 884 903 885 900 886 898 887 897 888 896 889 892 890 890 891 891 892 894 893 896 894 896 895 898 896 899 897 898 898 898 899 895 900 893 901 890 902 892 903 891 904 891 905 895 906 894 907 894 908 893 909 894 910 892 911 892 912 891 913 892 914 892 915 895 916 893 917 894 918 896 919 898 920 898 921 898 922 897 923 898 924 899 925 899 926 902 927 900 928 899 929 896 930 892 931 892 932 891 933 889 934 890 935 889 936 891 937 892 938 890 939 892 940 892 941 891 942 889 943 888 944 888 945 890 946 890 947 888 948 887 949 888 950 888 951 890 952 889 953 889 954 889 955 887 956 887 957 889 958 888 959 888 960 890 961 893 962 891 963 891 964 888 965 888 966 887 967 887 968 889 969 892 970 893 971 890 972 895 973 895 974 899 975 897 976 897 977 897 978 896 979 895 980 895 981 893 982 893 983 892 984 894 985 894 986 895 987 898 988 898 989 896 990 896 991 896 992 897 993 896 994 897 995 895 996 893 997 896 998 894 999 895 1000 893"/>
<path vector-effect="non-scaling-stroke" stroke="#0000FF" d="M0 0 1 485 2 507 3 504 4 671 5 853 6 1000 7 1000 8 947 9 708 10 828 11 890 12 810 13 782 14 779 15 776 16 738 17 805 18 873 19 872 20 862 21 636 22 823 23 799 24 784 25 730 26 914 27 802 28 931 29 930 30 810 31 1000 32 791 33 1000 34 748 35 992 36 854 37 854 38 846 39 839 40 901 41 960 42 884 43 837 44 948 45 931 46 890 47 936 48 948 49 881 50 907 51 886 52 824 53 835 54 826 55 885 56 852 57 799 58 895 59 793 60 797 61 821 62 856 63 865 64 839 65 807 66 850 67 831 68 855 69 808 70 893 71 894 72 826 73 749 74 789 75 808 76 831 77 819 78 767 79 831 80 816 81 851 82 771 83 935 84 891 85 793 86 817 87 855 88 846 89 829 90 870 91 833 92 814 93 848 94 798 95 846 96 863 97 832 98 774 99 817 100 782 101 788 102 811 103 849 104 822 105 780 106 835 107 822 108 832 109 780 110 802 111 875 112 776 113 793 114 801 115 856 116 841 117 834 118 848 119 807 120 868 121 810 122 830 123 809 124 822 125 912 126 831 127 793 128 880 129 819 130 766 131 759 132 745 133 836 134 828 135 803 136 794 137 804 138 812 139 849 140 823 141 820 142 814 143 847 144 860 145 889 146 889 147 793 148 834 149 826 150 761 151 823 152 907 153 878 154 702 155 887 156 887 157 789 158 754 159 873 160 872 161 885 162 829 163 792 164 768 165 781 166 838 167 844 168 808 169 866 170 859 171 800 172 798 173 810 174 841 175 863 176 778 177 809 178 844 179 812 180 795 181 795 182 798 183 791 184 828 185 833 186 856 187 776 188 802 189 696 190 791 191 809 192 798 193 820 194 754 195 793 196 801 197 821 198 827 199 867 200 828 201 831 202 840 203 845 204 856 205 830 206 838 207 840 208 822 209 833 210 791 211 821 212 803 213 817 214 856 215 827 216 876 217 866 218 757 219 820 220 855 221 775 222 833 223 829 224 696 225 758 226 839 227 752 228 790 229 856 230 816 231 863 232 775 233 802 234 791 235 850 236 781 237 853 238 877 239 834 240 836 241 789 242 811 243 779 244 810 245 769 246 787 247 795 248 817 249 856 250 780 251 886 252 809 253 806 254 842 255 848 256 848 257 815 258 857 259 859 260 858 261 829 262 862 263 889 264 880 265 843 266 837 267 816 268 875 269 858 270 864 271 831 272 852 273 823 274 832 275 815 276 795 277 878 278 882 279 822 280 812 281 760 282 832 283 781 284 807 285 805 286 821 287 834 288 855 289 879 290 875 291 829 292 765 293 743 294 774 295 768 296 815 297 827 298 821 299 796 300 798 301 832 302 858 303 884 304 841 305 816 306 885 307 831 308 816 309 805 310 810 311 820 312 791 313 824 314 780 315 833 316 839 317 832 318 810 319 835 320 842 321 832 322 807 323 784 324 808 325 817 326 838 327 821 328 828 329 812 330 785 331 797 332 792 333 833 334 843 335 799 336 803 337 803 338 807 339 822 340 847 341 819 342 834 343 818 344 774 345 815 346 835 347 814 348 817 349 834 350 844 351 862 352 795 353 838 354 849 355 819 356 784 357 767 358 807 359 817 360 810 361 851 362 865 363 804 364 851 365 821 366 875 367 818 368 822 369 800 370 835 371 852 372 809 373 892 374 877 375 816 376 886 377 830 378 811 379 888 380 861 381 862 382 866 383 838 384 818 385 863 386 816 387 798 388 862 389 882 390 850 391 838 392 822 393 893 394 876 395 864 396 877 397 808 398 754 399 769 400 806 401 846 402 852 403 816 404 843 405 831 406 893 407 894 408 877 409 840 410 832 411 853 412 846 413 833 414 828 415 790 416 825 417 824 418 790 419 838 420 819 421 796 422 814 423 832 424 792 425 790 426 836 427 825 428 806 429 804 430 872 431 853 432 825 433 823 434 836 435 847 436 843 437 900 438 867 439 852 440 866 441 864 442 892 443 878 444 842 445 827 446 815 447 817 448 819 449 811 450 771 451 843 452 800 453 856 454 805 455 824 456 785 457 901 458 861 459 854 460 867 461 816 462 846 463 866 464 863 465 864 466 813 467 826 468 821 469 828 470 828 471 758 472 771 473 805 474 818 475 858 476 851 477 816 478 810 479 785 480 827 481 861 482 829 483 823 484 818 485 847 486 823 487 810 488 817 489 812 490 803 491 838 492 812 493 838 494 815 495 820 496 856 497 822 498 861 499 846 500 863 501 836 502 847 503 886 504 870 505 853 506 836 507 805 508 803 509 851 510 790 511 846 512 836 513 871 514 818 515 823 516 825 517 769 518 841 519 772 520 808 521 817 522 838 523 814 524 836 525 859 526 816 527 809 528 821 529 752 530 801 531 836 532 862 533 855 534 833 535 806 536 785 537 789 538 784 539 801 540 820 541 816 542 870 543 848 544 844 545 829 546 828 547 799 548 821 549 756 550 821 551 819 552 834 553 813 554 804 555 794 556 813 557 801 558 807 559 798 560 809 561 839 562 883 563 874 564 854 565 819 566 815 567 854 568 867 569 863 570 843 571 835 572 838 573 812 574 789 575 762 576 818 577 815 578 800 579 794 580 815 581 827 582 875 583 870 584 841 585 817 586 834 587 836 588 843 589 813 590 834 591 831 592 850 593 871 594 797 595 831 596 871 597 846 598 819 599 868 600 834 601 840 602 794 603 815 604 829 605 826 606 877 607 865 608 822 609 824 610 860 611 858 612 811 613 812 614 842 615 782 616 803 617 824 618 782 619 830 620 835 621 866 622 844 623 842 624 848 625 869 626 799 627 852 628 816 629 817 630 813 631 828 632 781 633 815 634 797 635 847 636 817 637 868 638 837 639 818 640 811 641 819 642 822 643 821 644 808 645 819 646 841 647 811 648 845 649 867 650 821 651 836 652 839 653 819 654 840 655 843 656 861 657 832 658 845 659 814 660 806 661 831 662 855 663 851 664 808 665 794 666 838 667 824 668 834 669 761 670 819 671 802 672 824 673 860 674 861 675 832 676 814 677 828 678 812 679 828 680 775 681 808 682 827 683 875 684 881 685 836 686 835 687 813 688 819 689 822 690 816 691 818 692 838 693 841 694 832 695 845 696 845 697 835 698 805 699 836 700 802 701 812 702 816 703 828 704 834 705 834 706 840 707 817 708 824 709 801 710 823 711 827 712 816 713 830 714 819 715 842 716 838 717 847 718 854 719 829 720 825 721 833 722 833 723 808 724 817 725 823 726 816 727 833 728 839 729 870 730 859 731 845 732 854 733 857 734 848 735 847 736 847 737 828 738 836 739 817 740 821 741 817 742 818 743 812 744 798 745 801 746 803 747 812 748 811 749 815 750 817 751 814 752 813 753 807 754 812 755 816 756 814 757 817 758 819 759 821 760 817 761 815 762 809 763 809 764 813 765 811 766 810 767 808 768 808 769 801 770 801 771 803 772 806 773 808 774 808 775 811 776 815 777 818 778 816 779 813 780 809 781 808 782 811 783 813 784 812 785 816 786 825 787 825 788 838 789 839 790 834 791 831 792 835 793 838 794 834 795 834 796 832 797 836 798 836 799 839 800 844 801 839 802 843 803 841 804 840 805 839 806 828 807 831 808 831 809 830 810 833 811 837 812 830 813 836 814 835 815 831 816 828 817 832 818 829 819 824 820 816 821 819 822 818 823 815 824 818 825 821 826 822 827 825 828 827 829 826 830 823 831 823 832 828 833 826 834 826 835 823 836 825 837 826 838 824 839 823 840 822 841 822 842 809 843 809 844 807 845 784 846 863 847 802 848 805 849 805 850 804 851 803 852 803 853 800 854 802 855 802 856 803 857 803 858 802 859 772 860 773 861 823 862 775 863 777 864 852 865 799 866 819 867 819 868 798 869 798 870 802 871 806 872 815 873 814 874 815 875 817 876 865 877 863 878 786 879 837 880 796 881 797 882 800 883 828 884 830 885 779 886 779 887 858 888 775 889 835 890 836 891 821 892 825 893 824 894 822 895 820 896 820 897 822 898 819 899 818 900 817 901 816 902 816 903 815 904 818 905 819 906 821 907 824 908 826 909 826 910 824 911 825 912 836 913 825 914 827 915 825 916 826 917 829 918 830 919 831 920 828 921 817 922 818 923 818 924 831 925 829 926 828 927 828 928 827 929 826 930 828 931 827 932 826 933 823 934 827 935 831 936 831 937 833 938 831 939 831 940 831 941 837 942 838 943 841 944 840 945 836 946 828 947 826 948 823 949 821 950 821 951 826 952 825 953 826 954 825 955 825 956 824 957 824 958 824 959 824 960 825 961 823 962 826 963 827 964 828 965 829 966 826 967 824 968 824 969 824 970 824 971 822 972 823 973 827 974 827 975 827 976 830 977 831 978 832 979 834 980 833 981 833 982 832 983 830 984 829 985 827 986 827 987 827 988 825 989 825 990 823 991 824 992 825 993 825 994 824 995 824 996 822 997 823 998 824 999 824 1000 824"/>
<path vector-effect="non-scaling-stroke" stroke="#10A0F0" d="M0 0 1 407 2 648 3 524 4 783 5 842 6 915 7 800 8 839 9 860 10 984 11 964 12 835 13 798 14 922 15 825 16 839 17 819 18 923 19 959 20 728 21 921 22 891 23 927 24 862 25 883 26 903 27 878 28 918 29 889 30 1000 31 982 32 917 33 766 34 896 35 840 36 838 37 878 38 853 39 806 40 918 41 996 42 937 43 922 44 808 45 804 46 784 47 786 48 874 49 838 50 1000 51 909 52 1000 53 927 54 902 55 883 56 860 57 908 58 898 59 877 60 1000 61 1000 62 856 63 899 64 1000 65 961 66 981 67 965 68 869 69 1000 70 872 71 878 72 801 73 1000 74 1000 75 881 76 1000 77 1000 78 1000 79 1000 80 853 81 905 82 856 83 841 84 1000 85 1000 86 919 87 1000 88 941 89 905 90 892 91 899 92 876 93 889 94 831 95 792 96 848 97 861 98 819 99 858 100 908 101 869 102 856 103 804 104 836 105 833 106 878 107 776 108 817 109 792 110 805 111 812 112 858 113 820 114 837 115 838 116 870 117 823 118 813 119 785 120 823 121 781 122 788 123 794 124 776 125 836 126 798 127 814 128 793 129 762 130 781 131 821 132 785 133 842 134 763 135 809 136 822 137 828 138 867 139 827 140 803 141 731 142 780 143 785 144 831 145 835 146 823 147 870 148 889 149 880 150 846 151 867 152 816 153 872 154 847 155 793 156 769 157 792 158 780 159 844 160 807 161 756 162 804 163 854 164 850 165 814 166 835 167 827 168 828 169 868 170 835 171 833 172 814 173 864 174 827 175 900 176 877 177 791 178 733 179 794 180 762 181 758 182 778 183 826 184 738 185 864 186 853 187 835 188 824 189 741 190 778 191 769 192 882 193 868 194 915 195 819 196 783 197 770 198 807 199 875 200 833 201 882 202 869 203 837 204 814 205 818 206 832 207 771 208 747 209 781 210 834 211 786 212 811 213 809 214 771 215 759 216 730 217 782 218 742 219 766 220 800 221 821 222 732 223 738 224 703 225 808 226 779 227 876 228 826 229 738 230 758 231 805 232 833 233 797 234 740 235 770 236 816 237 843 238 808 239 916 240 902 241 856 242 786 243 819 244 857 245 818 246 811 247 757 248 761 249 812 250 831 251 778 252 838 253 864 254 848 255 774 256 773 257 775 258 799 259 828 260 840 261 858 262 809 263 800 264 815 265 854 266 844 267 791 268 826 269 814 270 785 271 762 272 812 273 849 274 876 275 845 276 805 277 794 278 767 279 763 280 783 281 842 282 831 283 848 284 825 285 829 286 850 287 889 288 802 289 833 290 836 291 857 292 821 293 837 294 845 295 870 296 863 297 874 298 817 299 847 300 867 301 821 302 884 303 845 304 894 305 786 306 847 307 867 308 830 309 854 310 854 311 807 312 859 313 872 314 833 315 807 316 863 317 826 318 874 319 861 320 804 321 753 322 810 323 811 324 777 325 864 326 860 327 833 328 821 329 821 330 805 331 810 332 852 333 827 334 791 335 818 336 833 337 808 338 855 339 830 340 849 341 802 342 751 343 829 344 877 345 876 346 828 347 787 348 831 349 815 350 833 351 835 352 778 353 803 354 836 355 831 356 851 357 934 358 849 359 832 360 852 361 856 362 817 363 812 364 841 365 857 366 858 367 823 368 812 369 792 370 761 371 813 372 793 373 809 374 822 375 820 376 822 377 803 378 820 379 817 380 819 381 767 382 838 383 819 384 795 385 869 386 851 387 836 388 774 389 827 390 839 391 823 392 843 393 839 394 801 395 819 396 832 397 808 398 823 399 823 400 835 401 866 402 856 403 816 404 828 405 791 406 815 407 858 408 871 409 848 410 830 411 840 412 836 413 829 414 830 415 812 416 838 417 821 418 810 419 855 420 853 421 801 422 836 423 838 424 831 425 861 426 839 427 828 428 850 429 789 430 832 431 831 432 859 433 910 434 871 435 839 436 835 437 849 438 833 439 823 440 832 441 796 442 814 443 782 444 777 445 781 446 789 447 802 448 838 449 845 450 832 451 836 452 847 453 804 454 812 455 788 456 805 457 821 458 822 459 833 460 855 461 847 462 874 463 842 464 843 465 838 466 894 467 873 468 853 469 846 470 826 471 805 472 817 473 826 474 849 475 856 476 843 477 827 478 814 479 809 480 821 481 835 482 840 483 831 484 828 485 827 486 820 487 779 488 808 489 806 490 826 491 831 492 852 493 844 494 849 495 812 496 830 497 872 498 836 499 858 500 862 501 858 502 827 503 814 504 866 505 847 506 851 507 837 508 851 509 869 510 839 511 812 512 783 513 832 514 783 515 794 516 791 517 795 518 732 519 770 520 837 521 810 522 787 523 855 524 846 525 864 526 828 527 809 528 809 529 794 530 816 531 838 532 823 533 793 534 803 535 797 536 818 537 830 538 839 539 840 540 826 541 861 542 843 543 824 544 856 545 830 546 847 547 850 548 823 549 829 550 807 551 814 552 797 553 875 554 834 555 828 556 802 557 825 558 784 559 861 560 810 561 850 562 826 563 798 564 815 565 866 566 874 567 879 568 870 569 831 570 861 571 880 572 842 573 802 574 810 575 811 576 796 577 819 578 798 579 851 580 768 581 817 582 838 583 845 584 838 585 778 586 827 587 848 588 831 589 803 590 809 591 844 592 844 593 824 594 880 595 882 596 859 597 859 598 862 599 836 600 861 601 871 602 848 603 874 604 865 605 811 606 835 607 815 608 821 609 833 610 842 611 872 612 836 613 865 614 884 615 871 616 806 617 882 618 850 619 847 620 852 621 850 622 878 623 860 624 913 625 836 626 839 627 835 628 831 629 809 630 838 631 852 632 824 633 828 634 844 635 809 636 828 637 829 638 801 639 802 640 830 641 846 642 827 643 823 644 832 645 840 646 831 647 854 648 848 649 831 650 821 651 803 652 802 653 777 654 823 655 832 656 819 657 821 658 829 659 865 660 842 661 846 662 841 663 858 664 850 665 860 666 872 667 833 668 843 669 822 670 832 671 820 672 830 673 806 674 850 675 827 676 810 677 794 678 800 679 794 680 817 681 807 682 835 683 842 684 824 685 819 686 802 687 794 688 823 689 816 690 815 691 807 692 846 693 820 694 805 695 842 696 816 697 824 698 771 699 829 700 834 701 838 702 814 703 809 704 814 705 821 706 802 707 817 708 839 709 853 710 832 711 848 712 868 713 849 714 849 715 844 716 845 717 807 718 795 719 802 720 772 721 822 722 837 723 843 724 862 725 852 726 840 727 830 728 832 729 846 730 842 731 843 732 845 733 820 734 820 735 836 736 841 737 833 738 839 739 855 740 863 741 864 742 859 743 858 744 859 745 861 746 852 747 844 748 849 749 855 750 858 751 865 752 862 753 856 754 852 755 855 756 853 757 852 758 854 759 854 760 851 761 848 762 854 763 857 764 857 765 857 766 860 767 863 768 862 769 860 770 859 771 857 772 854 773 853 774 852 775 849 776 846 777 846 778 844 779 843 780 846 781 844 782 841 783 842 784 839 785 842 786 838 787 837 788 838 789 842 790 847 791 847 792 856 793 861 794 863 795 866 796 866 797 867 798 864 799 868 800 866 801 865 802 862 803 862 804 862 805 867 806 864 807 865 808 865 809 870 810 869 811 867 812 864 813 842 814 841 815 844 816 842 817 845 818 844 819 844 820 843 821 843 822 843 823 842 824 843 825 846 826 841 827 840 828 843 829 846 830 845 831 846 832 849 833 849 834 847 835 849 836 848 837 847 838 835 839 836 840 836 841 831 842 830 843 827 844 828 845 826 846 828 847 827 848 832 849 833 850 835 851 835 852 835 853 836 854 835 855 853 856 855 857 855 858 851 859 851 860 857 861 855 862 854 863 854 864 852 865 855 866 852 867 852 868 850 869 850 870 852 871 852 872 852 873 854 874 856 875 850 876 851 877 848 878 850 879 849 880 852 881 854 882 855 883 854 884 851 885 851 886 852 887 858 888 858 889 859 890 861 891 856 892 857 893 859 894 862 895 863 896 861 897 858 898 858 899 857 900 850 901 850 902 847 903 848 904 847 905 848 906 850 907 843 908 844 909 843 910 843 911 841 912 845 913 845 914 840 915 841 916 859 917 861 918 861 919 860 920 836 921 839 922 839 923 837 924 836 925 836 926 835 927 837 928 853 929 851 930 854 931 852 932 852 933 849 934 848 935 843 936 842 937 846 938 845 939 847 940 846 941 849 942 838 943 842 944 845 945 843 946 840 947 840 948 843 949 841 950 842 951 842 952 844 953 846 954 847 955 848 956 848 957 844 958 841 959 842 960 851 961 851 962 852 963 863 964 864 965 866 966 868 967 870 968 846 969 845 970 847 971 846 972 846 973 845 974 846 975 845 976 844 977 863 978 863 979 861 980 859 981 856 982 857 983 855 984 854 985 840 986 853 987 853 988 853 989 854 990 854 991 853 992 854 993 855 994 860 995 860 996 861 997 859 998 857 999 856 1000 853"/>
</g>
<rect x="65.70" y="605.80" width="470.50" height="247.40" fill="none" stroke="#8a8a8a" stroke-width="1.0"/>
<path d="M65.70 853.20v-4.50M65.70 605.80v4.50M65.70 853.20h4.50M536.20 853.20h-4.50M112.75 853.20v-4.50M112.75 605.80v4.50M65.70 828.46h4.50M536.20 828.46h-4.50M159.80 853.20v-4.50M159.80 605.80v4.50M65.70 803.72h4.50M536.20 803.72h-4.50M206.85 853.20v-4.50M206.85 605.80v4.50M65.70 778.98h4.50M536.20 778.98h-4.50M253.90 853.20v-4.50M253.90 605.80v4.50M65.70 754.24h4.50M536.20 754.24h-4.50M300.95 853.20v-4.50M300.95 605.80v4.50M65.70 729.50h4.50M536.20 729.50h-4.50M348.00 853.20v-4.50M348.00 605.80v4.50M65.70 704.76h4.50M536.20 704.76h-4.50M395.05 853.20v-4.50M395.05 605.80v4.50M65.70 680.02h4.50M536.20 680.02h-4.50M442.10 853.20v-4.50M442.10 605.80v4.50M65.70 655.28h4.50M536.20 655.28h-4.50M489.15 853.20v-4.50M489.15 605.80v4.50M65.70 630.54h4.50M536.20 630.54h-4.50M536.20 853.20v-4.50M536.20 605.80v4.50M65.70 605.80h4.50M536.20 605.80h-4.50" stroke="#8a8a8a" stroke-width="1.0" fill="none"/>
<text x="65.70" y="864.50" font-size="8.7" text-anchor="middle">0</text>
<text x="63.10" y="855.90" font-size="8.7" text-anchor="end">0</text>
<text x="112.75" y="864.50" font-size="8.7" text-anchor="middle">100</text>
<text x="63.10" y="831.16" font-size="8.7" text-anchor="end">0.1</text>
<text x="159.80" y="864.50" font-size="8.7" text-anchor="middle">200</text>
<text x="63.10" y="806.42" font-size="8.7" text-anchor="end">0.2</text>
<text x="206.85" y="864.50" font-size="8.7" text-anchor="middle">300</text>
<text x="63.10" y="781.68" font-size="8.7" text-anchor="end">0.3</text>
<text x="253.90" y="864.50" font-size="8.7" text-anchor="middle">400</text>
<text x="63.10" y="756.94" font-size="8.7" text-anchor="end">0.4</text>
<text x="300.95" y="864.50" font-size="8.7" text-anchor="middle">500</text>
<text x="63.10" y="732.20" font-size="8.7" text-anchor="end">0.5</text>
<text x="348.00" y="864.50" font-size="8.7" text-anchor="middle">600</text>
<text x="63.10" y="707.46" font-size="8.7" text-anchor="end">0.6</text>
<text x="395.05" y="864.50" font-size="8.7" text-anchor="middle">700</text>
<text x="63.10" y="682.72" font-size="8.7" text-anchor="end">0.7</text>
<text x="442.10" y="864.50" font-size="8.7" text-anchor="middle">800</text>
<text x="63.10" y="657.98" font-size="8.7" text-anchor="end">0.8</text>
<text x="489.15" y="864.50" font-size="8.7" text-anchor="middle">900</text>
<text x="63.10" y="633.24" font-size="8.7" text-anchor="end">0.9</text>
<text x="536.20" y="864.50" font-size="8.7" text-anchor="middle">1000</text>
<text x="63.10" y="608.50" font-size="8.7" text-anchor="end">1</text>
<text x="300.95" y="874.70" font-size="9.1" text-anchor="middle">epoch</text>
<text transform="translate(49.40 729.30) rotate(-90)" font-size="9.1" text-anchor="middle">Recall</text>
<text x="4.80" y="642.80" font-size="13.5">(c)</text>
<rect x="414.40" y="779.70" width="118.20" height="70.40" fill="#fff" stroke="#8a8a8a" stroke-width="1.0"/>
<path d="M415.80 784.80h12.00" stroke="#00FFFF" stroke-width="1.2"/>
<text class="lg" x="429.30" y="787.70" font-size="8.4">YOLOv5s</text>
<path d="M415.80 794.80h12.00" stroke="#000000" stroke-width="1.2"/>
<text class="lg" x="429.30" y="797.70" font-size="8.4">YOLOv5s-MobileNet-CBAM</text>
<path d="M415.80 804.80h12.00" stroke="#FF00FF" stroke-width="1.2"/>
<text class="lg" x="429.30" y="807.70" font-size="8.4">YOLOv5s-MobileNet-CA</text>
<path d="M415.80 814.80h12.00" stroke="#9A30B0" stroke-width="1.2"/>
<text class="lg" x="429.30" y="817.70" font-size="8.4">YOLOv5s-MobileNet-SA</text>
<path d="M415.80 824.80h12.00" stroke="#62B22C" stroke-width="1.2"/>
<text class="lg" x="429.30" y="827.70" font-size="8.4">YOLOv5s-ShuffleNet-CBAM</text>
<path d="M415.80 834.80h12.00" stroke="#0000FF" stroke-width="1.2"/>
<text class="lg" x="429.30" y="837.70" font-size="8.4">YOLOv5s-ShuffleNet-CA</text>
<path d="M415.80 844.80h12.00" stroke="#10A0F0" stroke-width="1.2"/>
<text class="lg" x="429.30" y="847.70" font-size="8.4">YOLOv5s-GhostNet-CBAM</text>
</g>
</svg></body></html>
